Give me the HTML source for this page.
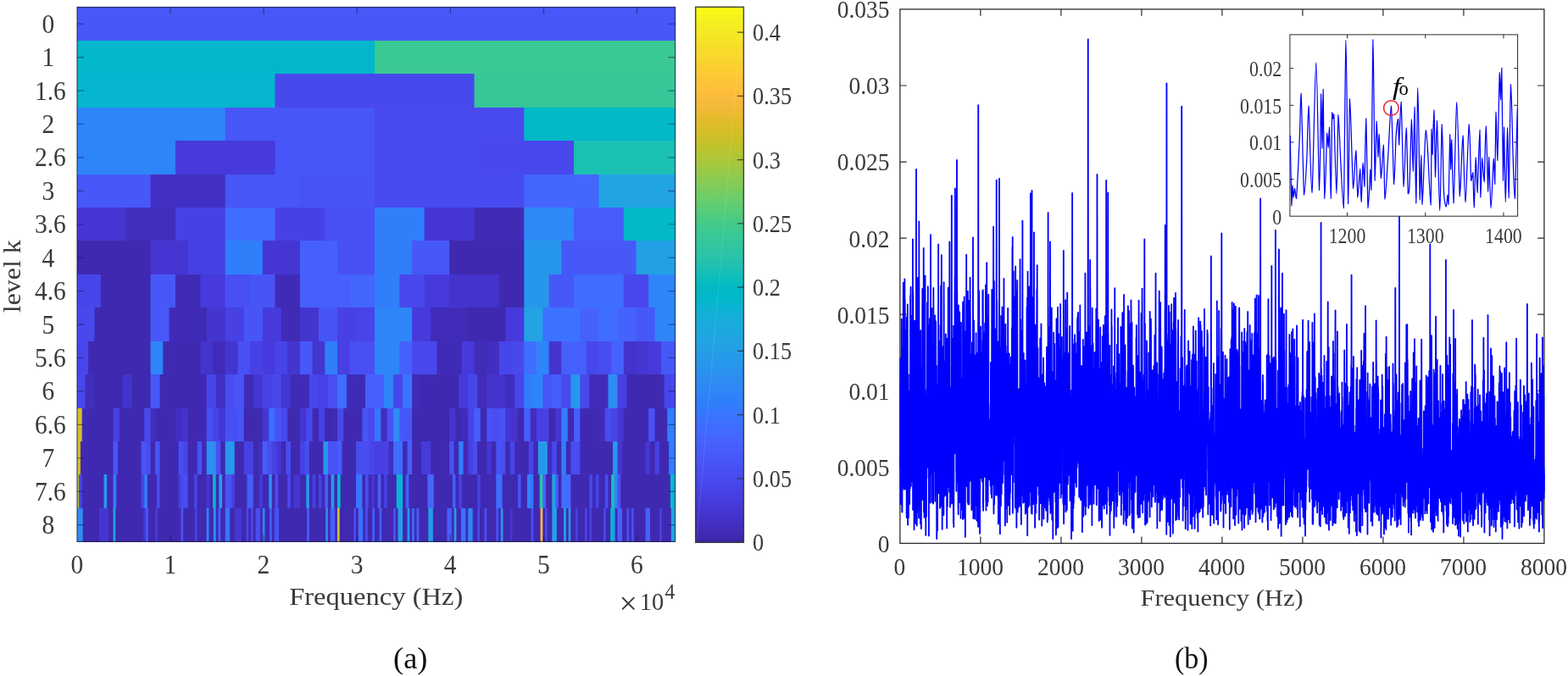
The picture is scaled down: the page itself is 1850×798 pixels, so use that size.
<!DOCTYPE html>
<html lang="en"><head><meta charset="utf-8"><title>Kurtogram and envelope spectrum</title>
<style>html,body{margin:0;padding:0;background:#fff}body{width:1850px;height:798px;overflow:hidden}svg{display:block}text{font-family:"Liberation Serif",serif;fill:#3a3a3a}</style></head><body>
<svg width="1850" height="798" viewBox="0 0 1850 798">
<rect width="1850" height="798" fill="#fff"/>
<rect x="91" y="8.5" width="705.6" height="630.8" fill="#3e26a8"/>
<defs>
<clipPath id="r0"><rect x="91" y="8" width="706" height="40"/></clipPath>
<clipPath id="r1"><rect x="91" y="48" width="706" height="39"/></clipPath>
<clipPath id="r2"><rect x="91" y="87" width="706" height="40"/></clipPath>
<clipPath id="r3"><rect x="91" y="127" width="706" height="39"/></clipPath>
<clipPath id="r4"><rect x="91" y="166" width="706" height="40"/></clipPath>
<clipPath id="r5"><rect x="91" y="206" width="706" height="39"/></clipPath>
<clipPath id="r6"><rect x="91" y="245" width="706" height="39"/></clipPath>
<clipPath id="r7"><rect x="91" y="284" width="706" height="40"/></clipPath>
<clipPath id="r8"><rect x="91" y="324" width="706" height="39"/></clipPath>
<clipPath id="r9"><rect x="91" y="363" width="706" height="40"/></clipPath>
<clipPath id="r10"><rect x="91" y="403" width="706" height="39"/></clipPath>
<clipPath id="r11"><rect x="91" y="442" width="706" height="40"/></clipPath>
<clipPath id="r12"><rect x="91" y="482" width="706" height="39"/></clipPath>
<clipPath id="r13"><rect x="91" y="521" width="706" height="39"/></clipPath>
<clipPath id="r14"><rect x="91" y="560" width="706" height="40"/></clipPath>
<clipPath id="r15"><rect x="91" y="600" width="706" height="40"/></clipPath>
</defs>
<g clip-path="url(#r0)">
<rect x="85" y="5" width="717.6" height="46" fill="#4758f8"/>
</g>
<g clip-path="url(#r1)">
<rect x="85" y="45" width="717.6" height="45" fill="#02b7cb"/>
<rect x="442.02" y="45" width="360.58" height="45" fill="#3bc993"/>
</g>
<g clip-path="url(#r2)">
<rect x="85" y="84" width="717.6" height="46" fill="#06b6ce"/>
<rect x="324.49" y="84" width="478.11" height="46" fill="#4849ed"/>
<rect x="559.55" y="84" width="243.05" height="46" fill="#36c799"/>
</g>
<g clip-path="url(#r3)">
<rect x="85" y="124" width="717.6" height="45" fill="#2e85f8"/>
<rect x="265.73" y="124" width="536.87" height="45" fill="#4757f7"/>
<rect x="442.02" y="124" width="360.58" height="45" fill="#484aee"/>
<rect x="618.31" y="124" width="184.29" height="45" fill="#01b9c7"/>
</g>
<g clip-path="url(#r4)">
<rect x="85" y="163" width="717.6" height="46" fill="#2e85f8"/>
<rect x="206.97" y="163" width="595.63" height="46" fill="#463adc"/>
<rect x="324.49" y="163" width="478.11" height="46" fill="#4756f6"/>
<rect x="442.02" y="163" width="360.58" height="46" fill="#484bef"/>
<rect x="559.55" y="163" width="243.05" height="46" fill="#4848ec"/>
<rect x="677.07" y="163" width="125.53" height="46" fill="#1bc0b4"/>
</g>
<g clip-path="url(#r5)">
<rect x="85" y="203" width="717.6" height="45" fill="#4758f8"/>
<rect x="177.58" y="203" width="625.02" height="45" fill="#4230c4"/>
<rect x="265.73" y="203" width="536.87" height="45" fill="#4756f6"/>
<rect x="353.88" y="203" width="448.73" height="45" fill="#4853f5"/>
<rect x="442.02" y="203" width="360.58" height="45" fill="#484bef"/>
<rect x="618.31" y="203" width="184.29" height="45" fill="#4466fd"/>
<rect x="706.45" y="203" width="96.15" height="45" fill="#21a3e4"/>
</g>
<g clip-path="url(#r6)">
<rect x="85" y="242" width="717.6" height="45" fill="#4536d3"/>
<rect x="148.2" y="242" width="654.4" height="45" fill="#412ebd"/>
<rect x="206.97" y="242" width="595.63" height="45" fill="#4740e3"/>
<rect x="265.73" y="242" width="536.87" height="45" fill="#3f6dfe"/>
<rect x="324.49" y="242" width="478.11" height="45" fill="#4741e5"/>
<rect x="383.26" y="242" width="419.34" height="45" fill="#4850f3"/>
<rect x="442.02" y="242" width="360.58" height="45" fill="#317efb"/>
<rect x="500.78" y="242" width="301.82" height="45" fill="#4536d3"/>
<rect x="559.55" y="242" width="243.05" height="45" fill="#402bb7"/>
<rect x="618.31" y="242" width="184.29" height="45" fill="#2d89f5"/>
<rect x="677.07" y="242" width="125.53" height="45" fill="#475cfa"/>
<rect x="735.84" y="242" width="66.76" height="45" fill="#01b9c7"/>
</g>
<g clip-path="url(#r7)">
<rect x="85" y="281" width="717.6" height="46" fill="#3f29b0"/>
<rect x="177.58" y="281" width="625.02" height="46" fill="#4536d3"/>
<rect x="221.66" y="281" width="580.94" height="46" fill="#4740e3"/>
<rect x="265.73" y="281" width="536.87" height="46" fill="#317efb"/>
<rect x="309.8" y="281" width="492.8" height="46" fill="#4536d3"/>
<rect x="353.88" y="281" width="448.73" height="46" fill="#4660fb"/>
<rect x="397.95" y="281" width="404.65" height="46" fill="#4850f3"/>
<rect x="442.02" y="281" width="360.58" height="46" fill="#317efb"/>
<rect x="486.09" y="281" width="316.51" height="46" fill="#4758f8"/>
<rect x="530.16" y="281" width="272.44" height="46" fill="#3f29b0"/>
<rect x="618.31" y="281" width="184.29" height="46" fill="#2797eb"/>
<rect x="662.38" y="281" width="140.22" height="46" fill="#4758f8"/>
<rect x="750.53" y="281" width="52.07" height="46" fill="#23a0e5"/>
</g>
<g clip-path="url(#r8)">
<rect x="85" y="321" width="717.6" height="45" fill="#4746eb"/>
<rect x="118.82" y="321" width="683.78" height="45" fill="#3f29b0"/>
<rect x="177.58" y="321" width="625.02" height="45" fill="#4758f8"/>
<rect x="206.97" y="321" width="595.63" height="45" fill="#402bb7"/>
<rect x="236.35" y="321" width="566.25" height="45" fill="#463adc"/>
<rect x="265.73" y="321" width="536.87" height="45" fill="#4850f3"/>
<rect x="295.11" y="321" width="507.49" height="45" fill="#4755f6"/>
<rect x="324.49" y="321" width="478.11" height="45" fill="#402bb7"/>
<rect x="353.88" y="321" width="448.73" height="45" fill="#4660fb"/>
<rect x="412.64" y="321" width="389.96" height="45" fill="#4466fd"/>
<rect x="442.02" y="321" width="360.58" height="45" fill="#317efb"/>
<rect x="471.4" y="321" width="331.2" height="45" fill="#4848ec"/>
<rect x="500.78" y="321" width="301.82" height="45" fill="#463adc"/>
<rect x="530.16" y="321" width="272.44" height="45" fill="#4433cc"/>
<rect x="588.93" y="321" width="213.67" height="45" fill="#3f29b0"/>
<rect x="618.31" y="321" width="184.29" height="45" fill="#2797eb"/>
<rect x="647.69" y="321" width="154.91" height="45" fill="#4758f8"/>
<rect x="677.07" y="321" width="125.53" height="45" fill="#3f6dfe"/>
<rect x="735.84" y="321" width="66.76" height="45" fill="#4848ec"/>
<rect x="765.22" y="321" width="37.38" height="45" fill="#2e85f8"/>
</g>
<g clip-path="url(#r9)">
<rect x="85" y="360" width="717.6" height="46" fill="#4848ec"/>
<rect x="111.48" y="360" width="691.12" height="46" fill="#3f29b0"/>
<rect x="177.58" y="360" width="625.02" height="46" fill="#4758f8"/>
<rect x="199.62" y="360" width="602.98" height="46" fill="#402bb7"/>
<rect x="243.69" y="360" width="558.91" height="46" fill="#4435d0"/>
<rect x="265.73" y="360" width="536.87" height="46" fill="#4740e3"/>
<rect x="287.77" y="360" width="514.83" height="46" fill="#4755f6"/>
<rect x="309.8" y="360" width="492.8" height="46" fill="#463adc"/>
<rect x="331.84" y="360" width="470.76" height="46" fill="#402bb7"/>
<rect x="353.88" y="360" width="448.73" height="46" fill="#4435d0"/>
<rect x="375.91" y="360" width="426.69" height="46" fill="#4755f6"/>
<rect x="397.95" y="360" width="404.65" height="46" fill="#4741e5"/>
<rect x="419.98" y="360" width="382.62" height="46" fill="#4744e8"/>
<rect x="442.02" y="360" width="360.58" height="46" fill="#2e85f8"/>
<rect x="486.09" y="360" width="316.51" height="46" fill="#463adc"/>
<rect x="508.13" y="360" width="294.47" height="46" fill="#412cb9"/>
<rect x="552.2" y="360" width="250.4" height="46" fill="#3f29b0"/>
<rect x="596.27" y="360" width="206.33" height="46" fill="#463adc"/>
<rect x="618.31" y="360" width="184.29" height="46" fill="#21a3e4"/>
<rect x="640.35" y="360" width="162.25" height="46" fill="#3b72ff"/>
<rect x="684.42" y="360" width="118.18" height="46" fill="#4562fc"/>
<rect x="706.45" y="360" width="96.15" height="46" fill="#3f6dfe"/>
<rect x="728.49" y="360" width="74.11" height="46" fill="#4562fc"/>
<rect x="750.53" y="360" width="52.07" height="46" fill="#4758f8"/>
<rect x="772.56" y="360" width="30.04" height="46" fill="#2e85f8"/>
</g>
<g clip-path="url(#r10)">
<rect x="85" y="400" width="717.6" height="45" fill="#4746eb"/>
<rect x="104.13" y="400" width="698.47" height="45" fill="#3f29b0"/>
<rect x="177.58" y="400" width="625.02" height="45" fill="#2e85f8"/>
<rect x="192.28" y="400" width="610.32" height="45" fill="#402ab4"/>
<rect x="206.97" y="400" width="595.63" height="45" fill="#3f29b0"/>
<rect x="236.35" y="400" width="566.25" height="45" fill="#4433cc"/>
<rect x="251.04" y="400" width="551.56" height="45" fill="#412cb9"/>
<rect x="265.73" y="400" width="536.87" height="45" fill="#4435d0"/>
<rect x="280.42" y="400" width="522.18" height="45" fill="#4850f3"/>
<rect x="295.11" y="400" width="507.49" height="45" fill="#4741e5"/>
<rect x="309.8" y="400" width="492.8" height="45" fill="#463adc"/>
<rect x="324.49" y="400" width="478.11" height="45" fill="#4744e8"/>
<rect x="339.18" y="400" width="463.42" height="45" fill="#4435d0"/>
<rect x="353.88" y="400" width="448.73" height="45" fill="#4758f8"/>
<rect x="368.57" y="400" width="434.03" height="45" fill="#4435d0"/>
<rect x="383.26" y="400" width="419.34" height="45" fill="#317efb"/>
<rect x="397.95" y="400" width="404.65" height="45" fill="#4740e3"/>
<rect x="412.64" y="400" width="389.96" height="45" fill="#4850f3"/>
<rect x="442.02" y="400" width="360.58" height="45" fill="#2e85f8"/>
<rect x="471.4" y="400" width="331.2" height="45" fill="#4660fb"/>
<rect x="486.09" y="400" width="316.51" height="45" fill="#4848ec"/>
<rect x="515.47" y="400" width="287.13" height="45" fill="#402bb7"/>
<rect x="544.86" y="400" width="257.74" height="45" fill="#463adc"/>
<rect x="559.55" y="400" width="243.05" height="45" fill="#412cb9"/>
<rect x="574.24" y="400" width="228.36" height="45" fill="#422fc1"/>
<rect x="588.93" y="400" width="213.67" height="45" fill="#4746eb"/>
<rect x="603.62" y="400" width="198.98" height="45" fill="#4848ec"/>
<rect x="618.31" y="400" width="184.29" height="45" fill="#3f6dfe"/>
<rect x="633" y="400" width="169.6" height="45" fill="#2e85f8"/>
<rect x="647.69" y="400" width="154.91" height="45" fill="#4435d0"/>
<rect x="662.38" y="400" width="140.22" height="45" fill="#4660fb"/>
<rect x="691.76" y="400" width="110.84" height="45" fill="#4746eb"/>
<rect x="706.45" y="400" width="96.15" height="45" fill="#484df0"/>
<rect x="721.15" y="400" width="81.45" height="45" fill="#4562fc"/>
<rect x="735.84" y="400" width="66.76" height="45" fill="#4433cc"/>
<rect x="750.53" y="400" width="52.07" height="45" fill="#4536d3"/>
<rect x="765.22" y="400" width="37.38" height="45" fill="#463adc"/>
<rect x="779.91" y="400" width="22.69" height="45" fill="#4758f8"/>
</g>
<g clip-path="url(#r11)">
<rect x="85" y="439" width="717.6" height="46" fill="#4848ec"/>
<rect x="100.46" y="439" width="702.14" height="46" fill="#412ebd"/>
<rect x="111.48" y="439" width="691.12" height="46" fill="#3f29b0"/>
<rect x="144.53" y="439" width="658.07" height="46" fill="#4433cc"/>
<rect x="155.55" y="439" width="647.05" height="46" fill="#3f29b0"/>
<rect x="177.58" y="439" width="625.02" height="46" fill="#4758f8"/>
<rect x="188.6" y="439" width="614" height="46" fill="#3f29b0"/>
<rect x="243.69" y="439" width="558.91" height="46" fill="#4746eb"/>
<rect x="254.71" y="439" width="547.89" height="46" fill="#4230c4"/>
<rect x="265.73" y="439" width="536.87" height="46" fill="#484df0"/>
<rect x="276.75" y="439" width="525.85" height="46" fill="#4755f6"/>
<rect x="287.77" y="439" width="514.83" height="46" fill="#402bb7"/>
<rect x="298.78" y="439" width="503.82" height="46" fill="#4536d3"/>
<rect x="309.8" y="439" width="492.8" height="46" fill="#4741e5"/>
<rect x="320.82" y="439" width="481.78" height="46" fill="#4848ec"/>
<rect x="331.84" y="439" width="470.76" height="46" fill="#4435d0"/>
<rect x="342.86" y="439" width="459.74" height="46" fill="#402bb7"/>
<rect x="364.89" y="439" width="437.71" height="46" fill="#4746eb"/>
<rect x="375.91" y="439" width="426.69" height="46" fill="#4741e5"/>
<rect x="386.93" y="439" width="415.67" height="46" fill="#4850f3"/>
<rect x="397.95" y="439" width="404.65" height="46" fill="#3f6dfe"/>
<rect x="408.97" y="439" width="393.63" height="46" fill="#402bb7"/>
<rect x="431" y="439" width="371.6" height="46" fill="#4660fb"/>
<rect x="453.04" y="439" width="349.56" height="46" fill="#2e85f8"/>
<rect x="464.06" y="439" width="338.54" height="46" fill="#4746eb"/>
<rect x="475.07" y="439" width="327.53" height="46" fill="#3b72ff"/>
<rect x="486.09" y="439" width="316.51" height="46" fill="#402bb7"/>
<rect x="497.11" y="439" width="305.49" height="46" fill="#3f29b0"/>
<rect x="541.18" y="439" width="261.42" height="46" fill="#463adc"/>
<rect x="552.2" y="439" width="250.4" height="46" fill="#4746eb"/>
<rect x="563.22" y="439" width="239.38" height="46" fill="#412cb9"/>
<rect x="574.24" y="439" width="228.36" height="46" fill="#4433cc"/>
<rect x="596.27" y="439" width="206.33" height="46" fill="#412ebd"/>
<rect x="607.29" y="439" width="195.31" height="46" fill="#4746eb"/>
<rect x="618.31" y="439" width="184.29" height="46" fill="#317efb"/>
<rect x="629.33" y="439" width="173.27" height="46" fill="#2e85f8"/>
<rect x="640.35" y="439" width="162.25" height="46" fill="#4755f6"/>
<rect x="651.36" y="439" width="151.24" height="46" fill="#465efb"/>
<rect x="662.38" y="439" width="140.22" height="46" fill="#4848ec"/>
<rect x="673.4" y="439" width="129.2" height="46" fill="#2797eb"/>
<rect x="684.42" y="439" width="118.18" height="46" fill="#4848ec"/>
<rect x="695.44" y="439" width="107.16" height="46" fill="#412cb9"/>
<rect x="717.47" y="439" width="85.13" height="46" fill="#2d8df2"/>
<rect x="728.49" y="439" width="74.11" height="46" fill="#4740e3"/>
<rect x="739.51" y="439" width="63.09" height="46" fill="#3f29b0"/>
<rect x="783.58" y="439" width="19.02" height="46" fill="#4746eb"/>
</g>
<g clip-path="url(#r12)">
<rect x="85" y="479" width="717.6" height="45" fill="#d3bf27"/>
<rect x="96.79" y="479" width="705.81" height="45" fill="#402bb7"/>
<rect x="104.13" y="479" width="698.47" height="45" fill="#3f29b0"/>
<rect x="133.51" y="479" width="669.09" height="45" fill="#4741e5"/>
<rect x="140.86" y="479" width="661.74" height="45" fill="#3f29b0"/>
<rect x="170.24" y="479" width="632.36" height="45" fill="#4848ec"/>
<rect x="177.58" y="479" width="625.02" height="45" fill="#412ebd"/>
<rect x="184.93" y="479" width="617.67" height="45" fill="#3f29b0"/>
<rect x="206.97" y="479" width="595.63" height="45" fill="#422fc1"/>
<rect x="214.31" y="479" width="588.29" height="45" fill="#4433cc"/>
<rect x="221.66" y="479" width="580.94" height="45" fill="#3f29b0"/>
<rect x="243.69" y="479" width="558.91" height="45" fill="#4850f3"/>
<rect x="251.04" y="479" width="551.56" height="45" fill="#4744e8"/>
<rect x="258.38" y="479" width="544.22" height="45" fill="#4536d3"/>
<rect x="265.73" y="479" width="536.87" height="45" fill="#4850f3"/>
<rect x="280.42" y="479" width="522.18" height="45" fill="#4755f6"/>
<rect x="287.77" y="479" width="514.83" height="45" fill="#3f29b0"/>
<rect x="309.8" y="479" width="492.8" height="45" fill="#4536d3"/>
<rect x="317.15" y="479" width="485.45" height="45" fill="#3f6dfe"/>
<rect x="324.49" y="479" width="478.11" height="45" fill="#4852f4"/>
<rect x="331.84" y="479" width="470.76" height="45" fill="#4848ec"/>
<rect x="339.18" y="479" width="463.42" height="45" fill="#3f29b0"/>
<rect x="353.88" y="479" width="448.73" height="45" fill="#4536d3"/>
<rect x="361.22" y="479" width="441.38" height="45" fill="#4848ec"/>
<rect x="368.57" y="479" width="434.03" height="45" fill="#3f29b0"/>
<rect x="375.91" y="479" width="426.69" height="45" fill="#4740e3"/>
<rect x="383.26" y="479" width="419.34" height="45" fill="#3f29b0"/>
<rect x="390.6" y="479" width="412" height="45" fill="#402ab4"/>
<rect x="397.95" y="479" width="404.65" height="45" fill="#4848ec"/>
<rect x="405.29" y="479" width="397.31" height="45" fill="#3f29b0"/>
<rect x="427.33" y="479" width="375.27" height="45" fill="#4755f6"/>
<rect x="434.67" y="479" width="367.93" height="45" fill="#4848ec"/>
<rect x="442.02" y="479" width="360.58" height="45" fill="#3875fe"/>
<rect x="449.37" y="479" width="353.23" height="45" fill="#412ebd"/>
<rect x="456.71" y="479" width="345.89" height="45" fill="#4852f4"/>
<rect x="464.06" y="479" width="338.54" height="45" fill="#2d8df2"/>
<rect x="471.4" y="479" width="331.2" height="45" fill="#4758f8"/>
<rect x="478.75" y="479" width="323.85" height="45" fill="#4755f6"/>
<rect x="486.09" y="479" width="316.51" height="45" fill="#3f29b0"/>
<rect x="530.16" y="479" width="272.44" height="45" fill="#4435d0"/>
<rect x="537.51" y="479" width="265.09" height="45" fill="#3f29b0"/>
<rect x="544.86" y="479" width="257.74" height="45" fill="#412cb9"/>
<rect x="552.2" y="479" width="250.4" height="45" fill="#4744e8"/>
<rect x="559.55" y="479" width="243.05" height="45" fill="#465efb"/>
<rect x="566.89" y="479" width="235.71" height="45" fill="#3f29b0"/>
<rect x="574.24" y="479" width="228.36" height="45" fill="#4852f4"/>
<rect x="581.58" y="479" width="221.02" height="45" fill="#484df0"/>
<rect x="588.93" y="479" width="213.67" height="45" fill="#4852f4"/>
<rect x="596.27" y="479" width="206.33" height="45" fill="#4536d3"/>
<rect x="603.62" y="479" width="198.98" height="45" fill="#4433cc"/>
<rect x="610.96" y="479" width="191.64" height="45" fill="#3f29b0"/>
<rect x="618.31" y="479" width="184.29" height="45" fill="#465efb"/>
<rect x="625.66" y="479" width="176.94" height="45" fill="#412ebd"/>
<rect x="633" y="479" width="169.6" height="45" fill="#4740e3"/>
<rect x="647.69" y="479" width="154.91" height="45" fill="#3f29b0"/>
<rect x="655.04" y="479" width="147.56" height="45" fill="#4536d3"/>
<rect x="662.38" y="479" width="140.22" height="45" fill="#317efb"/>
<rect x="669.73" y="479" width="132.87" height="45" fill="#3f29b0"/>
<rect x="677.07" y="479" width="125.53" height="45" fill="#465efb"/>
<rect x="684.42" y="479" width="118.18" height="45" fill="#3f29b0"/>
<rect x="706.45" y="479" width="96.15" height="45" fill="#412cb9"/>
<rect x="713.8" y="479" width="88.8" height="45" fill="#484df0"/>
<rect x="721.15" y="479" width="81.45" height="45" fill="#4744e8"/>
<rect x="728.49" y="479" width="74.11" height="45" fill="#4536d3"/>
<rect x="735.84" y="479" width="66.76" height="45" fill="#3f29b0"/>
<rect x="765.22" y="479" width="37.38" height="45" fill="#4852f4"/>
<rect x="772.56" y="479" width="30.04" height="45" fill="#3f29b0"/>
<rect x="787.25" y="479" width="15.35" height="45" fill="#317efb"/>
</g>
<g clip-path="url(#r13)">
<rect x="85" y="518" width="717.6" height="45" fill="#d3bf27"/>
<rect x="94.95" y="518" width="707.65" height="45" fill="#3f29b0"/>
<rect x="133.51" y="518" width="669.09" height="45" fill="#4755f6"/>
<rect x="139.02" y="518" width="663.58" height="45" fill="#3f29b0"/>
<rect x="166.57" y="518" width="636.03" height="45" fill="#4755f6"/>
<rect x="172.08" y="518" width="630.52" height="45" fill="#484df0"/>
<rect x="177.58" y="518" width="625.02" height="45" fill="#3f29b0"/>
<rect x="183.09" y="518" width="619.51" height="45" fill="#4755f6"/>
<rect x="188.6" y="518" width="614" height="45" fill="#3f29b0"/>
<rect x="210.64" y="518" width="591.96" height="45" fill="#484df0"/>
<rect x="216.15" y="518" width="586.45" height="45" fill="#4744e8"/>
<rect x="221.66" y="518" width="580.94" height="45" fill="#3f29b0"/>
<rect x="232.68" y="518" width="569.92" height="45" fill="#4852f4"/>
<rect x="238.18" y="518" width="564.42" height="45" fill="#3f29b0"/>
<rect x="243.69" y="518" width="558.91" height="45" fill="#2d8df2"/>
<rect x="254.71" y="518" width="547.89" height="45" fill="#4852f4"/>
<rect x="260.22" y="518" width="542.38" height="45" fill="#3f29b0"/>
<rect x="265.73" y="518" width="536.87" height="45" fill="#2797eb"/>
<rect x="276.75" y="518" width="525.85" height="45" fill="#3f29b0"/>
<rect x="287.77" y="518" width="514.83" height="45" fill="#4740e3"/>
<rect x="298.78" y="518" width="503.82" height="45" fill="#3f29b0"/>
<rect x="304.29" y="518" width="498.31" height="45" fill="#412ebd"/>
<rect x="309.8" y="518" width="492.8" height="45" fill="#465efb"/>
<rect x="315.31" y="518" width="487.29" height="45" fill="#484df0"/>
<rect x="320.82" y="518" width="481.78" height="45" fill="#4740e3"/>
<rect x="326.33" y="518" width="476.27" height="45" fill="#4536d3"/>
<rect x="331.84" y="518" width="470.76" height="45" fill="#3f29b0"/>
<rect x="337.35" y="518" width="465.25" height="45" fill="#484df0"/>
<rect x="342.86" y="518" width="459.74" height="45" fill="#3f29b0"/>
<rect x="353.88" y="518" width="448.73" height="45" fill="#4740e3"/>
<rect x="359.38" y="518" width="443.22" height="45" fill="#484df0"/>
<rect x="364.89" y="518" width="437.71" height="45" fill="#3f29b0"/>
<rect x="381.42" y="518" width="421.18" height="45" fill="#2797eb"/>
<rect x="386.93" y="518" width="415.67" height="45" fill="#4852f4"/>
<rect x="397.95" y="518" width="404.65" height="45" fill="#465efb"/>
<rect x="403.46" y="518" width="399.14" height="45" fill="#3f29b0"/>
<rect x="419.98" y="518" width="382.62" height="45" fill="#484df0"/>
<rect x="436.51" y="518" width="366.09" height="45" fill="#4744e8"/>
<rect x="442.02" y="518" width="360.58" height="45" fill="#4740e3"/>
<rect x="458.55" y="518" width="344.05" height="45" fill="#412ebd"/>
<rect x="464.06" y="518" width="338.54" height="45" fill="#3f6dfe"/>
<rect x="475.07" y="518" width="327.53" height="45" fill="#3f29b0"/>
<rect x="480.58" y="518" width="322.02" height="45" fill="#465efb"/>
<rect x="486.09" y="518" width="316.51" height="45" fill="#3f29b0"/>
<rect x="497.11" y="518" width="305.49" height="45" fill="#463adc"/>
<rect x="508.13" y="518" width="294.47" height="45" fill="#3f29b0"/>
<rect x="530.16" y="518" width="272.44" height="45" fill="#4852f4"/>
<rect x="535.67" y="518" width="266.93" height="45" fill="#3f29b0"/>
<rect x="541.18" y="518" width="261.42" height="45" fill="#317efb"/>
<rect x="546.69" y="518" width="255.91" height="45" fill="#3f29b0"/>
<rect x="552.2" y="518" width="250.4" height="45" fill="#4740e3"/>
<rect x="557.71" y="518" width="244.89" height="45" fill="#484df0"/>
<rect x="563.22" y="518" width="239.38" height="45" fill="#3f29b0"/>
<rect x="574.24" y="518" width="228.36" height="45" fill="#4536d3"/>
<rect x="579.75" y="518" width="222.85" height="45" fill="#3f29b0"/>
<rect x="585.26" y="518" width="217.34" height="45" fill="#4852f4"/>
<rect x="590.76" y="518" width="211.84" height="45" fill="#484df0"/>
<rect x="596.27" y="518" width="206.33" height="45" fill="#3f29b0"/>
<rect x="601.78" y="518" width="200.82" height="45" fill="#4744e8"/>
<rect x="607.29" y="518" width="195.31" height="45" fill="#3f29b0"/>
<rect x="623.82" y="518" width="178.78" height="45" fill="#4744e8"/>
<rect x="629.33" y="518" width="173.27" height="45" fill="#3f29b0"/>
<rect x="634.84" y="518" width="167.76" height="45" fill="#2797eb"/>
<rect x="645.86" y="518" width="156.74" height="45" fill="#412ebd"/>
<rect x="651.36" y="518" width="151.24" height="45" fill="#4848ec"/>
<rect x="656.87" y="518" width="145.73" height="45" fill="#3f29b0"/>
<rect x="662.38" y="518" width="140.22" height="45" fill="#317efb"/>
<rect x="667.89" y="518" width="134.71" height="45" fill="#3f29b0"/>
<rect x="673.4" y="518" width="129.2" height="45" fill="#484df0"/>
<rect x="684.42" y="518" width="118.18" height="45" fill="#3f29b0"/>
<rect x="722.98" y="518" width="79.62" height="45" fill="#2797eb"/>
<rect x="728.49" y="518" width="74.11" height="45" fill="#4536d3"/>
<rect x="734" y="518" width="68.6" height="45" fill="#3f29b0"/>
<rect x="761.55" y="518" width="41.05" height="45" fill="#4536d3"/>
<rect x="767.05" y="518" width="35.55" height="45" fill="#3f29b0"/>
<rect x="772.56" y="518" width="30.04" height="45" fill="#4740e3"/>
<rect x="778.07" y="518" width="24.53" height="45" fill="#3f29b0"/>
<rect x="789.09" y="518" width="13.51" height="45" fill="#317efb"/>
</g>
<g clip-path="url(#r14)">
<rect x="85" y="557" width="717.6" height="46" fill="#b3c534"/>
<rect x="93.11" y="557" width="709.49" height="46" fill="#4744e8"/>
<rect x="96.79" y="557" width="705.81" height="46" fill="#3f29b0"/>
<rect x="122.49" y="557" width="680.11" height="46" fill="#2797eb"/>
<rect x="126.17" y="557" width="676.43" height="46" fill="#3f29b0"/>
<rect x="133.51" y="557" width="669.09" height="46" fill="#317efb"/>
<rect x="137.19" y="557" width="665.41" height="46" fill="#3f29b0"/>
<rect x="166.57" y="557" width="636.03" height="46" fill="#4744e8"/>
<rect x="170.24" y="557" width="632.36" height="46" fill="#317efb"/>
<rect x="173.91" y="557" width="628.69" height="46" fill="#3f29b0"/>
<rect x="184.93" y="557" width="617.67" height="46" fill="#484df0"/>
<rect x="188.6" y="557" width="614" height="46" fill="#3f29b0"/>
<rect x="210.64" y="557" width="591.96" height="46" fill="#4740e3"/>
<rect x="214.31" y="557" width="588.29" height="46" fill="#484df0"/>
<rect x="221.66" y="557" width="580.94" height="46" fill="#3f29b0"/>
<rect x="229" y="557" width="573.6" height="46" fill="#4744e8"/>
<rect x="232.68" y="557" width="569.92" height="46" fill="#3f29b0"/>
<rect x="243.69" y="557" width="558.91" height="46" fill="#4536d3"/>
<rect x="247.37" y="557" width="555.23" height="46" fill="#3f29b0"/>
<rect x="251.04" y="557" width="551.56" height="46" fill="#0ab4d2"/>
<rect x="254.71" y="557" width="547.89" height="46" fill="#3f29b0"/>
<rect x="258.38" y="557" width="544.22" height="46" fill="#259de7"/>
<rect x="262.06" y="557" width="540.54" height="46" fill="#3f29b0"/>
<rect x="265.73" y="557" width="536.87" height="46" fill="#4852f4"/>
<rect x="273.08" y="557" width="529.52" height="46" fill="#4740e3"/>
<rect x="276.75" y="557" width="525.85" height="46" fill="#3f29b0"/>
<rect x="291.44" y="557" width="511.16" height="46" fill="#465efb"/>
<rect x="298.78" y="557" width="503.82" height="46" fill="#3f29b0"/>
<rect x="306.13" y="557" width="496.47" height="46" fill="#463adc"/>
<rect x="309.8" y="557" width="492.8" height="46" fill="#3f29b0"/>
<rect x="317.15" y="557" width="485.45" height="46" fill="#2d8df2"/>
<rect x="320.82" y="557" width="481.78" height="46" fill="#3f29b0"/>
<rect x="324.49" y="557" width="478.11" height="46" fill="#484df0"/>
<rect x="328.17" y="557" width="474.43" height="46" fill="#3f29b0"/>
<rect x="339.18" y="557" width="463.42" height="46" fill="#4848ec"/>
<rect x="342.86" y="557" width="459.74" height="46" fill="#3f29b0"/>
<rect x="346.53" y="557" width="456.07" height="46" fill="#4536d3"/>
<rect x="353.88" y="557" width="448.73" height="46" fill="#3f29b0"/>
<rect x="361.22" y="557" width="441.38" height="46" fill="#2797eb"/>
<rect x="364.89" y="557" width="437.71" height="46" fill="#3f29b0"/>
<rect x="368.57" y="557" width="434.03" height="46" fill="#4740e3"/>
<rect x="372.24" y="557" width="430.36" height="46" fill="#3f29b0"/>
<rect x="375.91" y="557" width="426.69" height="46" fill="#4740e3"/>
<rect x="379.58" y="557" width="423.02" height="46" fill="#3f29b0"/>
<rect x="383.26" y="557" width="419.34" height="46" fill="#465efb"/>
<rect x="386.93" y="557" width="415.67" height="46" fill="#3f29b0"/>
<rect x="390.6" y="557" width="412" height="46" fill="#259de7"/>
<rect x="394.27" y="557" width="408.33" height="46" fill="#3f29b0"/>
<rect x="397.95" y="557" width="404.65" height="46" fill="#02b7cb"/>
<rect x="401.62" y="557" width="400.98" height="46" fill="#3f29b0"/>
<rect x="419.98" y="557" width="382.62" height="46" fill="#3875fe"/>
<rect x="427.33" y="557" width="375.27" height="46" fill="#3f29b0"/>
<rect x="431" y="557" width="371.6" height="46" fill="#484df0"/>
<rect x="434.67" y="557" width="367.93" height="46" fill="#3f29b0"/>
<rect x="438.35" y="557" width="364.25" height="46" fill="#4536d3"/>
<rect x="442.02" y="557" width="360.58" height="46" fill="#3f29b0"/>
<rect x="445.69" y="557" width="356.91" height="46" fill="#465efb"/>
<rect x="449.37" y="557" width="353.23" height="46" fill="#3f29b0"/>
<rect x="453.04" y="557" width="349.56" height="46" fill="#4740e3"/>
<rect x="456.71" y="557" width="345.89" height="46" fill="#3f29b0"/>
<rect x="467.73" y="557" width="334.87" height="46" fill="#0ab4d2"/>
<rect x="475.07" y="557" width="327.53" height="46" fill="#3f29b0"/>
<rect x="478.75" y="557" width="323.85" height="46" fill="#465efb"/>
<rect x="482.42" y="557" width="320.18" height="46" fill="#3f29b0"/>
<rect x="504.46" y="557" width="298.14" height="46" fill="#4466fd"/>
<rect x="511.8" y="557" width="290.8" height="46" fill="#3f29b0"/>
<rect x="533.84" y="557" width="268.76" height="46" fill="#465efb"/>
<rect x="537.51" y="557" width="265.09" height="46" fill="#3f29b0"/>
<rect x="541.18" y="557" width="261.42" height="46" fill="#4740e3"/>
<rect x="544.86" y="557" width="257.74" height="46" fill="#3f29b0"/>
<rect x="563.22" y="557" width="239.38" height="46" fill="#4740e3"/>
<rect x="566.89" y="557" width="235.71" height="46" fill="#3f29b0"/>
<rect x="585.26" y="557" width="217.34" height="46" fill="#3f6dfe"/>
<rect x="592.6" y="557" width="210" height="46" fill="#3f29b0"/>
<rect x="610.96" y="557" width="191.64" height="46" fill="#4852f4"/>
<rect x="614.64" y="557" width="187.96" height="46" fill="#3f29b0"/>
<rect x="621.98" y="557" width="180.62" height="46" fill="#2e85f8"/>
<rect x="625.66" y="557" width="176.94" height="46" fill="#3875fe"/>
<rect x="629.33" y="557" width="173.27" height="46" fill="#3f29b0"/>
<rect x="636.67" y="557" width="165.93" height="46" fill="#29c3aa"/>
<rect x="640.35" y="557" width="162.25" height="46" fill="#4562fc"/>
<rect x="644.02" y="557" width="158.58" height="46" fill="#3f29b0"/>
<rect x="651.36" y="557" width="151.24" height="46" fill="#1da8e0"/>
<rect x="655.04" y="557" width="147.56" height="46" fill="#465efb"/>
<rect x="658.71" y="557" width="143.89" height="46" fill="#3f29b0"/>
<rect x="662.38" y="557" width="140.22" height="46" fill="#3f6dfe"/>
<rect x="673.4" y="557" width="129.2" height="46" fill="#3f29b0"/>
<rect x="695.44" y="557" width="107.16" height="46" fill="#4848ec"/>
<rect x="699.11" y="557" width="103.49" height="46" fill="#3f29b0"/>
<rect x="702.78" y="557" width="99.82" height="46" fill="#4744e8"/>
<rect x="706.45" y="557" width="96.15" height="46" fill="#3f29b0"/>
<rect x="713.8" y="557" width="88.8" height="46" fill="#484df0"/>
<rect x="717.47" y="557" width="85.13" height="46" fill="#3f29b0"/>
<rect x="721.15" y="557" width="81.45" height="46" fill="#1bc0b4"/>
<rect x="724.82" y="557" width="77.78" height="46" fill="#2e85f8"/>
<rect x="728.49" y="557" width="74.11" height="46" fill="#4852f4"/>
<rect x="732.16" y="557" width="70.44" height="46" fill="#3f29b0"/>
<rect x="790.93" y="557" width="11.67" height="46" fill="#0ab4d2"/>
</g>
<g clip-path="url(#r15)">
<rect x="85" y="597" width="717.6" height="46" fill="#2d8df2"/>
<rect x="97.7" y="597" width="704.9" height="46" fill="#3f29b0"/>
<rect x="116.99" y="597" width="685.61" height="46" fill="#4536d3"/>
<rect x="128" y="597" width="674.6" height="46" fill="#3f29b0"/>
<rect x="133.51" y="597" width="669.09" height="46" fill="#21a3e4"/>
<rect x="136.27" y="597" width="666.33" height="46" fill="#3f29b0"/>
<rect x="169.32" y="597" width="633.28" height="46" fill="#4536d3"/>
<rect x="172.08" y="597" width="630.52" height="46" fill="#4758f8"/>
<rect x="174.83" y="597" width="627.77" height="46" fill="#3f29b0"/>
<rect x="183.09" y="597" width="619.51" height="46" fill="#463adc"/>
<rect x="185.85" y="597" width="616.75" height="46" fill="#3f29b0"/>
<rect x="213.39" y="597" width="589.21" height="46" fill="#4852f4"/>
<rect x="216.15" y="597" width="586.45" height="46" fill="#3f29b0"/>
<rect x="229.92" y="597" width="572.68" height="46" fill="#4740e3"/>
<rect x="232.68" y="597" width="569.92" height="46" fill="#3f29b0"/>
<rect x="243.69" y="597" width="558.91" height="46" fill="#2e85f8"/>
<rect x="246.45" y="597" width="556.15" height="46" fill="#3f29b0"/>
<rect x="251.96" y="597" width="550.64" height="46" fill="#2797eb"/>
<rect x="254.71" y="597" width="547.89" height="46" fill="#3f29b0"/>
<rect x="257.47" y="597" width="545.13" height="46" fill="#465efb"/>
<rect x="260.22" y="597" width="542.38" height="46" fill="#3f29b0"/>
<rect x="265.73" y="597" width="536.87" height="46" fill="#3875fe"/>
<rect x="271.24" y="597" width="531.36" height="46" fill="#3f29b0"/>
<rect x="276.75" y="597" width="525.85" height="46" fill="#4536d3"/>
<rect x="285.01" y="597" width="517.59" height="46" fill="#3f29b0"/>
<rect x="290.52" y="597" width="512.08" height="46" fill="#4744e8"/>
<rect x="293.28" y="597" width="509.32" height="46" fill="#3f29b0"/>
<rect x="296.03" y="597" width="506.57" height="46" fill="#4848ec"/>
<rect x="298.78" y="597" width="503.82" height="46" fill="#3f29b0"/>
<rect x="301.54" y="597" width="501.06" height="46" fill="#484df0"/>
<rect x="307.05" y="597" width="495.55" height="46" fill="#3f29b0"/>
<rect x="309.8" y="597" width="492.8" height="46" fill="#2e85f8"/>
<rect x="312.56" y="597" width="490.04" height="46" fill="#3f29b0"/>
<rect x="318.07" y="597" width="484.53" height="46" fill="#465efb"/>
<rect x="320.82" y="597" width="481.78" height="46" fill="#3f29b0"/>
<rect x="323.58" y="597" width="479.02" height="46" fill="#484df0"/>
<rect x="326.33" y="597" width="476.27" height="46" fill="#4852f4"/>
<rect x="329.08" y="597" width="473.52" height="46" fill="#3f29b0"/>
<rect x="362.14" y="597" width="440.46" height="46" fill="#465efb"/>
<rect x="364.89" y="597" width="437.71" height="46" fill="#3f29b0"/>
<rect x="384.17" y="597" width="418.43" height="46" fill="#2d8df2"/>
<rect x="386.93" y="597" width="415.67" height="46" fill="#3f29b0"/>
<rect x="389.68" y="597" width="412.92" height="46" fill="#465efb"/>
<rect x="395.19" y="597" width="407.41" height="46" fill="#3f29b0"/>
<rect x="397.95" y="597" width="404.65" height="46" fill="#d3bf27"/>
<rect x="400.7" y="597" width="401.9" height="46" fill="#3f29b0"/>
<rect x="417.23" y="597" width="385.37" height="46" fill="#484df0"/>
<rect x="419.98" y="597" width="382.62" height="46" fill="#3f29b0"/>
<rect x="422.74" y="597" width="379.86" height="46" fill="#3f6dfe"/>
<rect x="428.25" y="597" width="374.35" height="46" fill="#3f29b0"/>
<rect x="431" y="597" width="371.6" height="46" fill="#484df0"/>
<rect x="433.76" y="597" width="368.84" height="46" fill="#3f29b0"/>
<rect x="439.27" y="597" width="363.33" height="46" fill="#465efb"/>
<rect x="442.02" y="597" width="360.58" height="46" fill="#3f29b0"/>
<rect x="447.53" y="597" width="355.07" height="46" fill="#465efb"/>
<rect x="450.28" y="597" width="352.32" height="46" fill="#3f29b0"/>
<rect x="464.06" y="597" width="338.54" height="46" fill="#4852f4"/>
<rect x="466.81" y="597" width="335.79" height="46" fill="#3f29b0"/>
<rect x="469.57" y="597" width="333.03" height="46" fill="#259de7"/>
<rect x="475.07" y="597" width="327.53" height="46" fill="#3f29b0"/>
<rect x="480.58" y="597" width="322.02" height="46" fill="#2797eb"/>
<rect x="483.34" y="597" width="319.26" height="46" fill="#3f29b0"/>
<rect x="486.09" y="597" width="316.51" height="46" fill="#4466fd"/>
<rect x="488.85" y="597" width="313.75" height="46" fill="#3f29b0"/>
<rect x="491.6" y="597" width="311" height="46" fill="#465efb"/>
<rect x="494.36" y="597" width="308.24" height="46" fill="#3f29b0"/>
<rect x="505.37" y="597" width="297.23" height="46" fill="#259de7"/>
<rect x="510.88" y="597" width="291.72" height="46" fill="#3f29b0"/>
<rect x="527.41" y="597" width="275.19" height="46" fill="#465efb"/>
<rect x="532.92" y="597" width="269.68" height="46" fill="#3f29b0"/>
<rect x="535.67" y="597" width="266.93" height="46" fill="#269ae9"/>
<rect x="538.43" y="597" width="264.17" height="46" fill="#3f29b0"/>
<rect x="543.94" y="597" width="258.66" height="46" fill="#3f6dfe"/>
<rect x="549.45" y="597" width="253.15" height="46" fill="#3f29b0"/>
<rect x="552.2" y="597" width="250.4" height="46" fill="#2e85f8"/>
<rect x="557.71" y="597" width="244.89" height="46" fill="#3f29b0"/>
<rect x="563.22" y="597" width="239.38" height="46" fill="#4848ec"/>
<rect x="565.97" y="597" width="236.63" height="46" fill="#3f29b0"/>
<rect x="571.48" y="597" width="231.12" height="46" fill="#4852f4"/>
<rect x="574.24" y="597" width="228.36" height="46" fill="#3f29b0"/>
<rect x="585.26" y="597" width="217.34" height="46" fill="#4852f4"/>
<rect x="588.01" y="597" width="214.59" height="46" fill="#3f29b0"/>
<rect x="590.76" y="597" width="211.84" height="46" fill="#2797eb"/>
<rect x="593.52" y="597" width="209.08" height="46" fill="#3f29b0"/>
<rect x="601.78" y="597" width="200.82" height="46" fill="#4536d3"/>
<rect x="604.54" y="597" width="198.06" height="46" fill="#3f29b0"/>
<rect x="626.57" y="597" width="176.03" height="46" fill="#4852f4"/>
<rect x="629.33" y="597" width="173.27" height="46" fill="#3f29b0"/>
<rect x="637.59" y="597" width="165.01" height="46" fill="#fbbc3d"/>
<rect x="640.35" y="597" width="162.25" height="46" fill="#3f29b0"/>
<rect x="643.1" y="597" width="159.5" height="46" fill="#4848ec"/>
<rect x="645.86" y="597" width="156.74" height="46" fill="#3f29b0"/>
<rect x="651.36" y="597" width="151.24" height="46" fill="#21a3e4"/>
<rect x="656.87" y="597" width="145.73" height="46" fill="#3f29b0"/>
<rect x="665.14" y="597" width="137.46" height="46" fill="#1da8e0"/>
<rect x="667.89" y="597" width="134.71" height="46" fill="#3f29b0"/>
<rect x="670.65" y="597" width="131.95" height="46" fill="#2797eb"/>
<rect x="673.4" y="597" width="129.2" height="46" fill="#3f29b0"/>
<rect x="678.91" y="597" width="123.69" height="46" fill="#4740e3"/>
<rect x="681.66" y="597" width="120.94" height="46" fill="#3f29b0"/>
<rect x="689.93" y="597" width="112.67" height="46" fill="#4744e8"/>
<rect x="692.68" y="597" width="109.92" height="46" fill="#3f29b0"/>
<rect x="695.44" y="597" width="107.16" height="46" fill="#4740e3"/>
<rect x="698.19" y="597" width="104.41" height="46" fill="#3f29b0"/>
<rect x="711.96" y="597" width="90.64" height="46" fill="#4848ec"/>
<rect x="714.72" y="597" width="87.88" height="46" fill="#3f29b0"/>
<rect x="720.23" y="597" width="82.37" height="46" fill="#02bac4"/>
<rect x="722.98" y="597" width="79.62" height="46" fill="#2797eb"/>
<rect x="725.74" y="597" width="76.86" height="46" fill="#3f29b0"/>
<rect x="728.49" y="597" width="74.11" height="46" fill="#4562fc"/>
<rect x="734" y="597" width="68.6" height="46" fill="#3f29b0"/>
<rect x="739.51" y="597" width="63.09" height="46" fill="#4852f4"/>
<rect x="742.26" y="597" width="60.34" height="46" fill="#3f29b0"/>
<rect x="745.02" y="597" width="57.58" height="46" fill="#4852f4"/>
<rect x="747.77" y="597" width="54.83" height="46" fill="#3f29b0"/>
<rect x="761.55" y="597" width="41.05" height="46" fill="#4562fc"/>
<rect x="767.05" y="597" width="35.55" height="46" fill="#3f29b0"/>
<rect x="778.07" y="597" width="24.53" height="46" fill="#4740e3"/>
<rect x="780.83" y="597" width="21.77" height="46" fill="#3f29b0"/>
<rect x="791.85" y="597" width="10.75" height="46" fill="#21a3e4"/>
</g>
<!--heat end-->
<path d="M201.1 639.3v-8M201.1 8.5v8M311.2 639.3v-8M311.2 8.5v8M421.3 639.3v-8M421.3 8.5v8M531.4 639.3v-8M531.4 8.5v8M641.5 639.3v-8M641.5 8.5v8M751.6 639.3v-8M751.6 8.5v8M91 28.21h8M796.6 28.21h-8M91 67.64h8M796.6 67.64h-8M91 107.06h8M796.6 107.06h-8M91 146.49h8M796.6 146.49h-8M91 185.91h8M796.6 185.91h-8M91 225.34h8M796.6 225.34h-8M91 264.76h8M796.6 264.76h-8M91 304.19h8M796.6 304.19h-8M91 343.61h8M796.6 343.61h-8M91 383.04h8M796.6 383.04h-8M91 422.46h8M796.6 422.46h-8M91 461.89h8M796.6 461.89h-8M91 501.31h8M796.6 501.31h-8M91 540.74h8M796.6 540.74h-8M91 580.16h8M796.6 580.16h-8M91 619.59h8M796.6 619.59h-8" stroke="#14143c" stroke-opacity="0.5" stroke-width="1.2" fill="none"/>
<rect x="91" y="8.5" width="705.6" height="630.8" fill="none" stroke="#1c1c3a" stroke-opacity="0.7" stroke-width="1.3"/>
<text transform="translate(56.8 38.71) scale(1 1.04)" font-size="29.6" text-anchor="middle">0</text>
<text transform="translate(56.8 78.14) scale(1 1.04)" font-size="29.6" text-anchor="middle">1</text>
<text transform="translate(59.4 117.56) scale(1 1.04)" font-size="29.6" text-anchor="middle">1.6</text>
<text transform="translate(56.8 156.99) scale(1 1.04)" font-size="29.6" text-anchor="middle">2</text>
<text transform="translate(59.4 196.41) scale(1 1.04)" font-size="29.6" text-anchor="middle">2.6</text>
<text transform="translate(56.8 235.84) scale(1 1.04)" font-size="29.6" text-anchor="middle">3</text>
<text transform="translate(59.4 275.26) scale(1 1.04)" font-size="29.6" text-anchor="middle">3.6</text>
<text transform="translate(56.8 314.69) scale(1 1.04)" font-size="29.6" text-anchor="middle">4</text>
<text transform="translate(59.4 354.11) scale(1 1.04)" font-size="29.6" text-anchor="middle">4.6</text>
<text transform="translate(56.8 393.54) scale(1 1.04)" font-size="29.6" text-anchor="middle">5</text>
<text transform="translate(59.4 432.96) scale(1 1.04)" font-size="29.6" text-anchor="middle">5.6</text>
<text transform="translate(56.8 472.39) scale(1 1.04)" font-size="29.6" text-anchor="middle">6</text>
<text transform="translate(59.4 511.81) scale(1 1.04)" font-size="29.6" text-anchor="middle">6.6</text>
<text transform="translate(56.8 551.24) scale(1 1.04)" font-size="29.6" text-anchor="middle">7</text>
<text transform="translate(59.4 590.66) scale(1 1.04)" font-size="29.6" text-anchor="middle">7.6</text>
<text transform="translate(56.8 630.09) scale(1 1.04)" font-size="29.6" text-anchor="middle">8</text>
<text transform="translate(90.8 676.8) scale(1 1.04)" font-size="29.6" text-anchor="middle">0</text>
<text transform="translate(200.9 676.8) scale(1 1.04)" font-size="29.6" text-anchor="middle">1</text>
<text transform="translate(311 676.8) scale(1 1.04)" font-size="29.6" text-anchor="middle">2</text>
<text transform="translate(421.1 676.8) scale(1 1.04)" font-size="29.6" text-anchor="middle">3</text>
<text transform="translate(531.2 676.8) scale(1 1.04)" font-size="29.6" text-anchor="middle">4</text>
<text transform="translate(641.3 676.8) scale(1 1.04)" font-size="29.6" text-anchor="middle">5</text>
<text transform="translate(751.4 676.8) scale(1 1.04)" font-size="29.6" text-anchor="middle">6</text>
<text transform="translate(443.75 713.8) scale(1.068 0.95)" font-size="30.5" text-anchor="middle">Frequency (Hz)</text>
<text transform="translate(730.4 725.2)" font-size="38">×</text>
<text transform="translate(754.8 719.6) scale(0.96 1.02)" font-size="29.6">10</text>
<text transform="translate(784.6 707.4) scale(0.96 1.02)" font-size="24.5">4</text>
<text transform="translate(24.3 326.25) rotate(-90) scale(1.047 0.94)" font-size="30.5" text-anchor="middle">level k</text>
<text transform="translate(484.25 788.6) scale(1.068 1.045)" font-size="34" text-anchor="middle" style="fill:#111">(a)</text>
<defs><linearGradient id="pg" x1="0" y1="0" x2="0" y2="1"><stop offset="0%" stop-color="#f9fb15"/><stop offset="1.59%" stop-color="#f7f51b"/><stop offset="3.17%" stop-color="#f6ef20"/><stop offset="4.76%" stop-color="#f5e924"/><stop offset="6.35%" stop-color="#f5e327"/><stop offset="7.94%" stop-color="#f7dc2a"/><stop offset="9.52%" stop-color="#fad62d"/><stop offset="11.11%" stop-color="#fccf30"/><stop offset="12.7%" stop-color="#fec934"/><stop offset="14.29%" stop-color="#fec338"/><stop offset="15.87%" stop-color="#febe3c"/><stop offset="17.46%" stop-color="#f8ba3d"/><stop offset="19.05%" stop-color="#f0ba36"/><stop offset="20.63%" stop-color="#e6bb2d"/><stop offset="22.22%" stop-color="#dcbd29"/><stop offset="23.81%" stop-color="#d1bf27"/><stop offset="25.4%" stop-color="#c5c22a"/><stop offset="26.98%" stop-color="#b9c431"/><stop offset="28.57%" stop-color="#abc739"/><stop offset="30.16%" stop-color="#9dc943"/><stop offset="31.75%" stop-color="#8fcb4e"/><stop offset="33.33%" stop-color="#81cc59"/><stop offset="34.92%" stop-color="#72cd64"/><stop offset="36.51%" stop-color="#64cd6f"/><stop offset="38.1%" stop-color="#57cc7a"/><stop offset="39.68%" stop-color="#4acb84"/><stop offset="41.27%" stop-color="#3fca8e"/><stop offset="42.86%" stop-color="#37c897"/><stop offset="44.44%" stop-color="#31c69f"/><stop offset="46.03%" stop-color="#2cc4a7"/><stop offset="47.62%" stop-color="#24c1ae"/><stop offset="49.21%" stop-color="#19bfb6"/><stop offset="50.79%" stop-color="#0bbdbd"/><stop offset="52.38%" stop-color="#02bac3"/><stop offset="53.97%" stop-color="#01b8ca"/><stop offset="55.56%" stop-color="#08b5d0"/><stop offset="57.14%" stop-color="#12b1d6"/><stop offset="58.73%" stop-color="#18addb"/><stop offset="60.32%" stop-color="#1ca9df"/><stop offset="61.9%" stop-color="#20a5e3"/><stop offset="63.49%" stop-color="#23a0e5"/><stop offset="65.08%" stop-color="#259be8"/><stop offset="66.67%" stop-color="#2797eb"/><stop offset="68.25%" stop-color="#2b91ef"/><stop offset="69.84%" stop-color="#2d8cf3"/><stop offset="71.43%" stop-color="#2e87f7"/><stop offset="73.02%" stop-color="#2f81fa"/><stop offset="74.6%" stop-color="#327cfc"/><stop offset="76.19%" stop-color="#3875fe"/><stop offset="77.78%" stop-color="#3e6fff"/><stop offset="79.37%" stop-color="#4269fe"/><stop offset="80.95%" stop-color="#4563fd"/><stop offset="82.54%" stop-color="#465efb"/><stop offset="84.13%" stop-color="#4758f8"/><stop offset="85.71%" stop-color="#4852f4"/><stop offset="87.3%" stop-color="#484df0"/><stop offset="88.89%" stop-color="#4747eb"/><stop offset="90.48%" stop-color="#4741e5"/><stop offset="92.06%" stop-color="#463cde"/><stop offset="93.65%" stop-color="#4537d5"/><stop offset="95.24%" stop-color="#4332cb"/><stop offset="96.83%" stop-color="#422ec0"/><stop offset="98.41%" stop-color="#402ab4"/><stop offset="100%" stop-color="#3e26a8"/></linearGradient></defs>
<rect x="820.7" y="8.3" width="56.7" height="632" fill="url(#pg)" stroke="#2a2a2a" stroke-opacity="0.85" stroke-width="1.5"/>
<path d="M821.7 639.3L876.4 9.3" stroke="#fff" stroke-opacity="0.13" stroke-width="0.8" fill="none"/>
<text transform="translate(888 650.3) scale(0.975 1.07)" font-size="27">0</text>
<text transform="translate(888 575.03) scale(0.975 1.07)" font-size="27">0.05</text>
<text transform="translate(888 499.76) scale(0.975 1.07)" font-size="27">0.1</text>
<text transform="translate(888 424.49) scale(0.975 1.07)" font-size="27">0.15</text>
<text transform="translate(888 349.22) scale(0.975 1.07)" font-size="27">0.2</text>
<text transform="translate(888 273.95) scale(0.975 1.07)" font-size="27">0.25</text>
<text transform="translate(888 198.68) scale(0.975 1.07)" font-size="27">0.3</text>
<text transform="translate(888 123.41) scale(0.975 1.07)" font-size="27">0.35</text>
<text transform="translate(888 48.14) scale(0.975 1.07)" font-size="27">0.4</text>
<path d="M877.4 564.93h-7.5M877.4 489.66h-7.5M877.4 414.39h-7.5M877.4 339.12h-7.5M877.4 263.85h-7.5M877.4 188.58h-7.5M877.4 113.31h-7.5M877.4 38.04h-7.5" stroke="#2a2a2a" stroke-opacity="0.8" stroke-width="1.3" fill="none"/>
<path d="M1156.9 641.4v-7.8M1156.9 10.9v7.8M1251.9 641.4v-7.8M1251.9 10.9v7.8M1346.9 641.4v-7.8M1346.9 10.9v7.8M1441.9 641.4v-7.8M1441.9 10.9v7.8M1536.9 641.4v-7.8M1536.9 10.9v7.8M1631.9 641.4v-7.8M1631.9 10.9v7.8M1726.9 641.4v-7.8M1726.9 10.9v7.8M1061.9 551.33h7.8M1821.9 551.33h-7.8M1061.9 461.26h7.8M1821.9 461.26h-7.8M1061.9 371.19h7.8M1821.9 371.19h-7.8M1061.9 281.12h7.8M1821.9 281.12h-7.8M1061.9 191.05h7.8M1821.9 191.05h-7.8M1061.9 100.98h7.8M1821.9 100.98h-7.8" stroke="#2b2b2b" stroke-width="1.2" fill="none"/>
<rect x="1061.9" y="10.9" width="760" height="630.5" fill="none" stroke="#2b2b2b" stroke-width="1.3"/>
<polyline points="1061.9,537.9 1062,553.6 1062.09,452 1062.19,503.7 1062.28,422.6 1062.38,458.8 1062.47,578.4 1062.57,595 1062.66,508.2 1062.76,583.4 1062.85,528.8 1062.95,498.4 1063.04,558.5 1063.13,504.1 1063.23,455.3 1063.33,507 1063.42,528.4 1063.52,557.1 1063.61,515.5 1063.71,376.7 1063.8,488.9 1063.89,450.6 1063.99,433.8 1064.09,413.2 1064.18,480.2 1064.28,604.2 1064.37,581.7 1064.47,604.5 1064.56,503.1 1064.66,500.1 1064.75,424.7 1064.85,427.7 1064.94,541.1 1065.04,465.7 1065.13,410.5 1065.23,542.5 1065.32,571.7 1065.42,574.6 1065.51,502.5 1065.61,454 1065.7,354.8 1065.8,333.6 1065.89,483.4 1065.99,376.3 1066.08,514.5 1066.18,572.9 1066.27,444.1 1066.37,520.1 1066.46,547.6 1066.56,577.8 1066.65,522.7 1066.75,471.6 1066.84,397.6 1066.94,443.7 1067.03,499.5 1067.12,508 1067.22,502.8 1067.32,329.3 1067.41,331.8 1067.51,476.2 1067.6,393.9 1067.7,353.6 1067.79,375.9 1067.88,463.9 1067.98,508.1 1068.08,549.6 1068.17,527.1 1068.27,577.2 1068.36,529 1068.46,421.8 1068.55,416.4 1068.64,521.5 1068.74,509.5 1068.84,532.1 1068.93,438.1 1069.03,389.6 1069.12,529.1 1069.22,495.6 1069.31,535.6 1069.41,512.8 1069.5,515.3 1069.6,434.2 1069.69,610.9 1069.79,437.5 1069.88,374.2 1069.98,472.5 1070.07,458.9 1070.17,540.8 1070.26,602.4 1070.36,548.1 1070.45,474.4 1070.55,509.6 1070.64,379.2 1070.74,394.9 1070.83,359.4 1070.93,498 1071.02,520.7 1071.12,619.6 1071.21,575.4 1071.31,487.6 1071.4,588.6 1071.5,558.1 1071.59,488.5 1071.69,453.5 1071.78,442.1 1071.88,611.2 1071.97,555.3 1072.07,488.7 1072.16,462.6 1072.26,571.7 1072.35,515.8 1072.45,485.9 1072.54,492.9 1072.63,470.8 1072.73,571.1 1072.83,480.4 1072.92,518.6 1073.02,526.7 1073.11,589.9 1073.21,595 1073.3,507.2 1073.39,461.9 1073.49,529.2 1073.59,534.9 1073.68,509.6 1073.78,576.6 1073.87,539.9 1073.97,390.6 1074.06,349.2 1074.16,469.3 1074.25,400.6 1074.35,408.2 1074.44,414.2 1074.54,339 1074.63,398.1 1074.73,461.2 1074.82,448.4 1074.92,573.7 1075.01,542.5 1075.11,439.9 1075.2,372.4 1075.3,502.5 1075.39,509.1 1075.49,414.9 1075.58,409.6 1075.68,466.1 1075.77,489.9 1075.87,398.9 1075.96,481.5 1076.06,523.6 1076.15,425.8 1076.25,480.4 1076.34,568.1 1076.44,563.5 1076.53,439.7 1076.62,516.8 1076.72,461.1 1076.82,451.3 1076.91,282.5 1077.01,429.8 1077.1,601.8 1077.2,495.7 1077.29,343.6 1077.38,354.3 1077.48,465.3 1077.58,459.6 1077.67,502 1077.77,578.5 1077.86,540.6 1077.96,500.9 1078.05,558 1078.14,533.8 1078.24,517.2 1078.34,474.5 1078.43,442.1 1078.53,625.2 1078.62,561.7 1078.72,501.5 1078.81,415.1 1078.91,486.7 1079,487.2 1079.1,391.6 1079.19,378.7 1079.29,425.1 1079.38,578.4 1079.48,494.1 1079.57,590.6 1079.67,574 1079.76,572.1 1079.86,514.1 1079.95,421.5 1080.05,432.1 1080.14,502.4 1080.24,605.1 1080.33,509 1080.43,617.9 1080.52,488.3 1080.62,506.7 1080.71,457.8 1080.81,427.9 1080.9,367.6 1081,199.8 1081.09,355.6 1081.19,559.4 1081.28,510.3 1081.38,401.8 1081.47,386.6 1081.57,563.6 1081.66,528.8 1081.76,620.6 1081.85,486 1081.95,562.9 1082.04,550.3 1082.13,605.3 1082.23,586.3 1082.33,493.6 1082.42,393.4 1082.52,327.9 1082.61,367.1 1082.71,493.5 1082.8,520 1082.89,570.3 1082.99,594.5 1083.09,588.6 1083.18,555 1083.28,560.4 1083.37,556.4 1083.47,585.7 1083.56,499.3 1083.66,507 1083.75,527.4 1083.85,431.8 1083.94,456.4 1084.04,611.5 1084.13,579.1 1084.23,424.8 1084.32,261.4 1084.42,437.8 1084.51,569.2 1084.61,541.8 1084.7,584.7 1084.8,565.4 1084.89,558.2 1084.99,540.8 1085.08,476.7 1085.18,488.3 1085.27,502.8 1085.37,411.5 1085.46,401.9 1085.56,597.1 1085.65,478.7 1085.75,503.5 1085.84,524.5 1085.94,449.4 1086.03,618.4 1086.12,400.5 1086.22,390.1 1086.32,569.2 1086.41,513.6 1086.51,610.3 1086.6,461.8 1086.7,565.9 1086.79,550.8 1086.88,624.1 1086.98,544.3 1087.08,581.2 1087.17,531.5 1087.27,480.3 1087.36,542.5 1087.46,564.9 1087.55,468.2 1087.64,502.1 1087.74,562.3 1087.84,470.7 1087.93,434.2 1088.03,578.8 1088.12,526.4 1088.22,373.6 1088.31,340.8 1088.41,499.4 1088.5,564.5 1088.6,587.4 1088.69,589.9 1088.79,417.2 1088.88,447.4 1088.98,581.9 1089.07,542.7 1089.17,491.2 1089.26,497.9 1089.36,558.1 1089.45,575.9 1089.55,461.9 1089.64,417.9 1089.74,292.9 1089.83,426.2 1089.93,536 1090.02,604.5 1090.12,547.8 1090.21,478.3 1090.31,569.8 1090.4,538.9 1090.5,610.8 1090.59,550 1090.69,554.8 1090.78,489.5 1090.88,366.8 1090.97,447 1091.07,541.1 1091.16,532.9 1091.26,519 1091.35,512.4 1091.45,352.7 1091.54,325.4 1091.63,514.7 1091.73,478.3 1091.83,523.6 1091.92,544.1 1092.02,580.5 1092.11,469.8 1092.21,476.4 1092.3,631.9 1092.39,556.6 1092.49,488.9 1092.59,554.9 1092.68,503.7 1092.78,465.4 1092.87,506.7 1092.97,609.7 1093.06,492.2 1093.16,480.5 1093.25,547.9 1093.35,488.3 1093.44,528.8 1093.54,459.9 1093.63,473.9 1093.73,542 1093.82,469.9 1093.92,470.3 1094.01,357.3 1094.11,424.1 1094.2,458.6 1094.3,513.1 1094.39,551.9 1094.49,471 1094.58,438.3 1094.68,501.7 1094.77,338.1 1094.87,341.1 1094.96,514.1 1095.06,382.7 1095.15,515.8 1095.25,532.1 1095.34,422.8 1095.44,531.9 1095.53,564.4 1095.62,559.2 1095.72,554.9 1095.82,526.5 1095.91,632.4 1096.01,507.2 1096.1,483 1096.2,527.3 1096.29,566.3 1096.38,569.9 1096.48,510.8 1096.58,417.7 1096.67,526.5 1096.77,447 1096.86,447.7 1096.96,376.1 1097.05,452.6 1097.14,445.9 1097.24,472.7 1097.34,439.3 1097.43,540.5 1097.53,528.7 1097.62,474.3 1097.72,593.5 1097.81,559.8 1097.91,405.6 1098,277.1 1098.1,364.1 1098.19,554.3 1098.29,557.9 1098.38,556.5 1098.48,528.8 1098.57,459.3 1098.67,548.6 1098.76,514.9 1098.86,459.3 1098.95,499.6 1099.05,490.2 1099.14,414.8 1099.24,474.4 1099.33,363.9 1099.43,452.8 1099.52,560.3 1099.62,472.9 1099.71,412.8 1099.81,592.8 1099.9,585.9 1100,426.8 1100.09,583.5 1100.19,405.4 1100.28,472.4 1100.38,523.2 1100.47,480.3 1100.57,500.4 1100.66,528.8 1100.76,451.6 1100.85,522.2 1100.95,546.2 1101.04,594.5 1101.13,580.6 1101.23,452.8 1101.33,339.9 1101.42,377.9 1101.52,489.5 1101.61,555.9 1101.71,520.3 1101.8,429.1 1101.89,432.5 1101.99,481.6 1102.09,538.2 1102.18,477.3 1102.28,465.5 1102.37,555.7 1102.47,493.4 1102.56,435.5 1102.66,480.8 1102.75,503.3 1102.85,466.8 1102.94,517.3 1103.04,372.3 1103.13,471.7 1103.23,591.7 1103.32,570.7 1103.42,487 1103.51,434 1103.61,510.8 1103.7,565.1 1103.8,524.6 1103.89,513 1103.99,515.4 1104.08,552.1 1104.18,379.5 1104.27,426.4 1104.37,503.9 1104.46,553.4 1104.56,528.4 1104.65,564.9 1104.75,453.3 1104.84,466.3 1104.94,431.7 1105.03,489 1105.12,573.8 1105.22,636 1105.32,532.3 1105.41,454.2 1105.51,488.2 1105.6,535.9 1105.7,501.2 1105.79,587.6 1105.88,558.3 1105.98,539.5 1106.08,626.3 1106.17,475.9 1106.27,541.9 1106.36,579.2 1106.46,542.2 1106.55,529.2 1106.64,556.6 1106.74,537.5 1106.84,551.6 1106.93,559.8 1107.03,428.5 1107.12,288.3 1107.22,440.2 1107.31,546.6 1107.41,490.5 1107.5,506.2 1107.6,464.4 1107.69,527.4 1107.79,582.2 1107.88,508.2 1107.98,547.1 1108.07,495.1 1108.17,449.8 1108.26,514.8 1108.36,559.2 1108.45,511.1 1108.55,536 1108.64,402.7 1108.74,467.9 1108.83,492.6 1108.93,599.9 1109.02,550.7 1109.12,536.7 1109.21,588.9 1109.31,583.8 1109.4,488.9 1109.5,384 1109.59,409 1109.69,492 1109.78,490.4 1109.88,503.2 1109.97,427.7 1110.07,337.4 1110.16,347 1110.26,467.1 1110.35,569 1110.45,597.5 1110.54,444.3 1110.63,426.3 1110.73,419.1 1110.83,301.1 1110.92,448.8 1111.02,556.9 1111.11,546.9 1111.21,520.3 1111.3,520.4 1111.39,420 1111.49,469.3 1111.59,585.7 1111.68,624.8 1111.78,544.1 1111.87,554.8 1111.97,461.5 1112.06,409.2 1112.16,451 1112.25,484.3 1112.35,551.1 1112.44,519.3 1112.54,522.8 1112.63,439.2 1112.73,533.9 1112.82,443.3 1112.92,517.5 1113.01,532.6 1113.11,454.6 1113.2,419 1113.3,563.2 1113.39,607.9 1113.49,472.2 1113.58,333.2 1113.68,360.7 1113.77,519.8 1113.87,585.4 1113.96,509.1 1114.06,426.4 1114.15,510.7 1114.25,585.8 1114.34,534.6 1114.44,433.9 1114.53,456.7 1114.62,494.8 1114.72,439.2 1114.82,508.8 1114.91,515.9 1115.01,578 1115.1,441.4 1115.2,447 1115.29,501.2 1115.38,474.4 1115.48,491.7 1115.58,523.5 1115.67,532 1115.77,394.4 1115.86,397.1 1115.96,490.9 1116.05,584.7 1116.14,542.3 1116.24,504.4 1116.34,471.5 1116.43,571.1 1116.53,501.3 1116.62,548 1116.72,565.9 1116.81,441.4 1116.91,416 1117,464.7 1117.1,576.7 1117.19,623.4 1117.29,475.1 1117.38,399.8 1117.48,486.9 1117.57,490.9 1117.67,475.6 1117.76,577.8 1117.86,597.6 1117.95,558.9 1118.05,535 1118.14,571.2 1118.24,503.7 1118.33,429.2 1118.43,554.3 1118.52,574.8 1118.62,436.7 1118.71,339.7 1118.81,409.3 1118.9,467.8 1119,502.3 1119.09,486.9 1119.19,426.6 1119.28,426.7 1119.38,447.1 1119.47,384 1119.57,376.5 1119.66,458.5 1119.76,567.5 1119.85,426 1119.95,508 1120.04,502.1 1120.13,580.8 1120.23,466.1 1120.33,285.4 1120.42,423.2 1120.52,513.3 1120.61,571.4 1120.71,522.4 1120.8,457.1 1120.89,517 1120.99,598.5 1121.09,557.9 1121.18,545.1 1121.28,508.1 1121.37,468.8 1121.47,494.1 1121.56,483.5 1121.66,571.5 1121.75,578.8 1121.85,508.9 1121.94,484.3 1122.04,472.8 1122.13,586.5 1122.23,537.4 1122.32,501.1 1122.42,521.9 1122.51,531.6 1122.61,491.1 1122.7,378.2 1122.8,230.8 1122.89,412.1 1122.99,594.5 1123.08,515.9 1123.18,569.6 1123.27,587.1 1123.37,536.9 1123.46,535.7 1123.56,495.4 1123.65,420.2 1123.75,482.6 1123.84,586.9 1123.94,538 1124.03,549 1124.12,448.3 1124.22,399.6 1124.32,438.9 1124.41,427.3 1124.51,503.4 1124.6,503.8 1124.7,466.1 1124.79,569 1124.88,617.5 1124.98,509.3 1125.08,384.6 1125.17,406.1 1125.27,622.1 1125.36,570.2 1125.46,570.5 1125.55,431.1 1125.64,435.4 1125.74,464.1 1125.84,467.7 1125.93,506.6 1126.03,484.9 1126.12,514.4 1126.22,519.2 1126.31,488.8 1126.41,534.9 1126.5,357.9 1126.6,327.7 1126.69,530.9 1126.79,433.1 1126.88,222.5 1126.98,370.5 1127.07,465.3 1127.17,503.2 1127.26,496 1127.36,498.6 1127.45,475.3 1127.55,472 1127.64,412.8 1127.74,417.1 1127.83,505.3 1127.93,460.8 1128.02,445.9 1128.12,459.5 1128.21,557.4 1128.31,526 1128.4,579.7 1128.5,470.8 1128.59,502.2 1128.69,478.2 1128.78,405.6 1128.88,351.6 1128.97,189 1129.07,362.5 1129.16,469.3 1129.26,345.5 1129.35,424.8 1129.45,522.3 1129.54,569.7 1129.63,464.5 1129.73,509.8 1129.83,439.7 1129.92,397.3 1130.02,418.2 1130.11,442.8 1130.21,446.7 1130.3,403.1 1130.39,536 1130.49,599.5 1130.59,520.1 1130.68,607.2 1130.78,455.7 1130.87,360.4 1130.97,388.4 1131.06,573 1131.16,545.9 1131.25,368.1 1131.35,419.4 1131.44,585.1 1131.54,530.3 1131.63,576.1 1131.73,540.9 1131.82,593.2 1131.92,452.4 1132.01,471.9 1132.11,477.3 1132.2,368.5 1132.3,471.5 1132.39,486.1 1132.49,438.1 1132.58,484.3 1132.68,419.1 1132.77,423.4 1132.87,527.9 1132.96,566.2 1133.06,484.7 1133.15,555.4 1133.25,524.5 1133.34,510.2 1133.44,551.2 1133.53,611.8 1133.62,502.3 1133.72,449.9 1133.82,481.5 1133.91,380.7 1134.01,509.9 1134.1,523 1134.2,509.2 1134.29,457.7 1134.38,487.5 1134.48,455.2 1134.58,447.2 1134.67,520.4 1134.77,557.1 1134.86,565.7 1134.96,570.4 1135.05,527 1135.14,601.5 1135.24,567.9 1135.34,526.9 1135.43,457.5 1135.53,456.1 1135.62,584.6 1135.72,572.1 1135.81,519 1135.91,612.9 1136,370.1 1136.1,356.5 1136.19,460.4 1136.29,509.5 1136.38,559.7 1136.48,612.7 1136.57,547.8 1136.67,526.1 1136.76,577.8 1136.86,548.5 1136.95,546.9 1137.05,575.5 1137.14,485.4 1137.24,473.5 1137.33,506.1 1137.43,537.2 1137.52,610.9 1137.62,464.3 1137.71,350.3 1137.81,394.6 1137.9,441.9 1138,511.4 1138.09,464.5 1138.19,459 1138.28,518.4 1138.38,588.2 1138.47,594.4 1138.57,474.4 1138.66,431.4 1138.76,450.1 1138.85,633.8 1138.95,511.3 1139.04,512.3 1139.13,391.6 1139.23,492.2 1139.33,522.8 1139.42,548 1139.52,548.3 1139.61,563.9 1139.71,437.6 1139.8,444.6 1139.89,464.3 1139.99,552 1140.09,439.9 1140.18,300.7 1140.28,431.6 1140.37,459.4 1140.47,372.4 1140.56,457.1 1140.66,574 1140.75,550.6 1140.85,566.7 1140.94,524.9 1141.04,554.7 1141.13,534.1 1141.23,460.6 1141.32,408.7 1141.42,549 1141.51,563.3 1141.61,520 1141.7,593.1 1141.8,383.1 1141.89,343.9 1141.99,543.6 1142.08,524.4 1142.18,447.6 1142.27,595.3 1142.37,535.6 1142.46,457 1142.56,427.1 1142.65,440.4 1142.75,546 1142.84,468 1142.94,531.8 1143.03,512.2 1143.12,453.4 1143.22,355 1143.32,451.9 1143.41,595.3 1143.51,524.3 1143.6,520.9 1143.7,511.3 1143.79,439.5 1143.88,359.1 1143.98,424.4 1144.08,512.7 1144.17,473.7 1144.27,531.8 1144.36,485 1144.46,494.7 1144.55,327.6 1144.64,346.5 1144.74,374.6 1144.84,393.5 1144.93,567.7 1145.03,477.7 1145.12,501.4 1145.22,522 1145.31,464.3 1145.41,554.9 1145.5,417.7 1145.6,497.5 1145.69,479.4 1145.79,433.2 1145.88,459.1 1145.98,558.7 1146.07,489.5 1146.17,451.8 1146.26,523.6 1146.36,601.7 1146.45,602 1146.55,566.5 1146.64,454 1146.74,429.3 1146.83,540.1 1146.93,404.3 1147.02,575.9 1147.12,536.5 1147.21,503.1 1147.31,580.6 1147.4,460.8 1147.5,499.1 1147.59,405 1147.69,404.3 1147.78,463.2 1147.88,454.3 1147.97,280.5 1148.07,419.7 1148.16,536.3 1148.26,553.6 1148.35,611.9 1148.45,545.4 1148.54,505.8 1148.63,518 1148.73,534.1 1148.83,518.9 1148.92,480.2 1149.02,378.3 1149.11,430.5 1149.21,512.7 1149.3,469.9 1149.39,505.7 1149.49,479.9 1149.59,570.2 1149.68,519.5 1149.78,434.5 1149.87,522.5 1149.97,573 1150.06,518.1 1150.16,612.5 1150.25,419.5 1150.35,478.6 1150.44,552.9 1150.54,486.2 1150.63,539.4 1150.73,596.9 1150.82,473.9 1150.92,448.6 1151.01,450.7 1151.11,446.8 1151.2,459.4 1151.3,492 1151.39,491.1 1151.49,455 1151.58,393.1 1151.68,594.4 1151.77,485 1151.87,565.4 1151.96,592.4 1152.06,506.6 1152.15,538.7 1152.25,613.8 1152.34,484.1 1152.44,423.7 1152.53,489.3 1152.62,614.8 1152.72,496.2 1152.82,544.5 1152.91,446.9 1153.01,417 1153.1,437.1 1153.2,544 1153.29,601.8 1153.38,503.9 1153.48,499.1 1153.58,519.9 1153.67,541.3 1153.77,543.7 1153.86,540 1153.96,531.4 1154.05,621.8 1154.14,392.2 1154.24,124.1 1154.34,407.6 1154.43,380.3 1154.53,371.1 1154.62,486 1154.72,607.5 1154.81,577.8 1154.91,475.6 1155,446.8 1155.1,343.2 1155.19,346.5 1155.29,353.6 1155.38,510.7 1155.48,531 1155.57,532.9 1155.67,620.1 1155.76,453.4 1155.86,413.4 1155.95,629.9 1156.05,627.2 1156.14,567.5 1156.24,579.1 1156.33,421.5 1156.43,541.3 1156.52,460.5 1156.62,493.4 1156.71,520.3 1156.81,461.6 1156.9,386.4 1157,385.6 1157.09,508.9 1157.19,547.9 1157.28,543.6 1157.38,472 1157.47,510.6 1157.57,416.4 1157.66,562.4 1157.76,502.2 1157.85,549.6 1157.95,539.9 1158.04,564.4 1158.13,519.2 1158.23,509.2 1158.33,534.1 1158.42,464.1 1158.52,434.5 1158.61,562.2 1158.71,537.7 1158.8,568.4 1158.89,510.3 1158.99,424.5 1159.09,401.9 1159.18,471 1159.28,451.9 1159.37,343.5 1159.47,369.1 1159.56,532.8 1159.66,550.6 1159.75,342.5 1159.85,374.9 1159.94,599.2 1160.04,552.1 1160.13,602.8 1160.23,550.5 1160.32,453.3 1160.42,443.4 1160.51,520.3 1160.61,525.9 1160.7,465.7 1160.8,473.1 1160.89,418.9 1160.99,393.5 1161.08,426.4 1161.18,453.9 1161.27,490.5 1161.37,532.8 1161.46,502.9 1161.56,536.2 1161.65,562.8 1161.75,521.8 1161.84,550.9 1161.94,490.4 1162.03,424 1162.12,381.4 1162.22,401.5 1162.32,455.3 1162.41,521.5 1162.51,546.9 1162.6,551.5 1162.7,423.7 1162.79,497.4 1162.88,430.3 1162.98,336.5 1163.08,468.3 1163.17,511.5 1163.27,592.3 1163.36,458.7 1163.46,602.4 1163.55,514.4 1163.64,569.7 1163.74,427.9 1163.84,526.2 1163.93,381.7 1164.03,437.3 1164.12,393.7 1164.22,310.2 1164.31,408.3 1164.41,402.3 1164.5,490.6 1164.6,572.1 1164.69,507.2 1164.79,466.7 1164.88,597.1 1164.98,513.2 1165.07,504 1165.17,556 1165.26,532 1165.36,469.9 1165.45,397.7 1165.55,438 1165.64,592.3 1165.74,536.2 1165.83,447.8 1165.93,372.1 1166.02,486.1 1166.12,468.1 1166.21,385.3 1166.31,347.7 1166.4,545.4 1166.5,548.8 1166.59,477.6 1166.69,489.8 1166.78,530.8 1166.88,555.2 1166.97,522.9 1167.07,500.6 1167.16,560.2 1167.26,566.1 1167.35,561.2 1167.45,531.6 1167.54,550 1167.63,519 1167.73,522.8 1167.83,503.7 1167.92,548.6 1168.02,533.7 1168.11,549.4 1168.21,545.8 1168.3,495.3 1168.39,537 1168.49,546.5 1168.59,554.7 1168.68,572.7 1168.78,559.9 1168.87,495.5 1168.97,428 1169.06,575.1 1169.16,567.5 1169.25,544.9 1169.35,583.2 1169.44,452.3 1169.54,486.2 1169.63,568.4 1169.73,517.8 1169.82,524.6 1169.92,548.3 1170.01,587.6 1170.11,444.8 1170.2,398.4 1170.3,342 1170.39,406.6 1170.49,572.5 1170.58,566 1170.68,513.3 1170.77,472 1170.87,466.2 1170.96,492.4 1171.06,566.3 1171.15,408.9 1171.25,373 1171.34,439.8 1171.44,452.3 1171.53,452.3 1171.62,468.7 1171.72,571.8 1171.82,564 1171.91,398.9 1172.01,339.4 1172.1,267.7 1172.2,327.7 1172.29,403 1172.38,598.2 1172.48,606.3 1172.58,517 1172.67,405.4 1172.77,343.5 1172.86,452.3 1172.96,331.9 1173.05,440.6 1173.14,595.4 1173.24,517.5 1173.34,535 1173.43,439.1 1173.53,508 1173.62,556.8 1173.72,424.2 1173.81,452.3 1173.91,552.8 1174,515.7 1174.1,388.5 1174.19,402.5 1174.29,392.8 1174.38,452 1174.48,452.3 1174.57,452.3 1174.67,565 1174.76,446.2 1174.86,394.3 1174.95,446.5 1175.05,584.5 1175.14,584.3 1175.24,578.6 1175.33,454.8 1175.43,541 1175.52,498.7 1175.62,404.4 1175.71,212.6 1175.81,297.9 1175.9,434.2 1176,564.4 1176.09,584 1176.19,355.2 1176.28,387.4 1176.38,437.8 1176.47,452.3 1176.57,516.2 1176.66,501.4 1176.76,479.6 1176.85,506.6 1176.95,573.6 1177.04,515.3 1177.13,452.3 1177.23,466.4 1177.33,556.6 1177.42,523.7 1177.52,531.6 1177.61,587.2 1177.71,501.9 1177.8,566.6 1177.89,618.6 1177.99,574.7 1178.09,559.8 1178.18,402.9 1178.28,513.3 1178.37,534.9 1178.47,540.5 1178.56,533.4 1178.66,615.5 1178.75,518.2 1178.85,452.3 1178.94,383.9 1179.04,210.9 1179.13,344.6 1179.23,452.3 1179.32,472.7 1179.42,452 1179.51,410.2 1179.61,574.4 1179.7,495.3 1179.8,442 1179.89,630.2 1179.99,556.6 1180.08,570.3 1180.18,452.3 1180.27,500.1 1180.37,536.7 1180.46,594.3 1180.56,454.4 1180.65,484.7 1180.75,546.9 1180.84,595.9 1180.94,597 1181.03,442.3 1181.12,411.9 1181.22,373 1181.32,411.4 1181.41,530.3 1181.51,530.5 1181.6,510.6 1181.7,583.1 1181.79,449.2 1181.88,438.9 1181.98,423 1182.08,404.4 1182.17,490.2 1182.27,439 1182.36,400 1182.46,362.5 1182.55,426.1 1182.64,529.6 1182.74,495 1182.84,546 1182.93,570 1183.03,451.6 1183.12,426.1 1183.22,463.2 1183.31,540.7 1183.41,560.2 1183.5,452.3 1183.6,452.3 1183.69,405.8 1183.79,446 1183.88,540.7 1183.98,495.1 1184.07,375.5 1184.17,452.3 1184.26,452.3 1184.36,475.9 1184.45,329 1184.55,396.6 1184.64,452.3 1184.74,452.3 1184.83,452.3 1184.93,538.3 1185.02,492.4 1185.12,544.1 1185.21,452.3 1185.31,467.5 1185.4,472.1 1185.5,431.8 1185.59,564.1 1185.69,573.5 1185.78,544.5 1185.88,620.6 1185.97,605.9 1186.07,496.6 1186.16,428.9 1186.26,508.4 1186.35,440.5 1186.45,382.7 1186.54,526.4 1186.63,599.6 1186.73,510.9 1186.83,408.7 1186.92,575.4 1187.02,512.8 1187.11,564.9 1187.21,476.3 1187.3,452.3 1187.39,417.4 1187.49,591.6 1187.59,491.8 1187.68,452.3 1187.78,479.2 1187.87,468.6 1187.97,452.3 1188.06,486.5 1188.16,555.2 1188.25,616.5 1188.35,523.2 1188.44,442 1188.54,539 1188.63,492.2 1188.73,520.9 1188.82,546.2 1188.92,517.9 1189.01,549 1189.11,436.1 1189.2,363.9 1189.3,411.6 1189.39,481.8 1189.49,515.2 1189.58,569.5 1189.68,596.3 1189.77,526 1189.87,452.3 1189.96,444.8 1190.06,557.4 1190.15,509.3 1190.25,512.8 1190.34,565.4 1190.44,515.9 1190.53,513.3 1190.62,489 1190.72,417.4 1190.82,556.6 1190.91,591.5 1191.01,452.3 1191.1,494.5 1191.2,498.3 1191.29,607.6 1191.39,579.6 1191.48,562.5 1191.58,587.6 1191.67,534.9 1191.77,580.3 1191.86,550.1 1191.96,581.2 1192.05,430.4 1192.14,452.3 1192.24,532.4 1192.34,544.1 1192.43,490.7 1192.53,473.3 1192.62,461.8 1192.72,452.2 1192.81,421.7 1192.91,541.2 1193,489.4 1193.1,457.4 1193.19,461.1 1193.29,509.3 1193.38,452.3 1193.48,560.1 1193.57,479.9 1193.67,529.7 1193.76,527.5 1193.86,501.8 1193.95,387 1194.05,424.8 1194.14,475.2 1194.24,447.1 1194.33,368 1194.43,291.4 1194.52,344.3 1194.62,317.6 1194.71,279.9 1194.81,580.3 1194.9,605.7 1195,424.6 1195.09,452.3 1195.19,452.3 1195.28,564.3 1195.38,426.1 1195.47,454.9 1195.57,454.6 1195.66,569 1195.76,320.3 1195.85,359.8 1195.95,424.4 1196.04,477.4 1196.14,458.8 1196.23,452.3 1196.33,489.8 1196.42,500 1196.52,433.9 1196.61,378.4 1196.71,372.6 1196.8,511.6 1196.89,512.6 1196.99,412.2 1197.09,424.6 1197.18,413.7 1197.28,412.2 1197.37,350.3 1197.47,359.5 1197.56,524.1 1197.66,474.6 1197.75,599.1 1197.85,450.7 1197.94,463.7 1198.04,487.2 1198.13,314.4 1198.23,379.8 1198.32,362.7 1198.42,343.7 1198.51,458.6 1198.61,574.8 1198.7,552.4 1198.8,540.9 1198.89,383 1198.99,454.3 1199.08,601.6 1199.18,510.5 1199.27,521.8 1199.37,622.8 1199.46,565.9 1199.56,482.8 1199.65,422.8 1199.75,454.2 1199.84,483.9 1199.94,470.7 1200.03,433.7 1200.12,357.7 1200.22,331 1200.32,413.9 1200.41,511.9 1200.51,543.7 1200.6,472.9 1200.7,604.4 1200.79,493 1200.89,509.5 1200.98,535.9 1201.08,478.7 1201.17,509.8 1201.27,578.9 1201.36,489.1 1201.46,569.8 1201.55,523.5 1201.64,599.2 1201.74,583.7 1201.84,538.1 1201.93,493.9 1202.03,519.3 1202.12,493.7 1202.22,459.2 1202.31,519.7 1202.41,507 1202.5,561.2 1202.6,487.5 1202.69,480.9 1202.79,565.8 1202.88,565.7 1202.98,529.5 1203.07,519.2 1203.17,480.7 1203.26,596.9 1203.36,488.7 1203.45,429.2 1203.55,306.1 1203.64,472.9 1203.74,470.8 1203.83,445.2 1203.93,568 1204.02,597.6 1204.12,503.5 1204.21,377.2 1204.31,496 1204.4,554.5 1204.5,455.6 1204.59,473.8 1204.69,520.8 1204.78,585.3 1204.88,618.9 1204.97,479.5 1205.07,519.5 1205.16,585.2 1205.26,483.4 1205.35,390.6 1205.45,455 1205.54,508.3 1205.64,474.8 1205.73,463.4 1205.83,520.9 1205.92,517.9 1206.02,502.7 1206.11,468.7 1206.21,484.2 1206.3,441.1 1206.39,260.6 1206.49,391.3 1206.59,513.5 1206.68,494.1 1206.78,489.4 1206.87,528.2 1206.97,566.2 1207.06,586.3 1207.16,593.5 1207.25,548.3 1207.35,437 1207.44,495.2 1207.54,510.9 1207.63,428.5 1207.73,416.8 1207.82,429.3 1207.92,492.4 1208.01,587.2 1208.11,542.2 1208.2,514.9 1208.3,592.7 1208.39,477.9 1208.49,429.7 1208.58,440.4 1208.68,529.5 1208.77,542.9 1208.87,514.1 1208.96,568.7 1209.06,502 1209.15,447.8 1209.25,436.1 1209.34,530.9 1209.44,480.6 1209.53,425.5 1209.62,559.5 1209.72,557.3 1209.82,606.6 1209.91,564.3 1210.01,503.3 1210.1,559.2 1210.2,554.3 1210.29,492 1210.39,494.4 1210.48,472.5 1210.58,564.8 1210.67,496.2 1210.77,543 1210.86,538.6 1210.96,453 1211.05,469.1 1211.14,599.2 1211.24,604.5 1211.34,557.4 1211.43,517.2 1211.53,362.9 1211.62,416.8 1211.72,428.8 1211.81,492.3 1211.91,489.5 1212,351.6 1212.1,484.4 1212.19,632.1 1212.29,542.8 1212.38,448.8 1212.48,470.5 1212.57,320.6 1212.67,458.4 1212.76,530.2 1212.86,582.1 1212.95,423.3 1213.05,450.6 1213.14,531.6 1213.24,454.2 1213.33,598.3 1213.43,578.9 1213.52,560.5 1213.62,584 1213.71,561.7 1213.81,556.9 1213.9,518.2 1214,361.7 1214.09,338.3 1214.19,412.8 1214.28,504.7 1214.38,523.8 1214.47,506.3 1214.57,596.6 1214.66,551 1214.76,477.8 1214.85,470.1 1214.95,389.6 1215.04,522.1 1215.14,506.1 1215.23,369.3 1215.33,496.1 1215.42,580.7 1215.52,525.1 1215.61,503 1215.71,540.8 1215.8,435 1215.89,228.3 1215.99,425.7 1216.09,574.9 1216.18,514.7 1216.28,534.8 1216.37,369.9 1216.47,446 1216.56,532.8 1216.66,574.4 1216.75,536.1 1216.85,605.6 1216.94,550 1217.04,536.2 1217.13,593.3 1217.23,505 1217.32,558.2 1217.42,453.6 1217.51,225 1217.61,408.1 1217.7,606.6 1217.8,476.1 1217.89,450.8 1217.99,378.8 1218.08,411.6 1218.18,559.7 1218.27,552.5 1218.37,519 1218.46,552.2 1218.56,534.5 1218.65,536.2 1218.75,527.9 1218.84,400.2 1218.94,351.1 1219.03,497.5 1219.12,545.4 1219.22,595.1 1219.32,525.8 1219.41,514.1 1219.51,405.5 1219.6,405.7 1219.7,475.1 1219.79,567.2 1219.89,455.4 1219.98,274.3 1220.08,467.7 1220.17,507 1220.27,555.7 1220.36,558.8 1220.46,540.8 1220.55,400.6 1220.64,443.9 1220.74,466.9 1220.84,506.5 1220.93,572.5 1221.03,548.4 1221.12,622.8 1221.22,554.3 1221.31,457.9 1221.41,483.2 1221.5,428.2 1221.6,383.7 1221.69,397.2 1221.79,470 1221.88,514.3 1221.98,605.6 1222.07,573.2 1222.17,588.7 1222.26,576.5 1222.36,592.3 1222.45,503.1 1222.55,543.6 1222.64,582.2 1222.74,537.7 1222.83,593.9 1222.93,522 1223.02,540.6 1223.12,441.6 1223.21,385 1223.31,341.3 1223.4,355.2 1223.5,563.4 1223.59,488.5 1223.69,313.1 1223.78,450.2 1223.88,534.7 1223.97,452.7 1224.07,573.7 1224.16,492.4 1224.26,570.7 1224.35,558.5 1224.45,472.2 1224.54,410.9 1224.64,481.4 1224.73,563.6 1224.83,561.8 1224.92,474.4 1225.02,483 1225.11,481.3 1225.21,544.4 1225.3,570.4 1225.39,483.4 1225.49,548.5 1225.59,584.3 1225.68,527.2 1225.78,533.4 1225.87,500.4 1225.97,509.7 1226.06,496.2 1226.16,613.5 1226.25,486.4 1226.35,557.3 1226.44,446.1 1226.54,527.7 1226.63,544.8 1226.73,577.4 1226.82,559.5 1226.92,480.2 1227.01,520.2 1227.11,473.9 1227.2,399.5 1227.3,521.1 1227.39,559.2 1227.49,594.1 1227.58,432.1 1227.68,488.3 1227.77,525.8 1227.87,529.9 1227.96,501.2 1228.06,505.3 1228.15,515.5 1228.25,500.4 1228.34,527.7 1228.44,382.5 1228.53,428.7 1228.62,581.6 1228.72,483.9 1228.82,446.6 1228.91,576.1 1229.01,525 1229.1,535.9 1229.2,571.2 1229.29,620.6 1229.39,584 1229.48,578.3 1229.58,580.7 1229.67,531.7 1229.77,536.2 1229.86,503.1 1229.96,566 1230.05,577 1230.14,457.2 1230.24,526.4 1230.34,441.9 1230.43,479.3 1230.53,525.1 1230.62,473.6 1230.72,596.7 1230.81,503.3 1230.91,585.8 1231,561.8 1231.1,422.5 1231.19,453 1231.29,533.4 1231.38,612.4 1231.48,577.7 1231.57,553.2 1231.67,556.8 1231.76,510.1 1231.86,513.9 1231.95,486.7 1232.05,496.4 1232.14,502.4 1232.24,452.3 1232.33,500.6 1232.43,598.9 1232.52,467.2 1232.62,496.9 1232.71,500.7 1232.81,521 1232.9,486.7 1233,484 1233.09,491 1233.19,502.4 1233.28,456.7 1233.38,517.8 1233.47,593.2 1233.57,472.6 1233.66,473.7 1233.76,553.4 1233.85,508.8 1233.95,530.7 1234.04,550.5 1234.14,602.5 1234.23,561 1234.33,550.6 1234.42,492.4 1234.52,460.7 1234.61,461.4 1234.71,522.1 1234.8,438.2 1234.89,518.9 1234.99,418.8 1235.09,409.7 1235.18,495 1235.28,564.9 1235.37,602.5 1235.47,558.6 1235.56,527.4 1235.66,566.1 1235.75,616.3 1235.85,509.4 1235.94,539 1236.04,602.3 1236.13,612.9 1236.23,552.1 1236.32,588 1236.42,504.1 1236.51,455.1 1236.61,251.1 1236.7,427 1236.8,586.6 1236.89,479.7 1236.99,435.1 1237.08,401.7 1237.18,541.4 1237.27,544 1237.37,534.1 1237.46,450.5 1237.56,488.6 1237.65,393 1237.75,385.8 1237.84,461 1237.94,513.2 1238.03,578.8 1238.12,483.8 1238.22,483.6 1238.32,591.2 1238.41,417.8 1238.51,474.6 1238.6,495 1238.7,595.8 1238.79,362.8 1238.89,391.9 1238.98,285.4 1239.08,425.5 1239.17,437.3 1239.27,434.2 1239.36,605.8 1239.46,424 1239.55,411.4 1239.64,529.8 1239.74,589.3 1239.84,436.8 1239.93,386.9 1240.03,384.7 1240.12,574.1 1240.22,433.5 1240.31,542 1240.41,522.9 1240.5,488.8 1240.6,533 1240.69,522.2 1240.79,363.5 1240.88,547.4 1240.98,564.5 1241.07,574.5 1241.17,588.5 1241.26,613.5 1241.36,563.8 1241.45,523.3 1241.55,549.3 1241.64,565.2 1241.74,559.3 1241.83,560.5 1241.93,572.2 1242.02,527.5 1242.12,613.1 1242.21,534.4 1242.31,635.9 1242.4,508.5 1242.5,438.9 1242.59,507.7 1242.69,527 1242.78,454.3 1242.88,442.9 1242.97,459.1 1243.07,522.6 1243.16,392.6 1243.26,457 1243.35,410.8 1243.45,518 1243.54,563.3 1243.64,580.8 1243.73,555.8 1243.83,543.3 1243.92,509.8 1244.02,568.9 1244.11,406 1244.21,456.5 1244.3,523.8 1244.39,565.9 1244.49,486.1 1244.59,525.6 1244.68,562.5 1244.78,550.1 1244.87,449 1244.97,552.3 1245.06,496.2 1245.16,482.1 1245.25,481.8 1245.35,522.7 1245.44,592.3 1245.54,551.4 1245.63,482.7 1245.73,565 1245.82,497.8 1245.92,631.3 1246.01,498.8 1246.11,538.9 1246.2,554.7 1246.3,576.6 1246.39,426.2 1246.49,376.2 1246.58,461.9 1246.68,541.3 1246.77,515.3 1246.87,584.8 1246.96,479.8 1247.06,517.4 1247.15,559.7 1247.25,497.7 1247.34,517.2 1247.44,549 1247.53,481.5 1247.62,530.9 1247.72,623 1247.82,553.2 1247.91,514.9 1248.01,362.7 1248.1,449 1248.2,611.6 1248.29,532.3 1248.39,536.8 1248.48,621.9 1248.58,504.5 1248.67,527.8 1248.77,589.1 1248.86,563.8 1248.96,425.6 1249.05,394.2 1249.14,522.8 1249.24,530.4 1249.34,443.1 1249.43,412.7 1249.53,454.6 1249.62,458.8 1249.72,441.4 1249.81,425.9 1249.91,570 1250,568.2 1250.1,551.4 1250.19,539.4 1250.29,505.5 1250.38,535.4 1250.48,501.5 1250.57,477.6 1250.67,455.6 1250.76,500.2 1250.86,535 1250.95,494.1 1251.05,414.9 1251.14,358.9 1251.24,458.5 1251.33,520.8 1251.43,519.1 1251.52,538.4 1251.62,587.7 1251.71,547.4 1251.81,561.9 1251.9,455.8 1252,421.6 1252.09,424.1 1252.19,433.6 1252.28,583.3 1252.38,408.3 1252.47,420.9 1252.57,476.4 1252.66,407.8 1252.76,397.8 1252.85,492.8 1252.95,525.4 1253.04,494.6 1253.14,456.4 1253.23,431.7 1253.33,450.4 1253.42,446.2 1253.52,505.4 1253.61,516.4 1253.71,436.1 1253.8,479.1 1253.89,466.7 1253.99,423.6 1254.09,463.3 1254.18,549.3 1254.28,586.6 1254.37,594 1254.47,589.7 1254.56,580.6 1254.66,595.7 1254.75,443.8 1254.85,295.8 1254.94,445.8 1255.04,549.6 1255.13,618.2 1255.23,488.6 1255.32,416.2 1255.42,471.4 1255.51,580.4 1255.61,595.6 1255.7,514.7 1255.8,475.2 1255.89,559.4 1255.99,522 1256.08,559.3 1256.18,593.4 1256.27,436.3 1256.37,462.7 1256.46,549.7 1256.56,541.1 1256.65,490.9 1256.75,517.4 1256.84,568.1 1256.94,517.7 1257.03,428.9 1257.12,354.2 1257.22,423.2 1257.32,516 1257.41,604.3 1257.51,491.5 1257.6,388.8 1257.7,470.7 1257.79,451.3 1257.89,498.9 1257.98,523.9 1258.08,564.1 1258.17,558.7 1258.27,540.4 1258.36,504.1 1258.46,421.4 1258.55,442.7 1258.64,515.4 1258.74,586.9 1258.84,601.9 1258.93,531.7 1259.03,566.5 1259.12,427 1259.22,345.6 1259.31,364.6 1259.41,534.9 1259.5,436.1 1259.6,541.9 1259.69,517.5 1259.79,535 1259.88,571.4 1259.98,505 1260.07,511.5 1260.17,478.1 1260.26,484 1260.36,417.1 1260.45,445.4 1260.55,474.2 1260.64,479.1 1260.74,520.8 1260.83,560.7 1260.93,526.8 1261.02,468.1 1261.12,519.4 1261.21,548.2 1261.31,541.2 1261.4,506.4 1261.5,468.6 1261.59,461.8 1261.69,541.4 1261.78,544.8 1261.88,436.7 1261.97,524.5 1262.07,531.5 1262.16,396.2 1262.26,384.9 1262.35,481 1262.45,590.9 1262.54,577.1 1262.64,573.1 1262.73,519.9 1262.83,460.3 1262.92,494.5 1263.02,564.8 1263.11,582.5 1263.21,474.8 1263.3,554.6 1263.39,468.8 1263.49,483 1263.59,590.9 1263.68,568.3 1263.78,481.3 1263.87,591.4 1263.97,592.9 1264.06,636 1264.16,533.8 1264.25,483.9 1264.35,596.6 1264.44,549.3 1264.54,512.7 1264.63,505.1 1264.73,460.7 1264.82,521.4 1264.92,481.3 1265.01,439.8 1265.11,227.9 1265.2,411.3 1265.3,535.2 1265.39,484.9 1265.49,400.7 1265.58,469.5 1265.68,508.1 1265.77,626.7 1265.87,523.7 1265.96,551.3 1266.06,427 1266.15,560.9 1266.25,491.9 1266.34,509.5 1266.44,600 1266.53,537.9 1266.62,505.5 1266.72,566.9 1266.82,593.8 1266.91,513.6 1267.01,434.1 1267.1,414.9 1267.2,584.5 1267.29,406.2 1267.39,584.9 1267.48,584.4 1267.58,514.2 1267.67,473.1 1267.77,509.9 1267.86,558.2 1267.96,418.7 1268.05,503 1268.14,395.2 1268.24,427.1 1268.34,569.7 1268.43,507.6 1268.53,525.5 1268.62,442.4 1268.72,520 1268.81,406.3 1268.91,404.9 1269,475.1 1269.1,510.5 1269.19,520.5 1269.29,417.3 1269.38,454.2 1269.48,516.7 1269.57,519.3 1269.67,554.1 1269.76,445.8 1269.86,561.7 1269.95,563 1270.05,574.8 1270.14,454.6 1270.24,509.9 1270.33,533.1 1270.43,442.8 1270.52,429 1270.62,536.9 1270.71,552 1270.81,445.1 1270.9,459.1 1271,458.5 1271.09,383 1271.19,375.2 1271.28,404 1271.38,466.6 1271.47,530 1271.57,462.7 1271.66,418.5 1271.76,373.9 1271.85,370.4 1271.95,376 1272.04,368.8 1272.14,489.2 1272.23,543.7 1272.33,517.6 1272.42,412 1272.52,412 1272.61,391.7 1272.71,547.3 1272.8,519.5 1272.89,472.9 1272.99,466.1 1273.09,452.1 1273.18,586.2 1273.28,551.6 1273.37,586.9 1273.47,551.3 1273.56,461.2 1273.66,426.8 1273.75,552.5 1273.85,442.2 1273.94,430.2 1274.04,454.6 1274.13,506.5 1274.23,484.9 1274.32,360.5 1274.42,515 1274.51,507.4 1274.61,548 1274.7,479.5 1274.8,560.8 1274.89,553.3 1274.99,590.2 1275.08,586.2 1275.18,545.8 1275.27,548.7 1275.37,499.7 1275.46,454.8 1275.56,447.8 1275.65,509.3 1275.75,587.7 1275.84,546.2 1275.94,529.2 1276.03,432 1276.12,506.1 1276.22,457 1276.32,460 1276.41,465 1276.51,519.3 1276.6,561.7 1276.7,469.4 1276.79,488.3 1276.89,628.1 1276.98,541 1277.08,526.2 1277.17,490.6 1277.27,481.4 1277.36,559.2 1277.46,473.5 1277.55,511 1277.64,472.2 1277.74,561 1277.84,401 1277.93,488.4 1278.03,552.5 1278.12,509 1278.22,431.2 1278.31,609.5 1278.41,508.6 1278.5,531 1278.6,489.3 1278.69,591.6 1278.79,428.4 1278.88,465.2 1278.98,541.9 1279.07,456.4 1279.17,442.6 1279.26,449.2 1279.36,584.6 1279.45,409.2 1279.55,426.5 1279.64,551.3 1279.74,470.6 1279.83,491.4 1279.93,516.5 1280.02,588 1280.12,596.9 1280.21,544.8 1280.31,440.3 1280.4,322.6 1280.5,494.8 1280.59,452.8 1280.69,607.5 1280.78,437.1 1280.88,454.5 1280.97,501.5 1281.07,559.3 1281.16,549.5 1281.26,527.4 1281.35,560.6 1281.45,598.2 1281.54,582.5 1281.64,455.9 1281.73,460.4 1281.83,551.5 1281.92,458.5 1282.02,392.4 1282.11,494.2 1282.21,528.3 1282.3,427 1282.39,517.3 1282.49,544.3 1282.59,520 1282.68,475.8 1282.78,535.5 1282.87,526.8 1282.97,505.5 1283.06,572.5 1283.16,545.7 1283.25,566.5 1283.35,539.6 1283.44,543.5 1283.54,549 1283.63,269.5 1283.73,46.3 1283.82,248.9 1283.92,370.6 1284.01,535.7 1284.11,497.4 1284.2,572 1284.3,599.8 1284.39,467.2 1284.49,385.2 1284.58,468.3 1284.68,589.9 1284.77,444.4 1284.87,402.8 1284.96,573.1 1285.06,525 1285.15,442.8 1285.25,475.5 1285.34,556.4 1285.44,423.6 1285.53,447.1 1285.62,534.6 1285.72,509 1285.82,585.7 1285.91,595.7 1286.01,594 1286.1,482.1 1286.2,306.9 1286.29,444.7 1286.39,341.1 1286.48,516.4 1286.58,488.6 1286.67,528.9 1286.77,503.4 1286.86,530.8 1286.96,504.2 1287.05,517.1 1287.14,408.2 1287.24,510.5 1287.34,586 1287.43,531.5 1287.53,495.1 1287.62,525.3 1287.72,508.5 1287.81,479.7 1287.91,595.2 1288,425 1288.1,491.9 1288.19,562.5 1288.29,585.5 1288.38,620.1 1288.48,558.5 1288.57,447 1288.67,363.7 1288.76,378 1288.86,416.3 1288.95,485.9 1289.05,564.9 1289.14,561.9 1289.24,466 1289.33,432.8 1289.43,549.6 1289.52,535.8 1289.62,405.3 1289.71,462.8 1289.81,504.6 1289.9,555.9 1290,576 1290.09,486.5 1290.19,447.8 1290.28,433.7 1290.38,559.3 1290.47,594.7 1290.57,564 1290.66,504.7 1290.76,560.3 1290.85,560.8 1290.95,530 1291.04,526.8 1291.14,558.8 1291.23,546.9 1291.33,450.2 1291.42,453 1291.52,517.5 1291.61,416 1291.71,427.3 1291.8,488 1291.89,529.1 1291.99,462.8 1292.09,564.6 1292.18,556.2 1292.28,511.5 1292.37,572.1 1292.47,534 1292.56,549.1 1292.66,462.8 1292.75,453.8 1292.85,533.7 1292.94,555.4 1293.04,490 1293.13,509.1 1293.23,401.5 1293.32,364.5 1293.42,491.3 1293.51,534.8 1293.61,539.6 1293.7,577.8 1293.8,596 1293.89,488.9 1293.99,416.2 1294.08,548.3 1294.18,522.8 1294.27,523.8 1294.37,427.2 1294.46,206 1294.56,376.2 1294.65,509 1294.75,481 1294.84,562.2 1294.94,551.2 1295.03,513.5 1295.12,573.5 1295.22,480.7 1295.32,510.5 1295.41,413.7 1295.51,422.9 1295.6,576.7 1295.7,524.2 1295.79,543.2 1295.89,431.6 1295.98,377.4 1296.08,510.8 1296.17,514.8 1296.27,498.6 1296.36,491.1 1296.46,439.9 1296.55,570.1 1296.64,614.9 1296.74,518.2 1296.84,576.8 1296.93,564.6 1297.03,530 1297.12,567.2 1297.22,461.2 1297.31,435.3 1297.41,551.8 1297.5,588.1 1297.6,603.7 1297.69,566.4 1297.79,451.5 1297.88,529.3 1297.98,537.8 1298.07,475 1298.17,397.9 1298.26,386.5 1298.36,417.6 1298.45,613.5 1298.55,527.7 1298.64,546.6 1298.74,468.1 1298.83,468.9 1298.93,545.1 1299.02,556.4 1299.12,573.1 1299.21,611.6 1299.31,526.4 1299.4,515.5 1299.5,589.1 1299.59,494.7 1299.69,428.1 1299.78,536.2 1299.88,536.6 1299.97,508.5 1300.07,622.8 1300.16,604.3 1300.26,591.4 1300.35,460.9 1300.45,463.7 1300.54,483.7 1300.64,448.4 1300.73,481.8 1300.83,397.1 1300.92,469.6 1301.02,476.1 1301.11,473.9 1301.21,511 1301.3,527 1301.39,525.5 1301.49,463.4 1301.59,520.3 1301.68,596.4 1301.78,455.6 1301.87,383.6 1301.97,408.8 1302.06,477.5 1302.16,591.8 1302.25,527.9 1302.35,537.8 1302.44,495.8 1302.54,462 1302.63,486.8 1302.73,600.4 1302.82,536.8 1302.92,586.5 1303.01,565.9 1303.11,509.3 1303.2,560.9 1303.3,463.6 1303.39,469.6 1303.49,532.4 1303.58,550.4 1303.68,585 1303.77,390.1 1303.87,373.1 1303.96,379.1 1304.06,469.5 1304.15,594.8 1304.25,503.6 1304.34,500.7 1304.44,476.2 1304.53,538.2 1304.62,471.6 1304.72,505.6 1304.82,396.6 1304.91,516.9 1305.01,535.2 1305.1,382.6 1305.2,213 1305.29,359.8 1305.39,484.6 1305.48,539.4 1305.58,533.9 1305.67,444.8 1305.77,551.7 1305.86,606.5 1305.96,555.7 1306.05,488.9 1306.14,572.6 1306.24,585.7 1306.34,591.7 1306.43,552.6 1306.53,579.1 1306.62,546.2 1306.72,490.2 1306.81,507.1 1306.91,459.7 1307,496.6 1307.1,564.4 1307.19,455 1307.29,227.5 1307.38,387.1 1307.48,453.5 1307.57,393.9 1307.67,555.6 1307.76,548 1307.86,500.9 1307.95,488.4 1308.05,515.8 1308.14,512.4 1308.24,560.9 1308.33,573.7 1308.43,574.4 1308.52,556.6 1308.62,538.2 1308.71,499.9 1308.81,526.6 1308.9,596.6 1309,480.9 1309.09,444.9 1309.19,444.2 1309.28,407.8 1309.38,500.1 1309.47,631.8 1309.57,586.8 1309.66,597.5 1309.76,606.8 1309.85,599.4 1309.95,519.2 1310.04,525.3 1310.14,572.9 1310.23,563.2 1310.33,524.9 1310.42,506.1 1310.52,533.2 1310.61,475.9 1310.71,442.6 1310.8,476.8 1310.89,602.7 1310.99,567.5 1311.09,524.9 1311.18,595.7 1311.28,522.6 1311.37,590.5 1311.47,365.3 1311.56,522.3 1311.66,440.2 1311.75,385.2 1311.85,529.7 1311.94,527.3 1312.04,454 1312.13,504.3 1312.23,508.6 1312.32,556 1312.42,576.8 1312.51,591.2 1312.61,518.9 1312.7,561.1 1312.8,589.9 1312.89,569.8 1312.99,563.7 1313.08,551.7 1313.18,571.9 1313.27,466.7 1313.37,488.8 1313.46,543.3 1313.56,538.8 1313.65,480.2 1313.75,575.2 1313.84,524.8 1313.94,432.3 1314.03,433.8 1314.12,497.7 1314.22,532.4 1314.32,622.9 1314.41,543.5 1314.51,451.2 1314.6,523.1 1314.7,572.1 1314.79,609.6 1314.89,601.4 1314.98,591.4 1315.08,555.7 1315.17,471.9 1315.27,340.2 1315.36,541.6 1315.46,445.7 1315.55,477.7 1315.64,542.5 1315.74,547.4 1315.84,524.5 1315.93,529.2 1316.03,500.4 1316.12,508 1316.22,520.8 1316.31,535.3 1316.41,580 1316.5,460.6 1316.6,495.5 1316.69,475.9 1316.79,461.8 1316.88,497.6 1316.98,593.5 1317.07,542.3 1317.17,515 1317.26,609.8 1317.36,476.9 1317.45,440.2 1317.55,504.2 1317.64,526.5 1317.74,567.2 1317.83,476.5 1317.93,406.7 1318.02,507.8 1318.12,597.4 1318.21,580.7 1318.31,592.3 1318.4,530.7 1318.5,519.4 1318.59,497.9 1318.69,486.8 1318.78,519.6 1318.88,552.7 1318.97,488.6 1319.07,375.3 1319.16,555.4 1319.26,527.7 1319.35,425.3 1319.45,493.1 1319.54,547.3 1319.64,496 1319.73,536 1319.83,532 1319.92,509.7 1320.02,523.4 1320.11,458.4 1320.21,472.3 1320.3,418.1 1320.39,473.9 1320.49,494.5 1320.59,579.9 1320.68,578.5 1320.78,519.7 1320.87,484.4 1320.97,584.2 1321.06,468.1 1321.16,502.2 1321.25,452.4 1321.35,579.1 1321.44,512 1321.54,512.5 1321.63,575.2 1321.73,536.8 1321.82,496.9 1321.91,550.4 1322.01,532.9 1322.11,504.8 1322.2,561.5 1322.3,463.2 1322.39,385.8 1322.49,472.3 1322.58,518.8 1322.68,539 1322.77,475.5 1322.87,607.8 1322.96,494.2 1323.06,479.8 1323.15,550.7 1323.25,544.8 1323.34,594.3 1323.44,565.8 1323.53,521.2 1323.62,545.8 1323.72,550.3 1323.82,439.6 1323.91,503.2 1324.01,510.7 1324.1,526.1 1324.2,461.3 1324.29,369.1 1324.39,459.4 1324.48,536.9 1324.58,480.7 1324.67,513.4 1324.77,486 1324.86,580.3 1324.96,559.9 1325.05,509.7 1325.14,494.7 1325.24,557.6 1325.34,566.4 1325.43,543.9 1325.53,539.7 1325.62,538.2 1325.72,618.6 1325.81,550.7 1325.91,441.6 1326,445.8 1326.1,347.8 1326.19,435 1326.29,586.3 1326.38,549.5 1326.48,455.5 1326.57,442.1 1326.66,513 1326.76,498.2 1326.86,456.4 1326.95,586.7 1327.05,448.8 1327.14,485 1327.24,588.5 1327.33,601.8 1327.43,552.5 1327.52,519.6 1327.62,407.5 1327.71,465.4 1327.81,566.2 1327.9,558.7 1328,539.4 1328.09,592 1328.19,615.7 1328.28,604.6 1328.38,604.4 1328.47,555.1 1328.57,586.7 1328.66,486 1328.76,556.9 1328.85,620.2 1328.95,577.5 1329.04,559.2 1329.14,532.7 1329.23,571 1329.33,504.3 1329.42,457.7 1329.52,572 1329.61,468.6 1329.71,478.7 1329.8,534.5 1329.89,611.4 1329.99,519 1330.09,538.3 1330.18,605.6 1330.28,590.9 1330.37,511.5 1330.47,609.3 1330.56,438.7 1330.66,455 1330.75,540.7 1330.85,471.1 1330.94,361.2 1331.04,479.8 1331.13,529.9 1331.23,475.6 1331.32,541 1331.41,569.5 1331.51,446.9 1331.61,440.5 1331.7,519.5 1331.8,519.4 1331.89,396.6 1331.99,366.9 1332.08,505.1 1332.18,556.1 1332.27,541.1 1332.37,550.8 1332.46,576.2 1332.56,490 1332.65,530.4 1332.75,607.9 1332.84,517.5 1332.94,451.9 1333.03,423.8 1333.12,479.6 1333.22,561.3 1333.32,548.8 1333.41,569 1333.51,557.1 1333.6,492.1 1333.7,537.7 1333.79,404.2 1333.89,381.9 1333.98,529.1 1334.08,534.7 1334.17,483 1334.27,541 1334.36,451.3 1334.46,354.3 1334.55,362.3 1334.64,466.9 1334.74,569.1 1334.84,589.4 1334.93,560.4 1335.03,574.6 1335.12,439.6 1335.22,467.5 1335.31,605.3 1335.41,488.2 1335.5,380.7 1335.6,500.9 1335.69,552.4 1335.79,623.7 1335.88,522.4 1335.98,494.8 1336.07,602.9 1336.16,586.2 1336.26,586.8 1336.36,498.6 1336.45,436.7 1336.55,555.8 1336.64,522.6 1336.74,583 1336.83,552.9 1336.93,431.4 1337.02,436.5 1337.12,512.7 1337.21,563.7 1337.31,536.4 1337.4,502.2 1337.5,539.9 1337.59,559.1 1337.69,628.6 1337.78,573.2 1337.88,531.8 1337.97,461.1 1338.07,570.4 1338.16,475 1338.26,457.5 1338.35,525.4 1338.45,467.6 1338.54,542.9 1338.64,581.7 1338.73,538.4 1338.83,508.4 1338.92,505.3 1339.02,485.6 1339.11,545.3 1339.21,472.4 1339.3,521.2 1339.39,558.2 1339.49,551.7 1339.59,580.4 1339.68,531.1 1339.78,551.1 1339.87,506.6 1339.97,503.6 1340.06,555.7 1340.16,535.8 1340.25,468.4 1340.35,532.5 1340.44,528.8 1340.54,398.8 1340.63,534.2 1340.73,445.2 1340.82,384 1340.91,456.5 1341.01,545.1 1341.11,560.8 1341.2,550.7 1341.3,487.9 1341.39,431.6 1341.49,522.6 1341.58,490.4 1341.68,419.8 1341.77,520.3 1341.87,455.6 1341.96,496.8 1342.06,539.1 1342.15,607.2 1342.25,461.7 1342.34,444.3 1342.44,529.6 1342.53,556.3 1342.62,587 1342.72,579.1 1342.82,579.6 1342.91,611 1343.01,606.4 1343.1,504 1343.2,457 1343.29,585.9 1343.39,550.6 1343.48,457.2 1343.58,354.6 1343.67,394 1343.77,422.7 1343.86,448.7 1343.96,531.8 1344.05,580.7 1344.14,594.9 1344.24,555.9 1344.34,463.9 1344.43,451.2 1344.53,550.7 1344.62,529.1 1344.72,439.5 1344.81,492.6 1344.91,610.5 1345,540.6 1345.1,539.9 1345.19,541.2 1345.29,518.1 1345.38,444 1345.48,547.4 1345.57,448.5 1345.66,497.9 1345.76,523.8 1345.86,527.6 1345.95,537.6 1346.05,538.8 1346.14,551.8 1346.24,478.7 1346.33,524.8 1346.43,548.8 1346.52,369.8 1346.62,538.7 1346.71,594.8 1346.81,525.1 1346.9,592.6 1347,567.6 1347.09,539.5 1347.19,509.1 1347.28,534.5 1347.38,540.1 1347.47,385.3 1347.57,340.6 1347.66,499.1 1347.76,569.1 1347.85,500.5 1347.95,503.9 1348.04,568.6 1348.14,605.2 1348.23,595.4 1348.33,526.9 1348.42,474.4 1348.52,449.6 1348.61,524.8 1348.71,555.9 1348.8,496.1 1348.89,500.4 1348.99,510.9 1349.09,590.5 1349.18,461.5 1349.28,509.5 1349.37,582.9 1349.47,521 1349.56,446.5 1349.66,442.1 1349.75,543.5 1349.85,579.6 1349.94,573.1 1350.04,523.2 1350.13,534.2 1350.23,474.5 1350.32,282.5 1350.41,474.8 1350.51,517.2 1350.61,556.1 1350.7,530.4 1350.8,382 1350.89,382.2 1350.99,454.4 1351.08,619.5 1351.18,519.2 1351.27,528.3 1351.37,530.1 1351.46,471.6 1351.56,574.8 1351.65,520.5 1351.75,533.8 1351.84,544.9 1351.94,532.9 1352.03,543.2 1352.12,594.6 1352.22,566.9 1352.32,557 1352.41,618.2 1352.51,557 1352.6,575 1352.7,502.6 1352.79,578.9 1352.89,474.4 1352.98,402.5 1353.08,446.2 1353.17,562.4 1353.27,616.8 1353.36,557.7 1353.46,571.1 1353.55,521.1 1353.64,615.9 1353.74,561.5 1353.84,579 1353.93,549.6 1354.03,531.7 1354.12,552.2 1354.22,465.3 1354.31,592.3 1354.41,470 1354.5,460.4 1354.6,468.9 1354.69,468.5 1354.79,476.7 1354.88,489.1 1354.98,515.9 1355.07,549.7 1355.16,541.8 1355.26,416.3 1355.36,467.1 1355.45,590.7 1355.55,572.9 1355.64,530.1 1355.74,534.6 1355.83,510.2 1355.93,538.2 1356.02,534 1356.12,575 1356.21,539 1356.31,585.9 1356.4,554.1 1356.5,571.6 1356.59,610.3 1356.69,367.8 1356.78,385.9 1356.88,535.7 1356.97,551.6 1357.07,413 1357.16,441.8 1357.26,566 1357.35,576.8 1357.45,569.3 1357.54,506 1357.64,519.3 1357.73,521.7 1357.83,495.5 1357.92,376.7 1358.02,394 1358.11,489.3 1358.21,580.3 1358.3,577.3 1358.39,499.9 1358.49,494.4 1358.59,564.9 1358.68,548.4 1358.78,598.3 1358.87,539.6 1358.97,545.2 1359.06,542.2 1359.16,516.8 1359.25,545.5 1359.35,565 1359.44,515 1359.54,437.1 1359.63,571.3 1359.73,461.1 1359.82,496.3 1359.91,463 1360.01,510.9 1360.11,535.2 1360.2,538.8 1360.3,523.6 1360.39,563.7 1360.49,586.3 1360.58,548.9 1360.68,495.2 1360.77,553.1 1360.87,484.9 1360.96,526.4 1361.06,562 1361.15,515.5 1361.25,472.3 1361.34,432.1 1361.44,459.2 1361.53,466.8 1361.62,529.5 1361.72,518.8 1361.82,566.2 1361.91,491.4 1362.01,434.3 1362.1,563.7 1362.2,572.2 1362.29,460.4 1362.39,395.8 1362.48,569 1362.58,487.8 1362.67,500.5 1362.77,524.1 1362.86,592.6 1362.96,555.8 1363.05,554.2 1363.14,556 1363.24,592.1 1363.34,507.8 1363.43,457.6 1363.53,322.6 1363.62,474.4 1363.72,518.2 1363.81,498.3 1363.91,478.1 1364,581 1364.1,490.8 1364.19,578.2 1364.29,465.9 1364.38,499.9 1364.48,497.8 1364.57,578.1 1364.66,496.7 1364.76,477.2 1364.86,552.5 1364.95,531.4 1365.05,472.8 1365.14,428.3 1365.24,475.2 1365.33,623.4 1365.43,586.1 1365.52,455.2 1365.62,442 1365.71,520.2 1365.81,515 1365.9,525.8 1366,576.8 1366.09,542 1366.19,527.9 1366.28,511 1366.38,541 1366.47,561 1366.57,550 1366.66,471.2 1366.76,562.1 1366.85,592.9 1366.95,496.3 1367.04,479 1367.14,528.9 1367.23,560.2 1367.33,517.8 1367.42,592.4 1367.52,494.4 1367.61,360 1367.71,343.7 1367.8,478.3 1367.89,439.1 1367.99,452.4 1368.09,559.5 1368.18,452.3 1368.28,533 1368.37,507.8 1368.47,615.1 1368.56,613.2 1368.66,540.5 1368.75,554.6 1368.85,601.8 1368.94,479.2 1369.04,473.3 1369.13,357.1 1369.23,391.6 1369.32,554.2 1369.41,544.6 1369.51,602.5 1369.61,552.3 1369.7,488.6 1369.8,529.6 1369.89,429.5 1369.99,436.4 1370.08,495.2 1370.18,558.2 1370.27,532.9 1370.37,516 1370.46,510 1370.56,409.5 1370.65,422.1 1370.75,411.5 1370.84,553.4 1370.94,551.3 1371.03,498.2 1371.12,601.7 1371.22,561.9 1371.32,505.5 1371.41,550.1 1371.51,556.8 1371.6,460.4 1371.7,491.9 1371.79,588.8 1371.89,589 1371.98,576.8 1372.08,564.7 1372.17,518.2 1372.27,448.2 1372.36,462.9 1372.46,584.1 1372.55,578.8 1372.64,507.4 1372.74,557.3 1372.84,520.6 1372.93,457.2 1373.03,476.4 1373.12,532.5 1373.22,440.7 1373.31,503 1373.41,459.6 1373.5,464.8 1373.6,504.1 1373.69,470.2 1373.79,534.3 1373.88,536.8 1373.98,570.9 1374.07,587.1 1374.16,552.9 1374.26,436 1374.36,447 1374.45,471.2 1374.55,366 1374.64,416.6 1374.74,266 1374.83,431 1374.93,502.8 1375.02,476.8 1375.12,371.6 1375.21,429.3 1375.31,579.1 1375.4,531.4 1375.5,483.9 1375.59,499.6 1375.69,583.9 1375.78,528.7 1375.88,545.9 1375.97,560.7 1376.07,523.5 1376.16,599.1 1376.26,630.7 1376.35,390.5 1376.45,98.4 1376.54,344.9 1376.64,496.9 1376.73,528.8 1376.83,471.4 1376.92,528.6 1377.02,494 1377.11,507.8 1377.21,472.8 1377.3,402.3 1377.39,546.7 1377.49,571.9 1377.59,615.9 1377.68,509.8 1377.78,558 1377.87,503.3 1377.97,448.3 1378.06,544.1 1378.16,586.9 1378.25,583.3 1378.35,513.2 1378.44,498.9 1378.54,538.3 1378.63,394.9 1378.73,474.9 1378.82,496.7 1378.91,360.8 1379.01,364.9 1379.11,559.7 1379.2,599.5 1379.3,554.7 1379.39,597.1 1379.49,619.9 1379.58,593.9 1379.68,572.8 1379.77,368.5 1379.87,397.5 1379.96,605.4 1380.06,549.7 1380.15,461.8 1380.25,497.2 1380.34,522.6 1380.44,561.4 1380.53,532.1 1380.62,513.7 1380.72,605.9 1380.82,633.3 1380.91,551 1381.01,473 1381.1,462.1 1381.2,406.2 1381.29,426.8 1381.39,517.5 1381.48,512.2 1381.58,492.9 1381.67,578 1381.77,588.7 1381.86,534.2 1381.96,520.2 1382.05,389.3 1382.14,359.2 1382.24,518.2 1382.34,572.3 1382.43,541 1382.53,452.5 1382.62,388.8 1382.72,420 1382.81,551.2 1382.91,571.8 1383,548.6 1383.1,410.4 1383.19,466.2 1383.29,587.9 1383.38,523.2 1383.48,567.7 1383.57,391.6 1383.66,398.2 1383.76,615.4 1383.86,629.7 1383.95,580.6 1384.05,618.7 1384.14,531.6 1384.24,573.7 1384.33,524.8 1384.43,520.3 1384.52,532.8 1384.62,471.2 1384.71,380.8 1384.81,435.8 1384.9,483 1385,377.3 1385.09,351.8 1385.19,494.4 1385.28,565.5 1385.38,552.2 1385.47,563 1385.57,568.8 1385.66,592.8 1385.76,581 1385.85,562.2 1385.95,468 1386.04,593.5 1386.14,529.3 1386.23,505.4 1386.33,531.6 1386.42,498.9 1386.52,433.9 1386.61,440.9 1386.71,467 1386.8,389 1386.89,380.5 1386.99,346 1387.09,423.5 1387.18,614 1387.28,388.8 1387.37,400 1387.47,543.2 1387.56,569.6 1387.66,510.8 1387.75,521.3 1387.85,565.2 1387.94,537.6 1388.04,551.8 1388.13,479.1 1388.23,484.9 1388.32,543.5 1388.41,483.2 1388.51,520.3 1388.61,612.9 1388.7,502.4 1388.8,451 1388.89,483.4 1388.99,471.7 1389.08,527.1 1389.18,562.1 1389.27,567.1 1389.37,528.5 1389.46,512.5 1389.56,571.4 1389.65,540.5 1389.75,550.1 1389.84,453 1389.94,419.3 1390.03,378 1390.12,426.7 1390.22,515.3 1390.32,489.2 1390.41,538.1 1390.51,603.6 1390.6,600.9 1390.7,609.5 1390.79,488 1390.89,517.9 1390.98,538.6 1391.08,526.6 1391.17,613.3 1391.27,507.2 1391.36,543.5 1391.46,513 1391.55,501.1 1391.64,551.1 1391.74,484.9 1391.84,546.6 1391.93,570.9 1392.03,530.4 1392.12,586.6 1392.22,557.2 1392.31,492.4 1392.41,492.1 1392.5,435.1 1392.6,452.8 1392.69,495.4 1392.79,550.2 1392.88,564.7 1392.98,487.7 1393.07,546 1393.16,498.1 1393.26,457.8 1393.36,431.6 1393.45,397.3 1393.55,477.5 1393.64,545.8 1393.74,542.3 1393.83,450 1393.93,564.7 1394.02,557.2 1394.12,320.1 1394.21,125.7 1394.31,314.5 1394.4,473.9 1394.5,451.2 1394.59,514.7 1394.69,531.9 1394.78,488.1 1394.88,496.7 1394.97,494.5 1395.07,422.1 1395.16,575.6 1395.26,487 1395.35,486.5 1395.45,541.3 1395.54,492.8 1395.64,614.6 1395.73,601.5 1395.83,566 1395.92,559.7 1396.02,530 1396.11,455.6 1396.21,497.7 1396.3,581.5 1396.39,592.8 1396.49,500.6 1396.59,597.4 1396.68,557.2 1396.78,535.4 1396.87,566.2 1396.97,467.1 1397.06,474.4 1397.16,481.4 1397.25,464.6 1397.35,510.4 1397.44,546.5 1397.54,519.2 1397.63,421.4 1397.73,366 1397.82,558.3 1397.91,452.8 1398.01,557 1398.11,555.1 1398.2,535.2 1398.3,522.3 1398.39,549.1 1398.49,508.9 1398.58,465.8 1398.68,457.1 1398.77,624.2 1398.87,523.8 1398.96,590.1 1399.06,505.9 1399.15,526.5 1399.25,498.3 1399.34,496.5 1399.44,601.5 1399.53,554.1 1399.62,551.3 1399.72,492.6 1399.82,433.3 1399.91,494.1 1400.01,506.7 1400.1,554.4 1400.2,431.4 1400.29,473.5 1400.39,564 1400.48,583.4 1400.58,508.6 1400.67,502.1 1400.77,581.8 1400.86,495.8 1400.96,581.9 1401.05,431.5 1401.14,472.4 1401.24,461.7 1401.34,563 1401.43,608.9 1401.53,625.8 1401.62,597.2 1401.72,521.8 1401.81,469.2 1401.91,541.6 1402,445.1 1402.1,402.3 1402.19,517.7 1402.29,562.6 1402.38,535.3 1402.48,580.9 1402.57,564.7 1402.66,562.9 1402.76,497.5 1402.86,547 1402.95,509.6 1403.05,463 1403.14,434.7 1403.24,457.9 1403.33,497.4 1403.43,520 1403.52,535.8 1403.62,414.8 1403.71,453.9 1403.81,583.5 1403.9,492 1404,564.2 1404.09,554.9 1404.19,492 1404.28,581.4 1404.38,515.8 1404.47,533.7 1404.57,618.4 1404.66,545.5 1404.76,588.2 1404.85,539.3 1404.95,455.8 1405.04,549 1405.14,593.1 1405.23,544 1405.33,500.4 1405.42,587.6 1405.52,546.5 1405.61,515.9 1405.71,618.5 1405.8,566.2 1405.89,557.2 1405.99,443.5 1406.09,424.8 1406.18,472.2 1406.28,531.5 1406.37,624 1406.47,593.5 1406.56,588.4 1406.66,586.2 1406.75,595.7 1406.85,467 1406.94,418.6 1407.04,474 1407.13,457.7 1407.23,549.5 1407.32,543.1 1407.41,455.5 1407.51,490.9 1407.61,609.4 1407.7,556.8 1407.8,534.9 1407.89,385.5 1407.99,410.7 1408.08,586.4 1408.18,415 1408.27,473 1408.37,550.8 1408.46,490.7 1408.56,537.7 1408.65,505.5 1408.75,584.4 1408.84,498.9 1408.94,477.1 1409.03,513.1 1409.12,418.9 1409.22,547.9 1409.32,543.6 1409.41,554.1 1409.51,558.1 1409.6,624.1 1409.7,550.8 1409.79,493.4 1409.89,533.9 1409.98,606.3 1410.08,566.4 1410.17,600.2 1410.27,606.1 1410.36,476 1410.46,563 1410.55,510.1 1410.64,463.4 1410.74,390.5 1410.84,477.5 1410.93,569.4 1411.03,426.4 1411.12,495.1 1411.22,566.7 1411.31,545.1 1411.41,600.7 1411.5,552.7 1411.6,520.4 1411.69,435.2 1411.79,426.6 1411.88,526.1 1411.98,582.3 1412.07,548.6 1412.16,544.5 1412.26,584.6 1412.36,604.5 1412.45,593.1 1412.55,593.9 1412.64,496.3 1412.74,462.5 1412.83,611.4 1412.93,505.1 1413.02,529.4 1413.12,523.5 1413.21,513.7 1413.31,539.9 1413.4,627.4 1413.5,518.7 1413.59,529.9 1413.69,572.8 1413.78,565.4 1413.88,458.1 1413.97,551.7 1414.07,502 1414.16,375.2 1414.26,519.4 1414.35,605.2 1414.45,603 1414.54,581.5 1414.64,551.8 1414.73,576.1 1414.83,535.6 1414.92,521.5 1415.02,586.5 1415.11,549 1415.21,549.5 1415.3,558.3 1415.39,515.5 1415.49,502.4 1415.59,554.4 1415.68,603.5 1415.78,561.9 1415.87,508.2 1415.97,495.6 1416.06,548.7 1416.16,379.6 1416.25,387.1 1416.35,514.8 1416.44,386.2 1416.54,384.3 1416.63,515.9 1416.73,484.2 1416.82,485.2 1416.91,585.7 1417.01,592.6 1417.11,508 1417.2,486.4 1417.3,599.8 1417.39,537.4 1417.49,477.5 1417.58,515.1 1417.68,596.4 1417.77,556.5 1417.87,511.9 1417.96,390.9 1418.06,433.9 1418.15,574.8 1418.25,525.5 1418.34,576.3 1418.44,504.2 1418.53,432.5 1418.62,535 1418.72,519.9 1418.82,409.9 1418.91,469.1 1419.01,505.6 1419.1,568 1419.2,610.5 1419.29,608.2 1419.39,587.7 1419.48,530.9 1419.58,484.3 1419.67,518.8 1419.77,597.9 1419.86,576.4 1419.96,568.6 1420.05,516.8 1420.14,527.5 1420.24,523.5 1420.34,499.2 1420.43,491.2 1420.53,544.4 1420.62,525.4 1420.72,571 1420.81,531.1 1420.91,437.8 1421,365 1421.1,545.7 1421.19,554.7 1421.29,574.2 1421.38,521.2 1421.48,512.5 1421.57,519.3 1421.66,539.7 1421.76,552.8 1421.86,523.7 1421.95,421.6 1422.05,437.6 1422.14,451.2 1422.24,462.1 1422.33,478.3 1422.43,458.5 1422.52,578.4 1422.62,493.8 1422.71,479.8 1422.81,521.9 1422.9,583 1423,584.1 1423.09,496.5 1423.19,476.3 1423.28,421.8 1423.38,454.2 1423.47,453.7 1423.57,466.3 1423.66,457.7 1423.76,513.7 1423.85,524.2 1423.95,460.6 1424.04,438.9 1424.14,447.4 1424.23,454.1 1424.33,440.8 1424.42,389.9 1424.52,438.7 1424.61,499.8 1424.71,471.7 1424.8,394.1 1424.89,436 1424.99,522.3 1425.09,555.1 1425.18,540.4 1425.28,592.9 1425.37,607.2 1425.47,586.4 1425.56,555.6 1425.66,505.1 1425.75,457 1425.85,549.7 1425.94,530 1426.04,504 1426.13,530.5 1426.23,548.7 1426.32,577.2 1426.41,542.4 1426.51,560.8 1426.61,594.7 1426.7,526.6 1426.8,542.1 1426.89,576.1 1426.99,587.4 1427.08,502.7 1427.18,506.2 1427.27,534.9 1427.37,553.3 1427.46,504.5 1427.56,524 1427.65,495.8 1427.75,589.4 1427.84,510.3 1427.94,588.2 1428.03,548.8 1428.12,492.7 1428.22,620.4 1428.32,514.7 1428.41,486.5 1428.51,492.4 1428.6,520.8 1428.7,605.2 1428.79,430.2 1428.89,302.4 1428.98,427.1 1429.08,542.5 1429.17,588.7 1429.27,568.3 1429.36,558.2 1429.46,539.5 1429.55,551.7 1429.64,518.9 1429.74,607.4 1429.84,567.4 1429.93,550.5 1430.03,549.9 1430.12,521.4 1430.22,533.2 1430.31,591.2 1430.41,547.9 1430.5,485 1430.6,505.4 1430.69,532.6 1430.79,591 1430.88,478.7 1430.98,496.8 1431.07,607.9 1431.16,492.4 1431.26,559.2 1431.36,491.3 1431.45,458.5 1431.55,598.3 1431.64,566 1431.74,575.2 1431.83,495 1431.93,428.8 1432.02,517.7 1432.12,547.9 1432.21,617.7 1432.31,542.2 1432.4,556.7 1432.5,516.8 1432.59,572.2 1432.69,520.5 1432.78,535 1432.88,563.5 1432.97,518.9 1433.07,554.7 1433.16,551.7 1433.26,519.2 1433.35,568.3 1433.45,528.2 1433.54,513.9 1433.64,566.7 1433.73,565.7 1433.83,558.2 1433.92,520.4 1434.02,500.2 1434.11,459.2 1434.21,441.8 1434.3,481.5 1434.39,454.9 1434.49,503.3 1434.59,586.1 1434.68,556.6 1434.78,469.3 1434.87,588.8 1434.97,494.5 1435.06,566 1435.16,581 1435.25,613.3 1435.35,588.5 1435.44,469.9 1435.54,523.2 1435.63,594.9 1435.73,426.7 1435.82,355.5 1435.91,432.5 1436.01,458.8 1436.11,509.4 1436.2,537.1 1436.3,466.5 1436.39,531.3 1436.49,526.9 1436.58,455.6 1436.68,513.4 1436.77,449.8 1436.87,428.1 1436.96,562.8 1437.06,569.4 1437.15,619.1 1437.25,573.8 1437.34,475.9 1437.44,421.3 1437.53,521.5 1437.62,522.8 1437.72,565.4 1437.82,578.8 1437.91,560.7 1438.01,556.2 1438.1,406.7 1438.2,366.9 1438.29,400.8 1438.39,429.4 1438.48,509.7 1438.58,501 1438.67,503.6 1438.77,579.2 1438.86,576.8 1438.96,522.1 1439.05,495.8 1439.14,493.4 1439.24,530.5 1439.34,505.8 1439.43,486.1 1439.53,494.4 1439.62,518.3 1439.72,539.2 1439.81,504.4 1439.91,454 1440,509.1 1440.1,578.7 1440.19,603.6 1440.29,586.3 1440.38,597.5 1440.48,601.9 1440.57,564.2 1440.66,433.2 1440.76,387.6 1440.86,482 1440.95,594.6 1441.05,543.5 1441.14,475.4 1441.24,411.3 1441.33,275.5 1441.43,425.9 1441.52,530.3 1441.62,570.7 1441.71,502.3 1441.81,540.6 1441.9,530.8 1442,476.4 1442.09,549.2 1442.19,584.3 1442.28,513.4 1442.38,468.6 1442.47,517.7 1442.57,418 1442.66,491 1442.76,531.7 1442.85,515.5 1442.95,415.6 1443.04,527.3 1443.14,590.7 1443.23,494.9 1443.33,528.6 1443.42,517.8 1443.52,622.5 1443.61,527 1443.71,581.4 1443.8,589.5 1443.89,546 1443.99,550.6 1444.09,575.9 1444.18,522.5 1444.28,588.6 1444.37,594.2 1444.47,502.8 1444.56,470.5 1444.66,511.2 1444.75,473.1 1444.85,577.4 1444.94,484.8 1445.04,561.7 1445.13,570.5 1445.23,589.6 1445.32,484.4 1445.41,434.5 1445.51,419.6 1445.61,493 1445.7,541.2 1445.8,504.7 1445.89,537.7 1445.99,557.3 1446.08,561.7 1446.18,605.9 1446.27,572.4 1446.37,551.9 1446.46,508.4 1446.56,511.5 1446.65,497.2 1446.75,569.4 1446.84,538.6 1446.94,480.7 1447.03,583.6 1447.12,482.2 1447.22,513.2 1447.32,557.1 1447.41,481.1 1447.51,424.2 1447.6,561.3 1447.7,511.8 1447.79,576.8 1447.89,571.4 1447.98,504.7 1448.08,504.9 1448.17,571.7 1448.27,553.8 1448.36,578 1448.46,548.9 1448.55,495.2 1448.64,515.4 1448.74,479.6 1448.84,473.5 1448.93,445.8 1449.03,583.6 1449.12,544.1 1449.22,551.7 1449.31,560.8 1449.41,581.1 1449.5,448.9 1449.6,512.5 1449.69,569.5 1449.79,550.2 1449.88,548.8 1449.98,592.7 1450.07,517.6 1450.16,493.4 1450.26,479.5 1450.36,588.7 1450.45,559.8 1450.55,543.2 1450.64,444.2 1450.74,559.6 1450.83,624.8 1450.93,521.7 1451.02,532.6 1451.12,552.1 1451.21,544.2 1451.31,430.9 1451.4,412.1 1451.5,554.2 1451.59,562.8 1451.69,528.3 1451.78,556.7 1451.88,548.7 1451.97,481 1452.07,503.2 1452.16,565 1452.26,464.5 1452.35,480.7 1452.45,485.7 1452.54,597.9 1452.64,509.3 1452.73,400.9 1452.83,443.3 1452.92,487.5 1453.02,494.5 1453.11,464.6 1453.21,519.2 1453.3,535.8 1453.39,397.4 1453.49,426.3 1453.59,425.3 1453.68,357 1453.78,379.8 1453.87,392.3 1453.97,500 1454.06,570.1 1454.16,426.9 1454.25,365.8 1454.35,485.6 1454.44,576.1 1454.54,524.6 1454.63,547.2 1454.73,560 1454.82,508.7 1454.91,525.9 1455.01,515.3 1455.11,504.2 1455.2,612.2 1455.3,561.1 1455.39,526.8 1455.49,453.4 1455.58,412.7 1455.68,466.9 1455.77,425.8 1455.87,358.4 1455.96,491.6 1456.06,524.8 1456.15,499 1456.25,539 1456.34,588.8 1456.44,541.5 1456.53,482.6 1456.62,436.8 1456.72,526.2 1456.82,562.1 1456.91,500.6 1457.01,619.9 1457.1,431.9 1457.2,472.4 1457.29,552 1457.39,505.4 1457.48,536.4 1457.58,532.6 1457.67,390.2 1457.77,361.7 1457.86,410.7 1457.96,512.2 1458.05,549.5 1458.14,581.3 1458.24,584.3 1458.34,540.8 1458.43,607.6 1458.53,500.1 1458.62,573.9 1458.72,553 1458.81,576.6 1458.91,510.4 1459,585.4 1459.1,502 1459.19,484.1 1459.29,493.2 1459.38,414.4 1459.48,526.7 1459.57,527.8 1459.66,412.8 1459.76,475.2 1459.86,557.1 1459.95,563.3 1460.05,414.8 1460.14,437.6 1460.24,549.1 1460.33,555.4 1460.43,485 1460.52,555.9 1460.62,577.3 1460.71,514.9 1460.81,517.5 1460.9,524 1461,502.9 1461.09,523.2 1461.19,561.4 1461.28,617.6 1461.38,419.5 1461.47,531.4 1461.57,571.2 1461.66,535.2 1461.76,473.6 1461.85,579.1 1461.95,501.7 1462.04,366.5 1462.14,363.3 1462.23,365.1 1462.33,449.1 1462.42,518.6 1462.52,431.8 1462.61,493.2 1462.71,600.6 1462.8,528 1462.89,543.8 1462.99,535.4 1463.09,499.8 1463.18,536.6 1463.28,508.4 1463.37,521.1 1463.47,557.8 1463.56,487.7 1463.66,526.7 1463.75,522.7 1463.85,549 1463.94,583.6 1464.04,506.4 1464.13,483.3 1464.23,497.3 1464.32,559.8 1464.41,614.8 1464.51,531.2 1464.61,594.7 1464.7,582.7 1464.8,555.2 1464.89,587.5 1464.99,542.5 1465.08,492.1 1465.18,392.4 1465.27,516.4 1465.37,533.7 1465.46,625.6 1465.56,533.5 1465.65,503.5 1465.75,489.5 1465.84,449 1465.94,518.7 1466.03,516.9 1466.12,512.5 1466.22,579.6 1466.32,591.4 1466.41,536.8 1466.51,437.8 1466.6,492.6 1466.7,508.9 1466.79,606.6 1466.89,515 1466.98,415.4 1467.08,429.5 1467.17,593.2 1467.27,451.3 1467.36,402.6 1467.46,517.1 1467.55,550 1467.64,557.9 1467.74,514.9 1467.84,515.9 1467.93,504.2 1468.03,623.2 1468.12,432.1 1468.22,387.8 1468.31,503.3 1468.41,599 1468.5,441.6 1468.6,538 1468.69,510.5 1468.79,470.6 1468.88,528.3 1468.98,509.1 1469.07,509.6 1469.16,607.7 1469.26,549.2 1469.36,403.9 1469.45,532 1469.55,606.7 1469.64,587.1 1469.74,547.9 1469.83,485.2 1469.93,413.9 1470.02,407.9 1470.12,506 1470.21,487.1 1470.31,434.9 1470.4,539.9 1470.5,489.2 1470.59,483.7 1470.69,559.5 1470.78,567.5 1470.88,599.1 1470.97,566.7 1471.07,516.1 1471.16,495.9 1471.26,427.2 1471.35,391.9 1471.45,403.2 1471.54,437 1471.64,593.3 1471.73,550.2 1471.83,568.4 1471.92,561.1 1472.02,527.7 1472.11,422.9 1472.21,367.9 1472.3,496 1472.39,436 1472.49,556.7 1472.59,603 1472.68,618.9 1472.78,603.9 1472.87,603 1472.97,521.9 1473.06,437.1 1473.16,473 1473.25,556.6 1473.35,558.3 1473.44,608.1 1473.54,571.8 1473.63,484.7 1473.73,565.8 1473.82,541.9 1473.91,555.6 1474.01,510.4 1474.11,451.7 1474.2,521.5 1474.3,522 1474.39,459.9 1474.49,524.4 1474.58,515.4 1474.68,383.9 1474.77,405.8 1474.87,537.5 1474.96,613.1 1475.06,444.3 1475.15,518.6 1475.25,401.2 1475.34,443.2 1475.44,557.4 1475.53,504.3 1475.62,479 1475.72,494.9 1475.82,570.3 1475.91,545.1 1476.01,601.6 1476.1,470.2 1476.2,574.3 1476.29,508 1476.39,542.7 1476.48,560.2 1476.58,489.8 1476.67,431.7 1476.77,541 1476.86,492.6 1476.96,452.3 1477.05,416.6 1477.14,426.5 1477.24,393.9 1477.34,508.9 1477.43,594.3 1477.53,606.8 1477.62,527.4 1477.72,516.2 1477.81,513.5 1477.91,548.8 1478,528.7 1478.1,604 1478.19,573.4 1478.29,522.3 1478.38,419.4 1478.48,497.3 1478.57,531.1 1478.66,477.5 1478.76,489.6 1478.86,468.8 1478.95,521.5 1479.05,471 1479.14,479 1479.24,502.9 1479.33,530.7 1479.43,537.6 1479.52,569 1479.62,540.7 1479.71,550.3 1479.81,528 1479.9,485.8 1480,393.2 1480.09,467.6 1480.19,561.4 1480.28,532.1 1480.38,575.4 1480.47,582.2 1480.57,569 1480.66,473.2 1480.76,352.6 1480.85,389.6 1480.95,493.8 1481.04,553.9 1481.14,497.8 1481.23,519.2 1481.33,513.7 1481.42,587 1481.52,616.2 1481.61,595 1481.71,541.7 1481.8,518.4 1481.89,503.3 1481.99,575.4 1482.09,517 1482.18,571.7 1482.28,545.3 1482.37,526.8 1482.47,410.5 1482.56,349.2 1482.66,348.4 1482.75,437.8 1482.85,563.4 1482.94,598.7 1483.04,541.3 1483.13,449.7 1483.23,461.3 1483.32,578.2 1483.41,532.5 1483.51,570.9 1483.61,548.7 1483.7,517 1483.8,492.3 1483.89,495.6 1483.99,393.6 1484.08,492.7 1484.18,563.3 1484.27,539.1 1484.37,504.6 1484.46,570.5 1484.56,603.9 1484.65,590 1484.75,523.3 1484.84,400.9 1484.94,349 1485.03,438 1485.12,487.3 1485.22,410.6 1485.32,475 1485.41,606.3 1485.51,502.3 1485.6,513.5 1485.7,545.3 1485.79,590.2 1485.89,572 1485.98,518.8 1486.08,469.4 1486.17,527.5 1486.27,612.4 1486.36,508 1486.46,485.4 1486.55,612.2 1486.64,581.2 1486.74,525.8 1486.84,553.7 1486.93,538.1 1487.03,378.4 1487.12,234.5 1487.22,445.3 1487.31,452.6 1487.41,555.1 1487.5,597.9 1487.6,563.8 1487.69,553.1 1487.79,597.1 1487.88,485.3 1487.98,549.1 1488.07,600.5 1488.16,562.7 1488.26,543.8 1488.36,502.5 1488.45,537.2 1488.55,497.2 1488.64,529.6 1488.74,508.6 1488.83,472.8 1488.93,487.9 1489.02,513.8 1489.12,550.5 1489.21,495.2 1489.31,505.3 1489.4,616.4 1489.5,541.7 1489.59,474.4 1489.69,494.8 1489.78,538.7 1489.88,480.3 1489.97,442.9 1490.07,590.5 1490.16,450.1 1490.26,464.5 1490.35,609.6 1490.45,511 1490.54,476.9 1490.64,606.1 1490.73,587.4 1490.83,545.4 1490.92,531.6 1491.02,519.1 1491.11,540.4 1491.21,555.5 1491.3,509.6 1491.39,562.2 1491.49,542.7 1491.59,582.9 1491.68,558.1 1491.78,553.5 1491.87,549.2 1491.97,538 1492.06,604.6 1492.16,566.6 1492.25,560 1492.35,486.5 1492.44,492.2 1492.54,539.8 1492.63,553.1 1492.73,472.5 1492.82,561.7 1492.91,559.7 1493.01,596.5 1493.11,535.8 1493.2,554.6 1493.3,564.1 1493.39,589.2 1493.49,538.9 1493.58,565.2 1493.68,502.6 1493.77,502 1493.87,595.3 1493.96,541.6 1494.06,530.2 1494.15,547.9 1494.25,584.8 1494.34,523.7 1494.44,555.8 1494.53,539.9 1494.62,469.8 1494.72,419.3 1494.82,431.4 1494.91,602.9 1495.01,555 1495.1,546.2 1495.2,595.6 1495.29,567.8 1495.39,527.4 1495.48,615 1495.58,561.4 1495.67,581.8 1495.77,508.3 1495.86,467.7 1495.96,625.3 1496.05,420.3 1496.14,417.8 1496.24,561.4 1496.34,490.6 1496.43,353.1 1496.53,439.3 1496.62,567.8 1496.72,517.5 1496.81,511.4 1496.91,548.8 1497,474.1 1497.1,455.7 1497.19,490.9 1497.29,563.6 1497.38,555.9 1497.48,420.1 1497.57,485.8 1497.66,535.1 1497.76,557.4 1497.86,465 1497.95,501 1498.05,596.2 1498.14,563.2 1498.24,508.8 1498.33,565.8 1498.43,516.5 1498.52,456.9 1498.62,429.2 1498.71,497.6 1498.81,588.1 1498.9,581.7 1499,491.8 1499.09,431.1 1499.19,469.8 1499.28,475.3 1499.38,515.3 1499.47,532.1 1499.57,614.1 1499.66,597.6 1499.76,520.5 1499.85,574.1 1499.95,455.3 1500.04,490.9 1500.14,494.5 1500.23,482.9 1500.33,314 1500.42,446.1 1500.52,541.8 1500.61,477.4 1500.71,475.1 1500.8,506.3 1500.89,579.2 1500.99,524.8 1501.09,587.3 1501.18,480.1 1501.28,550.6 1501.37,465.2 1501.47,423.1 1501.56,471.9 1501.66,456.4 1501.75,518.5 1501.85,574.7 1501.94,549.2 1502.04,546.9 1502.13,579.2 1502.23,513.1 1502.32,523.9 1502.41,498.1 1502.51,426.7 1502.61,465.7 1502.7,532.9 1502.8,601.2 1502.89,567.8 1502.99,421.6 1503.08,517.7 1503.18,568.8 1503.27,441.5 1503.37,437.9 1503.46,572.5 1503.56,465.4 1503.65,476.2 1503.75,528.9 1503.84,511.3 1503.94,489.9 1504.03,531.2 1504.12,557.2 1504.22,563.2 1504.32,543.4 1504.41,598.7 1504.51,555 1504.6,474.4 1504.7,471.9 1504.79,412.1 1504.89,271.8 1504.98,372.5 1505.08,483.7 1505.17,584.6 1505.27,444.2 1505.36,424.5 1505.46,489.1 1505.55,551.7 1505.64,522 1505.74,533.4 1505.84,593.7 1505.93,485 1506.03,482.3 1506.12,530.8 1506.22,584.2 1506.31,559 1506.41,512.1 1506.5,557.6 1506.6,584.1 1506.69,569 1506.79,540.1 1506.88,569.6 1506.98,609.6 1507.07,600.7 1507.16,572.3 1507.26,579.8 1507.36,594.8 1507.45,601.5 1507.55,555.5 1507.64,504.9 1507.74,437.7 1507.83,497 1507.93,552 1508.02,599.1 1508.12,623.5 1508.21,609.6 1508.31,506.1 1508.4,535.5 1508.5,572.4 1508.59,520.5 1508.69,528.8 1508.78,555.7 1508.88,451.4 1508.97,294.5 1509.07,403.5 1509.16,496 1509.26,486.6 1509.35,537.3 1509.45,492 1509.54,488.7 1509.64,515 1509.73,617.6 1509.83,586.6 1509.92,588.8 1510.02,499.7 1510.11,529 1510.21,575.2 1510.3,457.6 1510.39,504 1510.49,503.3 1510.59,564.5 1510.68,499.8 1510.78,561.6 1510.87,459.1 1510.97,393.6 1511.06,363.3 1511.16,447.8 1511.25,530.1 1511.35,568.1 1511.44,564.2 1511.54,557.6 1511.63,632.8 1511.73,580.6 1511.82,563.6 1511.91,524.3 1512.01,485.9 1512.11,572 1512.2,533 1512.3,398.8 1512.39,392.1 1512.49,508.1 1512.58,596.7 1512.68,588.5 1512.77,554.2 1512.87,435.9 1512.96,322.6 1513.06,470.7 1513.15,527.1 1513.25,431.9 1513.34,438 1513.44,437.8 1513.53,480.6 1513.62,545.3 1513.72,479.3 1513.82,572.7 1513.91,499.5 1514.01,581.2 1514.1,483.9 1514.2,576.9 1514.29,433.4 1514.39,596.3 1514.48,434.3 1514.58,450.2 1514.67,509.2 1514.77,555.8 1514.86,443 1514.96,370.6 1515.05,454.7 1515.14,514.8 1515.24,413.4 1515.34,523.4 1515.43,541.9 1515.53,547.2 1515.62,520.1 1515.72,498 1515.81,549.7 1515.91,521.2 1516,547.5 1516.1,469 1516.19,475.1 1516.29,564.3 1516.38,457.7 1516.48,468.2 1516.57,528.1 1516.66,569.8 1516.76,572.7 1516.86,596.7 1516.95,619 1517.05,548.3 1517.14,546.9 1517.24,486.6 1517.33,574.4 1517.43,457.1 1517.52,366.1 1517.62,538.3 1517.71,472.8 1517.81,605.4 1517.9,558.8 1518,503.9 1518.09,616.4 1518.19,478.2 1518.28,457.8 1518.38,536.2 1518.47,527.6 1518.57,581.9 1518.66,558.7 1518.76,568.4 1518.85,535.4 1518.95,586.3 1519.04,575.7 1519.14,540 1519.23,613 1519.33,546 1519.42,513.7 1519.52,476.4 1519.61,592.6 1519.71,581.9 1519.8,563.1 1519.89,493.7 1519.99,491.7 1520.09,515.1 1520.18,517.6 1520.28,520.7 1520.37,454.7 1520.47,461 1520.56,508.3 1520.66,477.6 1520.75,577.4 1520.85,556.5 1520.94,568.2 1521.04,591.7 1521.13,610.6 1521.23,527.5 1521.32,426.2 1521.41,395 1521.51,513.2 1521.61,568.5 1521.7,555.4 1521.8,584.6 1521.89,471.7 1521.99,512 1522.08,505.8 1522.18,416.6 1522.27,485.9 1522.37,603.8 1522.46,551.8 1522.56,532.7 1522.65,523.3 1522.75,592.8 1522.84,503 1522.94,537.5 1523.03,483.7 1523.12,506.4 1523.22,428.1 1523.32,597.1 1523.41,511.9 1523.51,534.9 1523.6,429.1 1523.7,489.3 1523.79,571.1 1523.89,608.7 1523.98,507 1524.08,391.8 1524.17,432.9 1524.27,478.8 1524.36,507.5 1524.46,549 1524.55,557.7 1524.64,585.8 1524.74,602.6 1524.84,610.2 1524.93,531.4 1525.03,485.9 1525.12,512.3 1525.22,580.3 1525.31,388.4 1525.41,419.8 1525.5,565.9 1525.6,501.4 1525.69,560.2 1525.79,596.3 1525.88,552.7 1525.98,535 1526.07,577.1 1526.16,503.5 1526.26,509.2 1526.36,439.8 1526.45,472 1526.55,574.7 1526.64,555.3 1526.74,544.4 1526.83,574 1526.93,465.7 1527.02,492.2 1527.12,514.9 1527.21,488.2 1527.31,400.7 1527.4,501.5 1527.5,543.6 1527.59,497.6 1527.69,420.7 1527.78,502.7 1527.88,598.5 1527.97,544.7 1528.07,517.9 1528.16,556 1528.26,575.1 1528.35,565.1 1528.45,550.8 1528.54,587.8 1528.64,478.8 1528.73,486.8 1528.83,549 1528.92,557.5 1529.02,492.8 1529.11,550.7 1529.21,563 1529.3,570.6 1529.39,499.9 1529.49,540.3 1529.59,597.7 1529.68,577.1 1529.78,556 1529.87,573.2 1529.97,482.2 1530.06,384.5 1530.16,494.3 1530.25,486.3 1530.35,600.6 1530.44,475.5 1530.54,515.6 1530.63,553.6 1530.73,598.9 1530.82,483 1530.91,505.1 1531.01,595.9 1531.11,610.5 1531.2,567.8 1531.3,607.3 1531.39,444.8 1531.49,422.4 1531.58,554.4 1531.68,576 1531.77,559 1531.87,547.5 1531.96,514.1 1532.06,566.5 1532.15,578.5 1532.25,562.9 1532.34,542.8 1532.44,526.3 1532.53,580.6 1532.62,555 1532.72,509.6 1532.82,483 1532.91,513.9 1533.01,551.2 1533.1,570.9 1533.2,543.5 1533.29,479.5 1533.39,548.3 1533.48,545.7 1533.58,532.6 1533.67,563.2 1533.77,621.2 1533.86,508.7 1533.96,475 1534.05,495.9 1534.14,491.4 1534.24,542.3 1534.34,510.9 1534.43,512.2 1534.53,584.2 1534.62,557.5 1534.72,588.7 1534.81,573.8 1534.91,521.9 1535,504.7 1535.1,510.5 1535.19,589.7 1535.29,564.8 1535.38,485.2 1535.48,518.5 1535.57,520.2 1535.66,497.4 1535.76,578.9 1535.86,566.1 1535.95,568.5 1536.05,493 1536.14,468.8 1536.24,527.2 1536.33,577.5 1536.43,598.6 1536.52,499.3 1536.62,462.3 1536.71,505.9 1536.81,564 1536.9,595.2 1537,489.2 1537.09,377.7 1537.19,535.1 1537.28,581.9 1537.38,521.4 1537.47,481.4 1537.57,539.1 1537.66,610.6 1537.76,534.4 1537.85,502.4 1537.95,547.5 1538.04,467.5 1538.14,480.9 1538.23,472.4 1538.33,591.9 1538.42,586.3 1538.52,525 1538.61,518.4 1538.71,587.2 1538.8,618.6 1538.89,562.2 1538.99,617.2 1539.09,528.2 1539.18,557.3 1539.28,572.7 1539.37,572.3 1539.47,617.3 1539.56,556.5 1539.66,543.7 1539.75,569 1539.85,574.8 1539.94,590.6 1540.04,632.5 1540.13,560.2 1540.23,525.2 1540.32,470.1 1540.41,529.5 1540.51,602.1 1540.61,578 1540.7,547.8 1540.8,540.5 1540.89,569.4 1540.99,550.7 1541.08,580.1 1541.18,506.5 1541.27,580.4 1541.37,572.3 1541.46,518.7 1541.56,566.8 1541.65,459.8 1541.75,532.2 1541.84,513.7 1541.94,490.6 1542.03,542.9 1542.12,470.2 1542.22,415.1 1542.32,459.3 1542.41,475.9 1542.51,532.7 1542.6,549.1 1542.7,543.5 1542.79,516.6 1542.89,462.8 1542.98,503.6 1543.08,553.6 1543.17,479.1 1543.27,462.7 1543.36,486.9 1543.46,444.3 1543.55,378.6 1543.64,497.8 1543.74,550.7 1543.84,513.9 1543.93,497.3 1544.03,532.5 1544.12,542 1544.22,548.5 1544.31,408.5 1544.41,461.4 1544.5,574.7 1544.6,521.3 1544.69,555.4 1544.79,489.1 1544.88,504 1544.98,406.7 1545.07,403.9 1545.16,592.3 1545.26,502.4 1545.36,576.1 1545.45,486.8 1545.55,553.2 1545.64,567.1 1545.74,569.3 1545.83,513.9 1545.93,572.1 1546.02,526.1 1546.12,563.8 1546.21,511.3 1546.31,576.8 1546.4,547.2 1546.5,496 1546.59,526 1546.69,554.6 1546.78,524.9 1546.88,503.4 1546.97,501.9 1547.07,524.4 1547.16,547 1547.26,503.5 1547.35,468.9 1547.45,532.6 1547.54,534.4 1547.64,548.3 1547.73,568.8 1547.83,507.7 1547.92,482.6 1548.02,589 1548.11,551.5 1548.21,479.8 1548.3,452.5 1548.39,380.9 1548.49,446.1 1548.59,618.7 1548.68,588.5 1548.78,556.5 1548.87,542.3 1548.97,553.3 1549.06,504.8 1549.16,552.9 1549.25,618.4 1549.35,593.9 1549.44,476.8 1549.54,404.7 1549.63,509.7 1549.73,540.3 1549.82,583.1 1549.91,440 1550.01,445.4 1550.11,452.6 1550.2,435.8 1550.3,571.8 1550.39,567.6 1550.49,474.5 1550.58,494.7 1550.68,506.6 1550.77,449.1 1550.87,370.5 1550.96,429.1 1551.06,564.1 1551.15,598.1 1551.25,582.7 1551.34,497.9 1551.44,530.1 1551.53,518.7 1551.62,475.3 1551.72,445.5 1551.82,479.8 1551.91,561.1 1552.01,508.3 1552.1,571.5 1552.2,541 1552.29,516.3 1552.39,463.5 1552.48,492.4 1552.58,545.1 1552.67,533.9 1552.77,564.6 1552.86,571.7 1552.96,549.3 1553.05,590.2 1553.14,497.7 1553.24,583.3 1553.34,544.7 1553.43,516 1553.53,537.9 1553.62,596.6 1553.72,533.5 1553.81,557.2 1553.91,586.1 1554,588.5 1554.1,555.5 1554.19,605.1 1554.29,533.1 1554.38,470.9 1554.48,537.5 1554.57,508.2 1554.66,458.6 1554.76,487.2 1554.86,592.1 1554.95,588.6 1555.05,487.3 1555.14,491.7 1555.24,485.5 1555.33,574.9 1555.43,577 1555.52,564.1 1555.62,533.1 1555.71,535.2 1555.81,578.7 1555.9,559 1556,560.3 1556.09,493.5 1556.19,440.7 1556.28,471.8 1556.38,563.9 1556.47,489.9 1556.57,575 1556.66,619.5 1556.76,585.8 1556.85,571 1556.95,593.9 1557.04,537.5 1557.14,532.6 1557.23,516.3 1557.33,443.7 1557.42,455.2 1557.52,494.7 1557.61,507.6 1557.71,562.7 1557.8,621.3 1557.89,566 1557.99,535.3 1558.09,565.2 1558.18,546.4 1558.28,495.8 1558.37,526.8 1558.47,428.7 1558.56,263 1558.66,411.3 1558.75,602.4 1558.85,458.4 1558.94,435.4 1559.04,521.3 1559.13,579 1559.23,552 1559.32,562.4 1559.41,497.7 1559.51,443.6 1559.61,587.4 1559.7,557.9 1559.8,496.7 1559.89,499.4 1559.99,535.6 1560.08,606.9 1560.18,477.9 1560.27,487.9 1560.37,530.4 1560.46,576.1 1560.56,571.5 1560.65,584.2 1560.75,565.4 1560.84,472.4 1560.94,451.7 1561.03,464.8 1561.12,464.5 1561.22,597.7 1561.32,572.8 1561.41,554.9 1561.51,576.8 1561.6,531.4 1561.7,484 1561.79,585.6 1561.89,501.8 1561.98,559.4 1562.08,590.9 1562.17,553 1562.27,570.1 1562.36,487.2 1562.46,420 1562.55,539.5 1562.64,524.5 1562.74,610.3 1562.84,555 1562.93,592.4 1563.03,517.9 1563.12,568.8 1563.22,590.9 1563.31,581.4 1563.41,595.6 1563.5,554.8 1563.6,483.6 1563.69,486.9 1563.79,594.2 1563.88,565.4 1563.98,503.4 1564.07,562.7 1564.16,588 1564.26,553.4 1564.36,617.5 1564.45,535.1 1564.55,467.9 1564.64,509.3 1564.74,493 1564.83,541.3 1564.93,583.6 1565.02,523.2 1565.12,582.1 1565.21,473.1 1565.31,426.8 1565.4,508.5 1565.5,568.6 1565.59,515.4 1565.69,481.7 1565.78,618.4 1565.88,485.9 1565.97,542.7 1566.07,475.1 1566.16,496.3 1566.26,436.7 1566.35,538 1566.45,605.2 1566.54,504.2 1566.64,420.2 1566.73,356.3 1566.83,470.1 1566.92,603.2 1567.02,597.1 1567.11,459.3 1567.21,426.9 1567.3,546.2 1567.39,583 1567.49,530.4 1567.59,422.7 1567.68,409.9 1567.78,466 1567.87,581.5 1567.97,625.5 1568.06,546.1 1568.16,498.4 1568.25,533.4 1568.35,488.5 1568.44,505 1568.54,539.2 1568.63,498.7 1568.73,467.6 1568.82,510.8 1568.91,580.2 1569.01,527.7 1569.11,573.2 1569.2,543.9 1569.3,527 1569.39,578.1 1569.49,480.8 1569.58,550.6 1569.68,614 1569.77,596.3 1569.87,540.8 1569.96,561.4 1570.06,579.3 1570.15,537.2 1570.25,549 1570.34,534.9 1570.44,508.5 1570.53,546.6 1570.62,577.2 1570.72,533 1570.82,557 1570.91,506.9 1571.01,444.3 1571.1,596.9 1571.2,472.4 1571.29,453.8 1571.39,523.3 1571.48,564.4 1571.58,472 1571.67,448.8 1571.77,450.9 1571.86,507.1 1571.96,552.4 1572.05,526.1 1572.14,548.9 1572.24,545.9 1572.34,620.2 1572.43,520 1572.53,492.6 1572.62,527.7 1572.72,532.8 1572.81,436.8 1572.91,402.8 1573,439.6 1573.1,525.4 1573.19,555.3 1573.29,475.3 1573.38,417 1573.48,539.9 1573.57,570.8 1573.66,505.1 1573.76,557.9 1573.86,565 1573.95,617.3 1574.05,504.9 1574.14,448.8 1574.24,526.7 1574.33,605.5 1574.43,570.1 1574.52,548 1574.62,572.7 1574.71,506.4 1574.81,546.7 1574.9,530.9 1575,569.4 1575.09,571.5 1575.18,523.3 1575.28,533.9 1575.38,546.4 1575.47,389.6 1575.57,366.5 1575.66,542.1 1575.76,617.5 1575.85,569.8 1575.95,544.9 1576.04,611.8 1576.14,528.8 1576.23,505.9 1576.33,533.4 1576.42,579.5 1576.52,527.1 1576.61,546.8 1576.7,554.7 1576.8,477.1 1576.89,478.1 1576.99,593.8 1577.09,581.5 1577.18,559.8 1577.28,553.3 1577.37,598 1577.47,519.5 1577.56,507.9 1577.66,573 1577.75,599.2 1577.85,484.1 1577.94,391.5 1578.04,502.9 1578.13,570.4 1578.23,580.3 1578.32,553.4 1578.41,489.8 1578.51,457.2 1578.61,523.5 1578.7,520.3 1578.8,574.1 1578.89,531.7 1578.99,529 1579.08,525.3 1579.18,513 1579.27,522.1 1579.37,563.6 1579.46,558.9 1579.56,509.1 1579.65,496.2 1579.75,589 1579.84,540.3 1579.93,556.7 1580.03,464.4 1580.12,480.5 1580.22,488.6 1580.32,549.5 1580.41,576.4 1580.51,537.9 1580.6,536.6 1580.7,569.6 1580.79,555.3 1580.89,511.5 1580.98,535 1581.08,579.7 1581.17,547.8 1581.27,578.5 1581.36,570.8 1581.45,527.2 1581.55,544.2 1581.64,568 1581.74,533.8 1581.84,556.2 1581.93,539 1582.03,505.4 1582.12,602.6 1582.22,574.8 1582.31,507.8 1582.41,487.6 1582.5,501.3 1582.6,485.1 1582.69,510.7 1582.79,586.9 1582.88,586.1 1582.98,582.4 1583.07,560.1 1583.16,549.7 1583.26,525.8 1583.36,524.5 1583.45,451.3 1583.55,561.8 1583.64,571.6 1583.74,469.2 1583.83,521.2 1583.93,597.5 1584.02,559.8 1584.12,542.7 1584.21,525.7 1584.31,572.9 1584.4,542.7 1584.5,501.9 1584.59,528.1 1584.68,609.5 1584.78,507.5 1584.88,542.2 1584.97,580.7 1585.07,529.6 1585.16,563.7 1585.26,612.8 1585.35,557.6 1585.45,592.2 1585.54,532.2 1585.64,504.9 1585.73,531.7 1585.83,546.1 1585.92,498.8 1586.02,534.9 1586.11,458.6 1586.2,413.5 1586.3,506.2 1586.39,569.6 1586.49,527.7 1586.59,575.4 1586.68,557.2 1586.78,566 1586.87,609 1586.97,589.7 1587.06,543.9 1587.16,492.4 1587.25,510.4 1587.35,545 1587.44,577.2 1587.54,558.7 1587.63,498.5 1587.73,527.6 1587.82,551.5 1587.91,516.1 1588.01,452.7 1588.11,481.2 1588.2,563.5 1588.3,535.7 1588.39,516.2 1588.49,605.2 1588.58,588.8 1588.68,535.9 1588.77,529.6 1588.87,460.4 1588.96,383 1589.06,527.2 1589.15,496.1 1589.25,512.7 1589.34,591.4 1589.43,576.3 1589.53,524.2 1589.62,486.7 1589.72,464.4 1589.82,456.2 1589.91,496.7 1590.01,560.5 1590.1,586.4 1590.2,563.1 1590.29,532.7 1590.39,547.6 1590.48,548.3 1590.58,531.7 1590.67,566 1590.77,622.5 1590.86,615.1 1590.95,607.4 1591.05,581 1591.14,548.9 1591.24,567.5 1591.34,478.7 1591.43,491.6 1591.53,571.5 1591.62,562.2 1591.72,522.5 1591.81,629.8 1591.91,580.3 1592,542.8 1592.1,559.5 1592.19,474.1 1592.29,479.6 1592.38,463.5 1592.48,550.5 1592.57,598.9 1592.66,494.8 1592.76,497.3 1592.86,585.9 1592.95,605.3 1593.05,488.7 1593.14,476.2 1593.24,540.2 1593.33,546.4 1593.43,590.4 1593.52,559.7 1593.62,575.3 1593.71,456.7 1593.81,501.9 1593.9,556.6 1594,471.2 1594.09,584.4 1594.18,447.7 1594.28,430.6 1594.38,545.3 1594.47,459.6 1594.57,324.7 1594.66,499.6 1594.76,500.6 1594.85,449.1 1594.95,527.4 1595.04,532.1 1595.14,435 1595.23,536.1 1595.33,556.8 1595.42,540.4 1595.52,503.9 1595.61,570.2 1595.7,596.5 1595.8,563.4 1595.89,589.3 1595.99,586.5 1596.09,573.7 1596.18,570.9 1596.28,602.1 1596.37,437.4 1596.47,520.1 1596.56,591.1 1596.66,507.1 1596.75,485.1 1596.85,558.7 1596.94,420.8 1597.04,577.3 1597.13,500.8 1597.23,520.6 1597.32,516.8 1597.41,585.5 1597.51,564.1 1597.61,529.4 1597.7,609 1597.8,615 1597.89,539.9 1597.99,549.8 1598.08,511.6 1598.18,530.6 1598.27,521.6 1598.37,510.8 1598.46,602.5 1598.56,563.7 1598.65,563.3 1598.75,534.1 1598.84,562.2 1598.93,601.5 1599.03,549.4 1599.12,583.2 1599.22,585.8 1599.32,594.4 1599.41,605.4 1599.51,586.5 1599.6,502.6 1599.7,513 1599.79,564.5 1599.89,627.4 1599.98,569.1 1600.08,482.2 1600.17,537.4 1600.27,590.1 1600.36,448 1600.45,502.5 1600.55,553.5 1600.64,512.7 1600.74,505 1600.84,514 1600.93,632.1 1601.03,569.4 1601.12,573.8 1601.22,434.1 1601.31,488.4 1601.41,543.4 1601.5,521.6 1601.6,535.4 1601.69,509.4 1601.79,496.7 1601.88,479 1601.98,542.8 1602.07,563.4 1602.16,526.6 1602.26,582.7 1602.36,528.6 1602.45,579 1602.55,548.2 1602.64,515.2 1602.74,545.5 1602.83,556.7 1602.93,571.4 1603.02,488.5 1603.12,472.2 1603.21,533 1603.31,545.9 1603.4,562 1603.5,501.6 1603.59,626.7 1603.68,515.8 1603.78,503 1603.88,560.9 1603.97,555 1604.07,536.8 1604.16,551.2 1604.26,466.6 1604.35,448.5 1604.45,552.7 1604.54,584.7 1604.64,571.1 1604.73,517.3 1604.83,472.9 1604.92,465.8 1605.02,497.7 1605.11,586.6 1605.2,628.4 1605.3,588.1 1605.39,604.4 1605.49,528.5 1605.59,491.6 1605.68,481.1 1605.78,569 1605.87,532.3 1605.97,516.9 1606.06,502.3 1606.16,413.9 1606.25,504.4 1606.35,576.9 1606.44,570.6 1606.54,559.1 1606.63,531.7 1606.73,566.5 1606.82,583.8 1606.91,458.1 1607.01,483.5 1607.11,545.8 1607.2,431.7 1607.3,502.9 1607.39,620.2 1607.49,577.6 1607.58,537.5 1607.68,535.3 1607.77,560.4 1607.87,507.8 1607.96,532 1608.06,553.3 1608.15,514 1608.25,535.3 1608.34,498.1 1608.43,551.6 1608.53,516.7 1608.62,544 1608.72,459.8 1608.82,577.4 1608.91,428.8 1609.01,425.8 1609.1,506.6 1609.2,490.7 1609.29,547.7 1609.39,406 1609.48,393.7 1609.58,484.8 1609.67,534.3 1609.77,584.2 1609.86,575.8 1609.95,580.8 1610.05,569.6 1610.14,599.9 1610.24,585.9 1610.34,572 1610.43,551.6 1610.53,583.5 1610.62,563.2 1610.72,578.5 1610.81,595.6 1610.91,499.9 1611,361.1 1611.1,407.9 1611.19,604 1611.29,545.2 1611.38,546.7 1611.48,555.1 1611.57,495.7 1611.66,462.4 1611.76,503 1611.86,594.6 1611.95,537.2 1612.05,567 1612.14,501.7 1612.24,575.2 1612.33,554.4 1612.43,510.3 1612.52,574.9 1612.62,575.1 1612.71,566.4 1612.81,603.4 1612.9,591.4 1613,555.5 1613.09,566.3 1613.18,571 1613.28,501.4 1613.38,502.2 1613.47,630.5 1613.57,542.4 1613.66,440.5 1613.76,480.7 1613.85,563.1 1613.95,468.4 1614.04,474.6 1614.14,493.1 1614.23,474.7 1614.33,511.8 1614.42,555.5 1614.52,524.3 1614.61,590.4 1614.7,559.5 1614.8,535.5 1614.89,571.1 1614.99,540.6 1615.09,492.3 1615.18,549.1 1615.28,593.5 1615.37,560.7 1615.47,481.8 1615.56,533.9 1615.66,530 1615.75,543.5 1615.85,503.4 1615.94,472.4 1616.04,500.3 1616.13,518.7 1616.23,551.2 1616.32,453.5 1616.41,503.6 1616.51,544.9 1616.61,504.6 1616.7,566.6 1616.8,525.4 1616.89,549.4 1616.99,528.1 1617.08,523.1 1617.18,493.2 1617.27,509 1617.37,553 1617.46,558 1617.56,615.2 1617.65,609.3 1617.75,496.7 1617.84,606.2 1617.93,566.2 1618.03,594.3 1618.12,584.9 1618.22,596 1618.32,539.9 1618.41,586.4 1618.51,591.7 1618.6,584.4 1618.7,530.6 1618.79,535.6 1618.89,487 1618.98,456.5 1619.08,530.6 1619.17,461.3 1619.27,620.5 1619.36,529.7 1619.45,525.1 1619.55,558.2 1619.64,544.8 1619.74,570.4 1619.84,557.6 1619.93,598.6 1620.03,517.8 1620.12,431.5 1620.22,427.6 1620.31,525.1 1620.41,513.1 1620.5,562.3 1620.6,582.3 1620.69,494.1 1620.79,461.3 1620.88,544.3 1620.98,604.7 1621.07,569.4 1621.16,579.4 1621.26,528 1621.36,521.7 1621.45,597.2 1621.55,500 1621.64,470.1 1621.74,474.5 1621.83,486.2 1621.93,499.8 1622.02,453.1 1622.12,531.8 1622.21,510.6 1622.31,471.1 1622.4,570.5 1622.5,541.3 1622.59,540.9 1622.68,586.8 1622.78,547.4 1622.88,475 1622.97,524.2 1623.07,494.7 1623.16,511.3 1623.26,562.9 1623.35,604.1 1623.45,551 1623.54,512.9 1623.64,378.4 1623.73,441.7 1623.83,426.2 1623.92,443.1 1624.02,530.3 1624.11,606.2 1624.2,599.3 1624.3,525.6 1624.39,559.4 1624.49,541.2 1624.59,500.7 1624.68,580.9 1624.78,586.1 1624.87,521.9 1624.97,484.5 1625.06,553.1 1625.16,490 1625.25,532 1625.35,607.7 1625.44,539.5 1625.54,501.6 1625.63,444.5 1625.73,473.7 1625.82,543.4 1625.91,559.9 1626.01,456.8 1626.11,480.4 1626.2,463.7 1626.3,464.1 1626.39,526.3 1626.49,517.3 1626.58,513.4 1626.68,528.6 1626.77,531.1 1626.87,565.5 1626.96,587.9 1627.06,614.4 1627.15,588.7 1627.25,565.3 1627.34,561.3 1627.43,578 1627.53,515.7 1627.62,559.9 1627.72,528 1627.82,512.9 1627.91,545.6 1628.01,585.7 1628.1,560.9 1628.2,561.9 1628.29,548.4 1628.39,506.6 1628.48,555.2 1628.58,568.3 1628.67,592.8 1628.77,597.8 1628.86,583.1 1628.95,539 1629.05,472.5 1629.14,503.3 1629.24,546.3 1629.34,552.6 1629.43,634.5 1629.53,585.9 1629.62,546.9 1629.72,553.1 1629.81,598.2 1629.91,589.8 1630,572.9 1630.1,583.4 1630.19,601.4 1630.29,568.9 1630.38,596.7 1630.48,554.9 1630.57,553.5 1630.66,442.4 1630.76,467.3 1630.86,554.9 1630.95,606.5 1631.05,516.5 1631.14,484.7 1631.24,456.2 1631.33,515.7 1631.43,574 1631.52,588 1631.62,511.7 1631.71,526.7 1631.81,508.9 1631.9,548.6 1632,590.1 1632.09,553.7 1632.18,554.1 1632.28,505 1632.38,575.4 1632.47,527.7 1632.57,604.5 1632.66,521.9 1632.76,552.9 1632.85,578.4 1632.95,630.4 1633.04,558.3 1633.14,580.8 1633.23,614.7 1633.33,560.5 1633.42,526.1 1633.52,545.5 1633.61,593 1633.7,535.4 1633.8,489.2 1633.89,540 1633.99,509.3 1634.09,622.5 1634.18,579.3 1634.28,575.5 1634.37,571.6 1634.47,556.6 1634.56,561.8 1634.66,550.8 1634.75,555 1634.85,417.6 1634.94,435 1635.04,534.2 1635.13,549.8 1635.23,536 1635.32,583.3 1635.41,625 1635.51,531.5 1635.61,397.7 1635.7,421.3 1635.8,572.1 1635.89,487.7 1635.99,520.2 1636.08,607.6 1636.18,612.7 1636.27,571.1 1636.37,579 1636.46,509.2 1636.56,433.6 1636.65,561.2 1636.75,571.6 1636.84,592.9 1636.93,596.2 1637.03,607.7 1637.12,502.1 1637.22,461.2 1637.32,495.5 1637.41,519.1 1637.51,550.6 1637.6,546.3 1637.7,552.1 1637.79,588.8 1637.89,536.1 1637.98,529.5 1638.08,561.3 1638.17,612.6 1638.27,585.6 1638.36,480.2 1638.45,448.2 1638.55,520.5 1638.64,586.6 1638.74,569.8 1638.84,575.8 1638.93,503.5 1639.03,432.8 1639.12,481.2 1639.22,599.2 1639.31,537.6 1639.41,518.8 1639.5,510.8 1639.6,586.4 1639.69,534.2 1639.79,497.1 1639.88,574.5 1639.98,522.6 1640.07,573.7 1640.16,500.5 1640.26,588.1 1640.36,530.4 1640.45,547.6 1640.55,489.5 1640.64,570.1 1640.74,499.2 1640.83,548.5 1640.93,574.4 1641.02,608.7 1641.12,615.8 1641.21,619.7 1641.31,594.4 1641.4,577.4 1641.5,597.4 1641.59,533.4 1641.68,551.6 1641.78,591.6 1641.88,566.5 1641.97,521.3 1642.07,541.7 1642.16,539.2 1642.26,510.5 1642.35,567.8 1642.45,593.5 1642.54,549.3 1642.64,589.4 1642.73,584.9 1642.83,610 1642.92,529.8 1643.02,543.2 1643.11,570.2 1643.2,581.2 1643.3,510.2 1643.39,495.7 1643.49,429.5 1643.59,503.5 1643.68,557.9 1643.78,491.5 1643.87,452.7 1643.97,488 1644.06,580 1644.16,556.7 1644.25,509 1644.35,491.8 1644.44,501.4 1644.54,557.5 1644.63,595 1644.73,536.7 1644.82,494 1644.91,532.5 1645.01,492.7 1645.11,558.3 1645.2,600.2 1645.3,515.6 1645.39,508.3 1645.49,555.6 1645.58,518.7 1645.68,614.6 1645.77,551.8 1645.87,565.9 1645.96,484.2 1646.06,492.1 1646.15,498.1 1646.25,340 1646.34,444.9 1646.43,515.9 1646.53,523.7 1646.62,442 1646.72,480.9 1646.82,569.6 1646.91,567.1 1647.01,575.1 1647.1,574.6 1647.2,552 1647.29,581.3 1647.39,559.4 1647.48,442.2 1647.58,448.6 1647.67,512.7 1647.77,601 1647.86,612.4 1647.96,539.2 1648.05,533.8 1648.14,621.9 1648.24,591.9 1648.34,560 1648.43,563.6 1648.53,473.7 1648.62,580.1 1648.72,567.7 1648.81,567.6 1648.91,567.7 1649,511 1649.1,585.1 1649.19,608 1649.29,581.3 1649.38,619.9 1649.48,548.8 1649.57,516.4 1649.66,563.1 1649.76,463.4 1649.86,486.4 1649.95,576.9 1650.05,559.1 1650.14,534.5 1650.24,567.5 1650.33,605.5 1650.43,557.7 1650.52,536.2 1650.62,612.6 1650.71,600.1 1650.81,608.5 1650.9,402.9 1651,235 1651.09,457.7 1651.18,542.5 1651.28,539.7 1651.38,574.3 1651.47,559.3 1651.57,475.8 1651.66,549.1 1651.76,589.7 1651.85,572.2 1651.95,560 1652.04,607.7 1652.14,578.8 1652.23,595 1652.33,584.6 1652.42,607.2 1652.52,582 1652.61,619 1652.71,595.7 1652.8,579.7 1652.89,545.9 1652.99,569.2 1653.09,581.2 1653.18,533.6 1653.28,513.7 1653.37,582.6 1653.47,518.1 1653.56,515.3 1653.66,580.1 1653.75,566.2 1653.85,507.2 1653.94,497.5 1654.04,454.4 1654.13,490.5 1654.23,478.2 1654.32,507.9 1654.41,513.9 1654.51,507.6 1654.61,509 1654.7,509.4 1654.8,586.6 1654.89,570.8 1654.99,527.2 1655.08,457.3 1655.18,452.9 1655.27,490.1 1655.37,575.8 1655.46,586.4 1655.56,596.8 1655.65,555.4 1655.75,514.6 1655.84,497 1655.93,577.7 1656.03,535.3 1656.12,522.1 1656.22,537.7 1656.32,544.3 1656.41,542.4 1656.51,561.9 1656.6,575.1 1656.7,591.6 1656.79,582.4 1656.89,496.1 1656.98,557 1657.08,580.8 1657.17,583.7 1657.27,572.5 1657.36,562.8 1657.46,541.8 1657.55,517.1 1657.64,529.5 1657.74,598.4 1657.84,489.7 1657.93,428.3 1658.03,452.7 1658.12,552.6 1658.22,495.2 1658.31,492.9 1658.41,589 1658.5,586.2 1658.6,554 1658.69,432.2 1658.79,439.2 1658.88,500.3 1658.98,530.6 1659.07,506.8 1659.16,543.5 1659.26,449.1 1659.36,383.7 1659.45,546.6 1659.55,528.5 1659.64,528.9 1659.74,568.7 1659.83,484.7 1659.93,490.3 1660.02,507.4 1660.12,522.4 1660.21,526.6 1660.31,383.1 1660.4,506 1660.5,554 1660.59,502.2 1660.68,424.3 1660.78,448.2 1660.88,510.8 1660.97,521.9 1661.07,561.1 1661.16,589.2 1661.26,583.7 1661.35,599.2 1661.45,606 1661.54,525.9 1661.64,467.3 1661.73,478.4 1661.83,493.9 1661.92,628.6 1662.02,502.4 1662.11,563 1662.21,497.8 1662.3,575.3 1662.39,545.6 1662.49,528.8 1662.59,549.7 1662.68,562.6 1662.78,549.8 1662.87,541.6 1662.97,610.2 1663.06,555.5 1663.16,486.1 1663.25,491.9 1663.35,555.3 1663.44,602.2 1663.54,547 1663.63,508.2 1663.73,582.6 1663.82,563.1 1663.91,564.3 1664.01,554.8 1664.11,551.3 1664.2,462 1664.3,540.6 1664.39,487.1 1664.49,495.4 1664.58,519.3 1664.68,583.5 1664.77,615.3 1664.87,613.2 1664.96,569.2 1665.06,631.3 1665.15,570.1 1665.25,605.2 1665.34,582 1665.43,488.6 1665.53,509.9 1665.62,593.7 1665.72,506 1665.82,492.9 1665.91,555.5 1666.01,508.8 1666.1,480.3 1666.2,447.1 1666.29,514.4 1666.39,537.7 1666.48,451.9 1666.58,478.5 1666.67,588.2 1666.77,560.9 1666.86,540.1 1666.96,605.4 1667.05,514.9 1667.14,497.4 1667.24,594 1667.34,564.2 1667.43,565 1667.53,584.2 1667.62,515.9 1667.72,416.5 1667.81,447.4 1667.91,555.6 1668,601.4 1668.1,416 1668.19,453 1668.29,531.6 1668.38,587.9 1668.48,593.3 1668.57,571.1 1668.66,570.2 1668.76,539.1 1668.86,567.1 1668.95,400.1 1669.05,432.4 1669.14,595.6 1669.24,558.2 1669.33,595.4 1669.43,605.9 1669.52,571.9 1669.62,562.4 1669.71,529.4 1669.81,557.6 1669.9,560.3 1670,589.2 1670.09,611.4 1670.18,568 1670.28,552.6 1670.38,556.1 1670.47,531.2 1670.57,574.8 1670.66,596 1670.76,578.6 1670.85,474.2 1670.95,451.4 1671.04,558.5 1671.14,503.6 1671.23,432.3 1671.33,496.4 1671.42,572.2 1671.52,562.3 1671.61,514.3 1671.71,517.1 1671.8,502.6 1671.89,535.1 1671.99,593.4 1672.09,590 1672.18,604.3 1672.28,524.6 1672.37,567.7 1672.47,565.7 1672.56,592.1 1672.66,597.5 1672.75,597.4 1672.85,503.1 1672.94,549.1 1673.04,600 1673.13,588.2 1673.23,595.2 1673.32,570.1 1673.41,616 1673.51,562.7 1673.61,493.9 1673.7,556.4 1673.8,547.8 1673.89,535.3 1673.99,557.2 1674.08,620.9 1674.18,610.7 1674.27,564.5 1674.37,539.4 1674.46,495.4 1674.56,527.4 1674.65,545.4 1674.75,558.5 1674.84,566.6 1674.93,515.2 1675.03,561.3 1675.12,551.8 1675.22,576.6 1675.32,493.6 1675.41,449.7 1675.51,472.9 1675.6,612.3 1675.7,567.5 1675.79,551 1675.89,613.8 1675.98,571.2 1676.08,548.5 1676.17,529.4 1676.27,448.7 1676.36,579.4 1676.46,562.7 1676.55,541.1 1676.64,584 1676.74,604.2 1676.84,596.3 1676.93,593.4 1677.03,496.7 1677.12,400.6 1677.22,405.8 1677.31,466.2 1677.41,557.3 1677.5,570.3 1677.6,565.1 1677.69,606.4 1677.79,539.1 1677.88,606 1677.98,589.2 1678.07,607.2 1678.16,610.5 1678.26,560.8 1678.36,592.1 1678.45,537.7 1678.55,537.7 1678.64,602.9 1678.74,590.5 1678.83,614.1 1678.93,575.5 1679.02,561.1 1679.12,583.4 1679.21,584.8 1679.31,529.4 1679.4,570 1679.5,585 1679.59,585.5 1679.68,555.5 1679.78,533 1679.88,485.5 1679.97,504.8 1680.07,495.7 1680.16,540 1680.26,570.4 1680.35,556.5 1680.45,533 1680.54,561.8 1680.64,553.2 1680.73,588.3 1680.83,514.4 1680.92,506.1 1681.02,544.7 1681.11,486.4 1681.21,523.8 1681.3,606.3 1681.39,592.2 1681.49,572.4 1681.59,537.8 1681.68,479.5 1681.78,543.7 1681.87,569.9 1681.97,595.2 1682.06,599 1682.16,602.4 1682.25,563.7 1682.35,572.4 1682.44,526.6 1682.54,509.5 1682.63,487.6 1682.73,443.5 1682.82,522.9 1682.91,541.3 1683.01,467.6 1683.11,514.8 1683.2,592.4 1683.3,501.5 1683.39,455.3 1683.49,557.1 1683.58,574.6 1683.68,568.3 1683.77,605.9 1683.87,592.4 1683.96,545.3 1684.06,565.4 1684.15,568.2 1684.25,565.4 1684.34,555.2 1684.43,571.5 1684.53,528.6 1684.62,478.2 1684.72,445.5 1684.82,461.7 1684.91,568 1685.01,532.3 1685.1,507 1685.2,543.1 1685.29,564.7 1685.39,594.4 1685.48,556.5 1685.58,566.2 1685.67,572.1 1685.77,496.2 1685.86,484.6 1685.96,463.9 1686.05,489.9 1686.14,471.3 1686.24,438 1686.34,460.7 1686.43,562 1686.53,575.2 1686.62,555.7 1686.72,524.9 1686.81,542.7 1686.91,564.9 1687,527.6 1687.1,458.8 1687.19,427.2 1687.29,288.3 1687.38,400.9 1687.48,519 1687.57,508.3 1687.66,515.3 1687.76,573.4 1687.86,557.7 1687.95,613.9 1688.05,615.9 1688.14,566.1 1688.24,549.6 1688.33,570.3 1688.43,563.9 1688.52,570.1 1688.62,551.6 1688.71,595.1 1688.81,592.2 1688.9,533.2 1689,396.2 1689.09,471.9 1689.18,624.9 1689.28,615.6 1689.38,613.6 1689.47,557.2 1689.57,576.1 1689.66,516.1 1689.76,501.9 1689.85,582.2 1689.95,548.8 1690.04,536.3 1690.14,521.3 1690.23,513.1 1690.33,589.6 1690.42,557.8 1690.52,608.5 1690.61,539.1 1690.71,515.2 1690.8,515.2 1690.89,568.7 1690.99,627.8 1691.09,565.4 1691.18,565.9 1691.28,593.1 1691.37,496.8 1691.47,470.6 1691.56,436.3 1691.66,513.9 1691.75,581.5 1691.85,491 1691.94,449.8 1692.04,545.3 1692.13,556.1 1692.23,581.8 1692.32,611 1692.41,608.2 1692.51,567.8 1692.61,623 1692.7,561.1 1692.8,529.8 1692.89,514.8 1692.99,440.7 1693.08,475.4 1693.18,603.4 1693.27,560.1 1693.37,515.5 1693.46,491.4 1693.56,456.5 1693.65,525.7 1693.75,466.6 1693.84,440.3 1693.93,459.7 1694.03,396.7 1694.12,373.7 1694.22,468.8 1694.32,532.4 1694.41,503.5 1694.51,438.3 1694.6,462 1694.7,608.3 1694.79,536 1694.89,589.1 1694.98,555.1 1695.08,581.6 1695.17,454.8 1695.27,443.5 1695.36,599.7 1695.46,562.7 1695.55,491.4 1695.64,424.6 1695.74,451.6 1695.84,490.3 1695.93,545.5 1696.03,585.8 1696.12,592.6 1696.22,516.4 1696.31,586.9 1696.41,538.7 1696.5,574.4 1696.6,614.7 1696.69,512.4 1696.79,597.1 1696.88,493.9 1696.98,473.4 1697.07,543.8 1697.16,555 1697.26,511.4 1697.36,577.4 1697.45,568.4 1697.55,563.5 1697.64,554.4 1697.74,493.3 1697.83,520.9 1697.93,579.4 1698.02,585.9 1698.12,533 1698.21,549.8 1698.31,584.4 1698.4,541 1698.5,552 1698.59,511.1 1698.68,588 1698.78,553.5 1698.88,553 1698.97,542.8 1699.07,579.6 1699.16,541.3 1699.26,516.2 1699.35,434.7 1699.45,431.8 1699.54,520 1699.64,526.3 1699.73,536.5 1699.83,556.3 1699.92,592 1700.02,575 1700.11,495.8 1700.21,501.1 1700.3,499.7 1700.39,486.6 1700.49,547.1 1700.59,584.9 1700.68,578.7 1700.78,530.5 1700.87,576.1 1700.97,550.4 1701.06,603.5 1701.16,520.4 1701.25,511.3 1701.35,558 1701.44,572.3 1701.54,476.4 1701.63,475.4 1701.73,585.8 1701.82,534.8 1701.91,501.8 1702.01,455.7 1702.11,441.9 1702.2,596.2 1702.3,565.2 1702.39,597.4 1702.49,570.5 1702.58,589.3 1702.68,608.1 1702.77,585.3 1702.87,576.3 1702.96,572.1 1703.06,520 1703.15,594.9 1703.25,628.4 1703.34,586.8 1703.43,557.6 1703.53,494.9 1703.62,473.7 1703.72,567.3 1703.82,563.1 1703.91,488.1 1704.01,483 1704.1,548.3 1704.2,524.8 1704.29,522.4 1704.39,513.1 1704.48,493 1704.58,522 1704.67,552.4 1704.77,593.2 1704.86,584.1 1704.96,564.8 1705.05,595.8 1705.14,586.3 1705.24,569.9 1705.34,587.7 1705.43,534.4 1705.53,593.1 1705.62,547 1705.72,589.2 1705.81,475.8 1705.91,307 1706,468.8 1706.1,563.3 1706.19,477.7 1706.29,478.3 1706.38,529 1706.48,603.1 1706.57,544 1706.66,530.9 1706.76,531.8 1706.86,554.2 1706.95,618 1707.05,619.3 1707.14,572.3 1707.24,541.9 1707.33,419.8 1707.43,450.2 1707.52,569 1707.62,587.7 1707.71,546.5 1707.81,541.4 1707.9,543.5 1708,596.6 1708.09,621.3 1708.18,526.4 1708.28,431.5 1708.38,446.9 1708.47,555.1 1708.57,582.7 1708.66,617.5 1708.76,562 1708.85,573.4 1708.95,521.9 1709.04,609.2 1709.14,523.1 1709.23,566.8 1709.33,467.8 1709.42,523.4 1709.52,592.4 1709.61,525.2 1709.71,562.2 1709.8,511.9 1709.89,561.3 1709.99,551.1 1710.09,533.2 1710.18,489.3 1710.28,398.4 1710.37,451.1 1710.47,515.6 1710.56,523.9 1710.66,573.4 1710.75,512.5 1710.85,465.2 1710.94,467.4 1711.04,406.9 1711.13,479 1711.23,501.6 1711.32,549.8 1711.41,594.3 1711.51,540 1711.61,557.8 1711.7,587.1 1711.8,570.9 1711.89,566.3 1711.99,568.5 1712.08,553.6 1712.18,583 1712.27,566.3 1712.37,561.4 1712.46,565.6 1712.56,533.6 1712.65,565 1712.75,563.3 1712.84,565.8 1712.93,587.1 1713.03,563.1 1713.12,531.8 1713.22,552.9 1713.32,567 1713.41,577.8 1713.51,574.9 1713.6,593.3 1713.7,596.3 1713.79,580.7 1713.89,525.6 1713.98,499.7 1714.08,618.1 1714.17,559.9 1714.27,529.1 1714.36,441.5 1714.46,480 1714.55,580.1 1714.64,579 1714.74,506.7 1714.84,540.6 1714.93,508.7 1715.03,366 1715.12,475.8 1715.22,609.4 1715.31,529.2 1715.41,492.6 1715.5,451.8 1715.6,488.9 1715.69,563.3 1715.79,577.5 1715.88,551.7 1715.98,561.3 1716.07,535.2 1716.16,610.9 1716.26,605.3 1716.36,599.9 1716.45,491.1 1716.55,510.8 1716.64,578.8 1716.74,567.1 1716.83,563.2 1716.93,619.7 1717.02,523.4 1717.12,399.8 1717.21,530.2 1717.31,543.6 1717.4,537.6 1717.5,551.8 1717.59,605.2 1717.68,592.5 1717.78,584.4 1717.88,543.3 1717.97,561.3 1718.07,546.7 1718.16,578.2 1718.26,557 1718.35,486.1 1718.45,465.5 1718.54,536.2 1718.64,600.6 1718.73,618.5 1718.83,581.7 1718.92,556.9 1719.02,568 1719.11,496.8 1719.21,459.9 1719.3,492.8 1719.39,578.1 1719.49,515 1719.59,514.3 1719.68,624 1719.78,588 1719.87,578.6 1719.97,573.3 1720.06,555.4 1720.16,518.9 1720.25,560 1720.35,558 1720.44,522 1720.54,571.2 1720.63,603.4 1720.73,578.8 1720.82,574.5 1720.91,632.4 1721.01,569.5 1721.11,544.4 1721.2,513 1721.3,503.8 1721.39,559.9 1721.49,570.1 1721.58,558.3 1721.68,524.3 1721.77,524.2 1721.87,494.7 1721.96,546.6 1722.06,616.5 1722.15,581.8 1722.25,561.1 1722.34,498.9 1722.43,510.8 1722.53,515.1 1722.62,575.9 1722.72,550.7 1722.82,554.3 1722.91,540 1723.01,560.6 1723.1,633.7 1723.2,498.2 1723.29,524.8 1723.39,612.2 1723.48,590.5 1723.58,570.5 1723.67,545 1723.77,518.3 1723.86,542.9 1723.96,509 1724.05,484.3 1724.14,578.8 1724.24,539.5 1724.34,491.4 1724.43,566.8 1724.53,554.8 1724.62,518.5 1724.72,506.7 1724.81,580.4 1724.91,546.3 1725,560.5 1725.1,574.7 1725.19,545.8 1725.29,513.7 1725.38,541.9 1725.48,522.9 1725.57,546.3 1725.66,568.5 1725.76,580.4 1725.86,536.5 1725.95,614.2 1726.05,517.3 1726.14,472.1 1726.24,602.2 1726.33,539.5 1726.43,540.7 1726.52,615.1 1726.62,597.4 1726.71,537 1726.81,471.9 1726.9,502.4 1727,477.5 1727.09,541.6 1727.18,552.4 1727.28,617.9 1727.38,575.3 1727.47,605.2 1727.57,578.5 1727.66,518.7 1727.76,537.8 1727.85,566.9 1727.95,503.2 1728.04,536.4 1728.14,605.5 1728.23,559.7 1728.33,508.5 1728.42,555.4 1728.52,532.6 1728.61,500 1728.71,477.9 1728.8,546.4 1728.89,566.6 1728.99,594.9 1729.09,491.2 1729.18,561.8 1729.28,572.8 1729.37,564.1 1729.47,573.8 1729.56,548.1 1729.66,450.8 1729.75,465.6 1729.85,510 1729.94,615.5 1730.04,549.3 1730.13,517.9 1730.23,480.9 1730.32,503.7 1730.41,556.4 1730.51,551.9 1730.61,573.5 1730.7,500.2 1730.8,490.4 1730.89,534.6 1730.99,562 1731.08,598.8 1731.18,542 1731.27,574.4 1731.37,465.7 1731.46,545.8 1731.56,532.5 1731.65,534.1 1731.75,583.1 1731.84,627.4 1731.93,593.5 1732.03,609 1732.12,579.9 1732.22,573.2 1732.32,542.7 1732.41,522 1732.51,471.8 1732.6,522.6 1732.7,488.9 1732.79,545.3 1732.89,565.3 1732.98,497.2 1733.08,484.1 1733.17,496.7 1733.27,509 1733.36,497.3 1733.46,532.3 1733.55,533.1 1733.64,519.9 1733.74,601.1 1733.84,594.1 1733.93,554.4 1734.03,579 1734.12,574.4 1734.22,616 1734.31,512.3 1734.41,596.4 1734.5,530.5 1734.6,522.8 1734.69,592.9 1734.79,596.4 1734.88,613.5 1734.98,580.8 1735.07,603.8 1735.16,606.5 1735.26,523.4 1735.36,463.3 1735.45,584.5 1735.55,541.8 1735.64,519.6 1735.74,560.5 1735.83,606.4 1735.93,516.6 1736.02,479 1736.12,456.5 1736.21,513.2 1736.31,572.6 1736.4,548.6 1736.5,554.7 1736.59,575.2 1736.68,535.6 1736.78,556.8 1736.88,480.5 1736.97,378 1737.07,522.6 1737.16,521.2 1737.26,588 1737.35,612.8 1737.45,539.4 1737.54,457.5 1737.64,496.1 1737.73,578 1737.83,573.3 1737.92,613.6 1738.02,620.2 1738.11,577.2 1738.21,573.4 1738.3,583.2 1738.39,557.8 1738.49,578 1738.59,500.9 1738.68,515.7 1738.78,588.4 1738.87,571.8 1738.97,560 1739.06,600.7 1739.16,520 1739.25,560.2 1739.35,612.5 1739.44,532.1 1739.54,552.8 1739.63,612.7 1739.73,569.9 1739.82,482.7 1739.91,545.9 1740.01,503 1740.11,430.5 1740.2,583.1 1740.3,487.9 1740.39,432.2 1740.49,504.5 1740.58,585.6 1740.68,529.6 1740.77,441.9 1740.87,567.4 1740.96,585.2 1741.06,572.3 1741.15,570.1 1741.25,541 1741.34,600.8 1741.43,522.3 1741.53,528 1741.62,540.2 1741.72,524.7 1741.82,581.1 1741.91,553.4 1742.01,489.4 1742.1,509.6 1742.2,503.4 1742.29,480.2 1742.39,503.6 1742.48,528.9 1742.58,560.8 1742.67,570.4 1742.77,545.9 1742.86,554.9 1742.96,563.7 1743.05,516.6 1743.14,511.2 1743.24,531.2 1743.34,581.8 1743.43,581.1 1743.53,598.3 1743.62,484.9 1743.72,459.7 1743.81,618.6 1743.91,606.2 1744,594 1744.1,571.6 1744.19,539.5 1744.29,564.8 1744.38,545.6 1744.48,494.6 1744.57,478.4 1744.66,559.1 1744.76,567.3 1744.86,528 1744.95,534.7 1745.05,491.6 1745.14,545.5 1745.24,566.9 1745.33,559.1 1745.43,555.8 1745.52,592.6 1745.62,589.2 1745.71,578.2 1745.81,527.6 1745.9,505.2 1746,466.4 1746.09,501.8 1746.18,544.6 1746.28,584.2 1746.38,595.3 1746.47,527.4 1746.57,569.3 1746.66,570.4 1746.76,535.9 1746.85,544.8 1746.95,511.4 1747.04,553.2 1747.14,570.7 1747.23,485.3 1747.33,513.5 1747.42,590.3 1747.52,557.6 1747.61,509.7 1747.71,586.8 1747.8,603.9 1747.89,555.9 1747.99,545.1 1748.09,621.8 1748.18,613.7 1748.28,562.9 1748.37,563.3 1748.47,563.5 1748.56,507.1 1748.66,498.1 1748.75,556 1748.85,540.6 1748.94,513.8 1749.04,561.1 1749.13,575.9 1749.23,581.8 1749.32,533 1749.41,561.8 1749.51,528.8 1749.61,510.6 1749.7,557.1 1749.8,490.1 1749.89,448.6 1749.99,531.7 1750.08,543.4 1750.18,490 1750.27,546.9 1750.37,398.7 1750.46,431.1 1750.56,532.5 1750.65,535.1 1750.75,579.8 1750.84,544.5 1750.93,516 1751.03,437.5 1751.12,508 1751.22,548.1 1751.32,550.8 1751.41,628.5 1751.51,565.2 1751.6,538.3 1751.7,562.6 1751.79,574.8 1751.89,499.2 1751.98,477.7 1752.08,545.5 1752.17,528.5 1752.27,545.4 1752.36,553.5 1752.46,527.2 1752.55,605.3 1752.64,509 1752.74,476.4 1752.84,482.3 1752.93,521.8 1753.03,558.9 1753.12,513.9 1753.22,521.5 1753.31,586.9 1753.41,492.2 1753.5,534.6 1753.6,513.4 1753.69,470.1 1753.79,549.1 1753.88,505.7 1753.98,465.5 1754.07,501.8 1754.16,543.2 1754.26,531.2 1754.36,464.3 1754.45,499.4 1754.55,592.9 1754.64,593.6 1754.74,513.5 1754.83,571.1 1754.93,561.8 1755.02,576.3 1755.12,544.9 1755.21,541.2 1755.31,596.4 1755.4,519.4 1755.5,372 1755.59,477.3 1755.68,518.4 1755.78,462.7 1755.88,503.4 1755.97,564.2 1756.07,529.6 1756.16,537.3 1756.26,581.2 1756.35,566.3 1756.45,525.9 1756.54,595.2 1756.64,588.5 1756.73,543.9 1756.83,514.4 1756.92,565.8 1757.02,613.6 1757.11,580.2 1757.21,588.8 1757.3,593.7 1757.39,557.6 1757.49,564.7 1757.59,632.2 1757.68,530 1757.78,462.6 1757.87,574.8 1757.97,575.9 1758.06,507.3 1758.16,530.2 1758.25,569.2 1758.35,487.9 1758.44,487 1758.54,544.5 1758.63,533.9 1758.73,593.3 1758.82,551 1758.91,494.6 1759.01,411.3 1759.11,503.3 1759.2,600.1 1759.3,581.3 1759.39,526.5 1759.49,537.2 1759.58,571.3 1759.68,620.4 1759.77,516.5 1759.87,573.2 1759.96,618.4 1760.06,592.7 1760.15,524.3 1760.25,420.2 1760.34,452.5 1760.43,542.9 1760.53,613 1760.62,571.4 1760.72,596 1760.82,579.1 1760.91,548.3 1761.01,548.6 1761.1,563.9 1761.2,538.7 1761.29,560.1 1761.39,511.2 1761.48,481.7 1761.58,535.7 1761.67,597.3 1761.77,497.3 1761.86,554.9 1761.96,469.8 1762.05,444.2 1762.14,576.7 1762.24,566.8 1762.34,573.8 1762.43,593.7 1762.53,622.1 1762.62,529.2 1762.72,556.9 1762.81,537.3 1762.91,580.7 1763,580.4 1763.1,590.8 1763.19,471 1763.29,533.5 1763.38,501.8 1763.48,467.7 1763.57,612.8 1763.66,556.7 1763.76,597.8 1763.86,545.8 1763.95,494.1 1764.05,588.3 1764.14,535.1 1764.24,605.6 1764.33,533.3 1764.43,605.4 1764.52,543.7 1764.62,556.6 1764.71,536.4 1764.81,627.4 1764.9,529.9 1765,571.1 1765.09,538.4 1765.18,607.3 1765.28,567.4 1765.38,605.3 1765.47,516.1 1765.57,536.3 1765.66,526.8 1765.76,502.7 1765.85,533.5 1765.95,613 1766.04,584.7 1766.14,560 1766.23,537.8 1766.33,577.3 1766.42,562.5 1766.52,474.5 1766.61,552.6 1766.71,584 1766.8,583.1 1766.89,545.1 1766.99,598.6 1767.09,525.6 1767.18,557.1 1767.28,552.9 1767.37,576.1 1767.47,593.9 1767.56,578.1 1767.66,532.6 1767.75,534.1 1767.85,512.1 1767.94,603.8 1768.04,538.8 1768.13,572 1768.23,545.5 1768.32,523.1 1768.41,473.3 1768.51,480.2 1768.61,474.6 1768.7,452.2 1768.8,532 1768.89,587 1768.99,569.4 1769.08,536.7 1769.18,509.4 1769.27,510.4 1769.37,453.1 1769.46,432.3 1769.56,528.6 1769.65,590.2 1769.75,536.8 1769.84,587.7 1769.93,567.3 1770.03,438.1 1770.12,502.5 1770.22,595.5 1770.32,579.2 1770.41,544.6 1770.51,579.3 1770.6,578.1 1770.7,585.9 1770.79,621.7 1770.89,570.5 1770.98,530.1 1771.08,566.9 1771.17,562.4 1771.27,561.1 1771.36,529.3 1771.46,593.3 1771.55,602.8 1771.64,579.5 1771.74,556.9 1771.84,511.5 1771.93,440.6 1772.03,460.3 1772.12,521.2 1772.22,507.3 1772.31,489.3 1772.41,566.1 1772.5,636 1772.6,570.7 1772.69,539.3 1772.79,563.4 1772.88,550.5 1772.98,619.1 1773.07,547.5 1773.16,592.9 1773.26,573 1773.36,492.5 1773.45,463.1 1773.55,547.8 1773.64,513.6 1773.74,574.3 1773.83,568.1 1773.93,579.1 1774.02,536.2 1774.12,576.6 1774.21,610.2 1774.31,554.2 1774.4,476.8 1774.5,522.8 1774.59,578.7 1774.68,570.7 1774.78,545.7 1774.88,581.8 1774.97,559.7 1775.07,485.3 1775.16,434.4 1775.26,527.3 1775.35,615.4 1775.45,567.7 1775.54,536.6 1775.64,553.4 1775.73,540.8 1775.83,607.9 1775.92,493 1776.02,504 1776.11,559.2 1776.21,538 1776.3,550.6 1776.39,568.8 1776.49,489.8 1776.59,497 1776.68,583.5 1776.78,526.7 1776.87,547.6 1776.97,602.1 1777.06,615.9 1777.16,500.4 1777.25,404.2 1777.35,499.7 1777.44,535.4 1777.54,528.7 1777.63,567.1 1777.73,591.4 1777.82,572.9 1777.91,606.8 1778.01,598.8 1778.11,575.9 1778.2,520.2 1778.3,523.1 1778.39,623.4 1778.49,521.6 1778.58,546.8 1778.68,500.9 1778.77,528.7 1778.87,549.8 1778.96,530.7 1779.06,469.8 1779.15,459.4 1779.25,460 1779.34,587.6 1779.43,537.9 1779.53,539.9 1779.62,541.5 1779.72,559.1 1779.82,574.4 1779.91,606.9 1780.01,613 1780.1,558.6 1780.2,526.1 1780.29,577.2 1780.39,590 1780.48,572.9 1780.58,594.9 1780.67,504.8 1780.77,491.5 1780.86,440.1 1780.96,499.4 1781.05,537.7 1781.14,481 1781.24,547.5 1781.34,617.1 1781.43,615.6 1781.53,583.2 1781.62,592 1781.72,499 1781.81,475.1 1781.91,573.3 1782,493.2 1782.1,530.5 1782.19,514.7 1782.29,492.4 1782.38,555.4 1782.48,584.1 1782.57,578.5 1782.66,527.9 1782.76,562.1 1782.86,594 1782.95,542.9 1783.05,544.5 1783.14,569.4 1783.24,564.6 1783.33,557.3 1783.43,569.6 1783.52,515.3 1783.62,550.7 1783.71,579.1 1783.81,548.9 1783.9,589.2 1784,530.9 1784.09,568.4 1784.18,580.2 1784.28,520.1 1784.38,555.6 1784.47,559 1784.57,528.9 1784.66,510.6 1784.76,520.2 1784.85,556.2 1784.95,585.3 1785.04,509.3 1785.14,562.1 1785.23,587.6 1785.33,566.8 1785.42,526.8 1785.52,547.8 1785.61,593.5 1785.71,574.1 1785.8,512 1785.89,571.6 1785.99,576.8 1786.09,579.9 1786.18,549.7 1786.28,513.1 1786.37,502.6 1786.47,484.8 1786.56,547.5 1786.66,547.3 1786.75,557.2 1786.85,551.8 1786.94,621.5 1787.04,595.4 1787.13,483 1787.23,461.8 1787.32,533.3 1787.41,526.5 1787.51,584.7 1787.61,558.1 1787.7,547.5 1787.8,577.9 1787.89,579.6 1787.99,539.6 1788.08,507.1 1788.18,562.8 1788.27,563.1 1788.37,455.2 1788.46,461.5 1788.56,502.9 1788.65,564.4 1788.75,523.5 1788.84,536.7 1788.93,553.2 1789.03,473.8 1789.12,399.7 1789.22,448.1 1789.32,562.6 1789.41,496.4 1789.51,566.6 1789.6,601.3 1789.7,579.1 1789.79,504.6 1789.89,543.2 1789.98,596.2 1790.08,592.9 1790.17,584.6 1790.27,566.4 1790.36,562 1790.46,597.6 1790.55,575.1 1790.64,517.4 1790.74,520.5 1790.84,474.9 1790.93,512.6 1791.03,596.4 1791.12,616.3 1791.22,556.7 1791.31,597 1791.41,579.5 1791.5,515.3 1791.6,574.2 1791.69,521.2 1791.79,570.2 1791.88,595.8 1791.98,562.9 1792.07,593.5 1792.16,567.8 1792.26,551 1792.36,556.4 1792.45,623.7 1792.55,567.1 1792.64,554.2 1792.74,519.3 1792.83,592.9 1792.93,555.9 1793.02,583.6 1793.12,570 1793.21,540.2 1793.31,597.2 1793.4,584.3 1793.5,580.1 1793.59,577.8 1793.68,563.4 1793.78,448.3 1793.88,448.8 1793.97,507.6 1794.07,537.8 1794.16,537.8 1794.26,584.8 1794.35,559.5 1794.45,509.5 1794.54,482.4 1794.64,541.9 1794.73,597.7 1794.83,516 1794.92,478.4 1795.02,534 1795.11,562.4 1795.21,622 1795.3,551.3 1795.39,555.8 1795.49,518.7 1795.59,567.3 1795.68,585.3 1795.78,567.5 1795.87,549.5 1795.97,546 1796.06,607.5 1796.16,609.8 1796.25,616.7 1796.35,578 1796.44,590.4 1796.54,580.1 1796.63,595.9 1796.73,587.2 1796.82,589.4 1796.91,596.6 1797.01,487 1797.11,497.5 1797.2,565.2 1797.3,579.4 1797.39,532 1797.49,509.1 1797.58,518.9 1797.68,577.5 1797.77,585.4 1797.87,552.4 1797.96,455.7 1798.06,536.2 1798.15,609.1 1798.25,502.6 1798.34,535.2 1798.43,580.2 1798.53,534.4 1798.62,484.8 1798.72,528.9 1798.82,518.4 1798.91,556.8 1799.01,517.4 1799.1,552.7 1799.2,466.3 1799.29,590.7 1799.39,548.9 1799.48,586.7 1799.58,571.3 1799.67,567.5 1799.77,520.6 1799.86,523.8 1799.96,573.7 1800.05,591.3 1800.14,575 1800.24,540.7 1800.34,585 1800.43,562.5 1800.53,556.9 1800.62,499.7 1800.72,474.4 1800.81,516 1800.91,514.5 1801,557.5 1801.1,551 1801.19,564 1801.29,583 1801.38,516.8 1801.48,548.5 1801.57,553.7 1801.66,567.8 1801.76,459.3 1801.86,359 1801.95,474 1802.05,582.9 1802.14,552.3 1802.24,553.7 1802.33,543.2 1802.43,557.3 1802.52,562.5 1802.62,539.2 1802.71,585.6 1802.81,593 1802.9,602 1803,589.3 1803.09,599.5 1803.18,573.5 1803.28,479.4 1803.38,505.9 1803.47,577.2 1803.57,558.4 1803.66,579.9 1803.76,508.3 1803.85,464.3 1803.95,511.9 1804.04,515.4 1804.14,504.9 1804.23,552.1 1804.33,554.2 1804.42,510.7 1804.52,521 1804.61,582.5 1804.71,568.9 1804.8,574 1804.89,619.9 1804.99,585 1805.09,589 1805.18,582.8 1805.28,501.8 1805.37,541.3 1805.47,570.4 1805.56,579.5 1805.66,582.1 1805.75,554.5 1805.85,611.7 1805.94,602.9 1806.04,575.6 1806.13,589.1 1806.23,527.6 1806.32,493.1 1806.41,532 1806.51,500.9 1806.61,522.2 1806.7,535.3 1806.8,563.2 1806.89,428.7 1806.99,455 1807.08,587.3 1807.18,509.1 1807.27,580.9 1807.37,495.8 1807.46,466.6 1807.56,574.4 1807.65,571.1 1807.75,570.1 1807.84,597.3 1807.93,582.4 1808.03,555 1808.12,448.2 1808.22,591.5 1808.32,519.9 1808.41,535.3 1808.51,494.3 1808.6,497.3 1808.7,501.6 1808.79,481 1808.89,494.6 1808.98,570.5 1809.08,613.9 1809.17,556.6 1809.27,536.3 1809.36,480.2 1809.46,617.9 1809.55,578 1809.64,601.3 1809.74,623.6 1809.84,590.5 1809.93,564.1 1810.03,594.2 1810.12,589.8 1810.22,579.5 1810.31,559.8 1810.41,559.9 1810.5,618.3 1810.6,610.3 1810.69,610.5 1810.79,589.5 1810.88,549.5 1810.98,564.7 1811.07,586.7 1811.16,610.2 1811.26,554.9 1811.36,542.5 1811.45,583 1811.55,610.9 1811.64,607.2 1811.74,588.4 1811.83,580.5 1811.93,560.7 1812.02,538 1812.12,582.1 1812.21,524.8 1812.31,472.9 1812.4,525.6 1812.5,566.5 1812.59,565.8 1812.68,526.1 1812.78,553.5 1812.88,586.2 1812.97,612.4 1813.07,523.6 1813.16,394.3 1813.26,548.1 1813.35,504.6 1813.45,473.2 1813.54,510.7 1813.64,537.9 1813.73,473.4 1813.83,464.5 1813.92,472.6 1814.02,529.4 1814.11,546.5 1814.21,512.8 1814.3,512.5 1814.39,465 1814.49,527.2 1814.59,604.7 1814.68,579 1814.78,534.8 1814.87,498 1814.97,569.9 1815.06,595.7 1815.16,527.9 1815.25,510.5 1815.35,530.9 1815.44,564.8 1815.54,608.3 1815.63,617.4 1815.73,562.7 1815.82,529.2 1815.91,627.5 1816.01,574.1 1816.11,614.8 1816.2,611.9 1816.3,584.8 1816.39,559.3 1816.49,559.3 1816.58,455 1816.68,422.7 1816.77,441.1 1816.87,560.1 1816.96,531.7 1817.06,499 1817.15,550.7 1817.25,570.4 1817.34,552.5 1817.43,572.5 1817.53,589.8 1817.62,487.8 1817.72,528.3 1817.82,538.7 1817.91,556.5 1818.01,591.1 1818.1,550.9 1818.2,454.4 1818.29,469.5 1818.39,464.4 1818.48,472.4 1818.58,564.7 1818.67,441 1818.77,504.6 1818.86,520.5 1818.96,493.9 1819.05,569.2 1819.14,542.4 1819.24,519.9 1819.34,607.5 1819.43,575.9 1819.53,531.8 1819.62,546.3 1819.72,571.3 1819.81,525.7 1819.91,398.4 1820,479.7 1820.1,623.2 1820.19,527.1 1820.29,471.6 1820.38,501.4 1820.48,582.9 1820.57,503.6 1820.66,462.5 1820.76,522.9 1820.86,542.3 1820.95,431.7 1821.05,529.6 1821.14,496.6 1821.24,465.3 1821.33,533.1 1821.43,576.3 1821.52,588.3 1821.62,553 1821.71,570.4 1821.81,580.6 1821.9,558.9" fill="none" stroke="#0000ff" stroke-width="1.83" stroke-linejoin="round"/>
<text transform="translate(1049.6 651.8) scale(0.984 1.07)" font-size="28" text-anchor="end">0</text>
<text transform="translate(1049.6 561.73) scale(0.984 1.07)" font-size="28" text-anchor="end">0.005</text>
<text transform="translate(1049.6 471.66) scale(0.984 1.07)" font-size="28" text-anchor="end">0.01</text>
<text transform="translate(1049.6 381.59) scale(0.984 1.07)" font-size="28" text-anchor="end">0.015</text>
<text transform="translate(1049.6 291.52) scale(0.984 1.07)" font-size="28" text-anchor="end">0.02</text>
<text transform="translate(1049.6 201.45) scale(0.984 1.07)" font-size="28" text-anchor="end">0.025</text>
<text transform="translate(1049.6 111.38) scale(0.984 1.07)" font-size="28" text-anchor="end">0.03</text>
<text transform="translate(1049.6 21.31) scale(0.984 1.07)" font-size="28" text-anchor="end">0.035</text>
<text transform="translate(1061.5 679.1) scale(0.984 1.07)" font-size="28" text-anchor="middle">0</text>
<text transform="translate(1156.5 679.1) scale(0.984 1.07)" font-size="28" text-anchor="middle">1000</text>
<text transform="translate(1251.5 679.1) scale(0.984 1.07)" font-size="28" text-anchor="middle">2000</text>
<text transform="translate(1346.5 679.1) scale(0.984 1.07)" font-size="28" text-anchor="middle">3000</text>
<text transform="translate(1441.5 679.1) scale(0.984 1.07)" font-size="28" text-anchor="middle">4000</text>
<text transform="translate(1536.5 679.1) scale(0.984 1.07)" font-size="28" text-anchor="middle">5000</text>
<text transform="translate(1631.5 679.1) scale(0.984 1.07)" font-size="28" text-anchor="middle">6000</text>
<text transform="translate(1726.5 679.1) scale(0.984 1.07)" font-size="28" text-anchor="middle">7000</text>
<text transform="translate(1821.5 679.1) scale(0.984 1.07)" font-size="28" text-anchor="middle">8000</text>
<text transform="translate(1441.5 715.2) scale(1 0.93)" font-size="30.5" text-anchor="middle">Frequency (Hz)</text>
<text transform="translate(1405.8 789) scale(1 1.045)" font-size="34" text-anchor="middle" style="fill:#111">(b)</text>
<rect x="1521.9" y="40.9" width="268.7" height="214.3" fill="#fff" stroke="#2b2b2b" stroke-width="1"/>
<text transform="translate(1589.5 286.7) scale(0.97 1.1)" font-size="22.5" text-anchor="middle">1200</text>
<text transform="translate(1681.72 286.7) scale(0.97 1.1)" font-size="22.5" text-anchor="middle">1300</text>
<text transform="translate(1773.94 286.7) scale(0.97 1.1)" font-size="22.5" text-anchor="middle">1400</text>
<text transform="translate(1512.2 264.5) scale(0.97 1.1)" font-size="22.5" text-anchor="end">0</text>
<text transform="translate(1512.2 220.88) scale(0.97 1.1)" font-size="22.5" text-anchor="end">0.005</text>
<text transform="translate(1512.2 177.25) scale(0.97 1.1)" font-size="22.5" text-anchor="end">0.01</text>
<text transform="translate(1512.2 133.62) scale(0.97 1.1)" font-size="22.5" text-anchor="end">0.015</text>
<text transform="translate(1512.2 90) scale(0.97 1.1)" font-size="22.5" text-anchor="end">0.02</text>
<path d="M1589.5 255.2v-4.5M1589.5 40.9v4.5M1681.72 255.2v-4.5M1681.72 40.9v4.5M1773.94 255.2v-4.5M1773.94 40.9v4.5M1521.9 211.57h4.5M1790.6 211.57h-4.5M1521.9 167.95h4.5M1790.6 167.95h-4.5M1521.9 124.32h4.5M1790.6 124.32h-4.5M1521.9 80.7h4.5M1790.6 80.7h-4.5" stroke="#2b2b2b" stroke-width="1" fill="none"/>
<clipPath id="ic"><rect x="1521.9" y="40.9" width="268.7" height="214.3"/></clipPath>
<path d="M1522.2 160C1522.5 172.4 1523.5 234 1523.9 242.8C1524.3 242.8 1524.7 220.4 1525 218.9C1525.3 218.9 1525.7 232.5 1526.1 233C1526.5 233 1527 222.4 1527.5 222.4C1528 222.6 1528.6 234.4 1529.5 234.4C1530.4 225 1532.6 178.6 1533.4 160C1534.2 141.4 1534.3 110.2 1535.1 110.2C1535.9 120.7 1537.6 218.5 1538.6 230.2C1539.6 230.2 1541 203.8 1541.8 188C1542.6 172.2 1543.1 125.2 1544 125.2C1544.9 131.1 1546.6 227.4 1547.9 227.4C1549.2 219.8 1551.5 74.6 1552.8 74.2C1554.1 74.2 1555.7 219 1556.6 224.5C1557.5 224.5 1558.2 118.3 1558.7 110.9C1559.2 110.9 1559.5 175 1559.9 175C1560.3 174.2 1560.6 105.3 1561.1 105.3C1561.5 114.2 1562.2 226.6 1562.9 234.4C1563.6 234.4 1565.1 166.3 1565.7 157.2C1566.3 157.2 1566.7 174 1567.1 174C1567.5 172.9 1568 150 1568.5 150C1569 159.1 1569.7 234.4 1570.2 234.4C1570.7 231.8 1571.3 146.9 1571.7 132.7C1572.1 132.7 1572.5 139.7 1572.8 140C1573.1 140 1573.2 134.8 1573.8 134.8C1574.4 148.1 1576.1 228.7 1576.9 228.8C1577.7 228.8 1578.3 141.2 1579 135.5C1579.7 135.5 1580.9 174.4 1581.8 190.9C1582.7 207.4 1584.4 245.6 1585.3 245.6C1586.2 224.1 1587.2 48.2 1588 47.5C1588.8 47.5 1590 230.3 1590.7 240.7C1591.4 240.7 1591.7 119.3 1592.6 116.6C1593.5 116.6 1595.5 213.2 1596.6 222.4C1597.7 222.4 1599 177.6 1599.8 177.6C1600.6 179.2 1601.2 229.7 1601.9 233C1602.6 233 1604.1 199.3 1604.7 199.3C1605.3 200.1 1605.6 238.6 1606.1 238.6C1606.6 237.5 1607.6 195 1608.2 192.3C1608.8 192.3 1609.4 220.3 1609.9 220.3C1610.4 212.4 1611.1 139.7 1611.7 139.7C1612.3 143.5 1613.3 236.6 1614.1 245.6C1614.9 245.6 1616.3 203.2 1616.9 200C1617.5 200 1617.4 224.5 1617.9 224.5C1618.4 201.5 1619.4 48.4 1620 46.7C1620.6 46.7 1621.6 198.8 1622.2 213.3C1622.8 213.3 1623.6 147.4 1624.2 143.2C1624.8 143.2 1625.6 183 1626 185.3C1626.4 185.3 1626.6 158.6 1627.1 158.6C1627.6 162.4 1628.7 208.6 1629.5 210.5C1630.3 210.5 1631.6 171.2 1632.3 171.2C1633 174.9 1633.3 233.6 1634.1 235.1C1634.9 235.1 1636.8 197.6 1637.9 181.1C1639 164.6 1640.4 125.2 1641.4 125.2C1642.4 130.7 1643.9 212 1644.7 217.5C1645.5 217.5 1646.3 173.7 1647 162.1C1647.7 150.5 1649.1 140.4 1649.6 140.4C1650.1 141.8 1650.1 171.2 1650.6 171.2C1651.1 168.2 1652.3 120.1 1653.1 120.1C1653.9 127.5 1655.3 215.7 1656.2 220.3C1657.1 220.3 1658.4 150.9 1659.2 150.9C1660 152.2 1660.7 219 1661.3 228.8C1661.9 228.8 1662.5 228.8 1663.1 216.1C1663.7 202.9 1664.9 143.2 1665.5 141.1C1666.1 141.1 1666.7 202.1 1667.2 202.1C1667.7 199.9 1668.5 126.4 1669 126.4C1669.5 132.1 1670.1 240 1670.7 240C1671.3 236.6 1672.1 104.5 1672.8 103.9C1673.5 103.9 1674.7 223.9 1675.3 235.8C1675.9 235.8 1676.3 183.2 1676.7 183.2C1677.1 184 1677.6 239.8 1678.1 241.4C1678.6 241.4 1679.6 206.9 1680.2 193.7C1680.8 180.5 1681.7 155.6 1682.4 153.7C1683.1 153.7 1683.9 167.8 1684.7 181.1C1685.5 194.4 1687.3 242.1 1688 242.1C1688.7 237.8 1688.8 161.2 1689.1 152.3C1689.4 152.3 1689.7 182.5 1690.1 182.5C1690.5 179.1 1691.4 129.9 1691.9 129.9C1692.4 133.9 1693.1 207.2 1693.6 209.1C1694.1 209.1 1694.6 142.5 1695.4 142.5C1696.2 148.4 1697.9 247.8 1698.8 248.4C1699.7 248.4 1700.6 150.3 1701.3 146.7C1702 146.7 1702.7 209.9 1703.4 224.5C1704.1 239.1 1705.5 243.3 1706.2 244.2C1706.9 244.2 1707.6 230.6 1708 230.2C1708.4 230.2 1708.6 241.4 1709 241.4C1709.4 230.7 1710.4 164.8 1710.8 158.6C1711.2 158.6 1711.5 199 1711.8 200C1712.1 200 1712.2 165 1712.7 165C1713.2 171 1714.1 240 1715 240C1715.9 233.4 1717.7 122.1 1718.8 120.8C1719.9 120.8 1721.5 220.7 1722.3 231.6C1723.1 231.6 1723.6 204.4 1724.2 193.7C1724.8 183 1725.4 160 1726.1 160C1726.8 166.7 1727.8 238.6 1728.9 238.6C1730 236.6 1732.3 150.5 1733.3 146.7C1734.3 146.7 1735 204.8 1735.7 213.3C1736.4 213.3 1737.3 203.5 1737.8 203.5C1738.3 208.2 1738.7 244.9 1739.2 244.9C1739.7 242.3 1740.7 188.6 1741.3 186C1741.9 186 1742.4 227.4 1743.1 227.4C1743.8 222.5 1745.3 153 1745.9 153C1746.5 153.8 1746.5 227.9 1746.9 233C1747.3 233 1748.1 189.4 1748.7 186.7C1749.3 186.7 1750.4 214.7 1751.1 214.7C1751.8 209 1752.5 148.8 1753.2 148.8C1753.9 150.5 1755.2 220.5 1755.7 226C1756.2 226 1756.2 185.3 1756.7 185.3C1757.2 188.2 1758.3 245.3 1759.1 245.6C1759.9 245.6 1761.6 191.6 1762.3 187.4C1763 187.4 1763.3 217.5 1763.7 217.5C1764.1 209.2 1764.6 136.2 1765.1 132C1765.6 132 1766.2 189.5 1766.8 189.5C1767.4 182.6 1768.7 96.4 1769.3 85.7C1769.9 85.7 1770.1 118 1770.5 118C1770.9 117.2 1771.3 80.1 1771.8 80.1C1772.2 94.4 1773.1 202.8 1773.5 213.3C1773.9 213.3 1774.1 150.2 1774.5 150.2C1774.9 154 1775.7 238.5 1776.3 238.6C1776.9 238.6 1778.1 151.6 1778.7 150.9C1779.3 150.9 1779.5 233.7 1780.1 233.7C1780.7 226 1781.8 106.6 1782.6 99.7C1783.4 99.7 1784.5 167.8 1785.2 188C1785.9 208.2 1786.5 234.4 1787.3 234.4C1788.1 225.4 1789.9 131.2 1790.4 127.8C1790.9 127.8 1790.8 199.4 1790.9 212" fill="none" stroke="#0000ff" stroke-width="1.25" stroke-linejoin="round" clip-path="url(#ic)"/>
<circle cx="1641.35" cy="127.5" r="8.8" fill="none" stroke="#e8202c" stroke-width="1.5"/>
<text transform="translate(1643 111.6) scale(1.15 1)" font-size="30" style="fill:#000" font-style="italic">f</text>
<text transform="translate(1650.6 111.7)" font-size="22.5" style="fill:#000">o</text>
</svg></body></html>
